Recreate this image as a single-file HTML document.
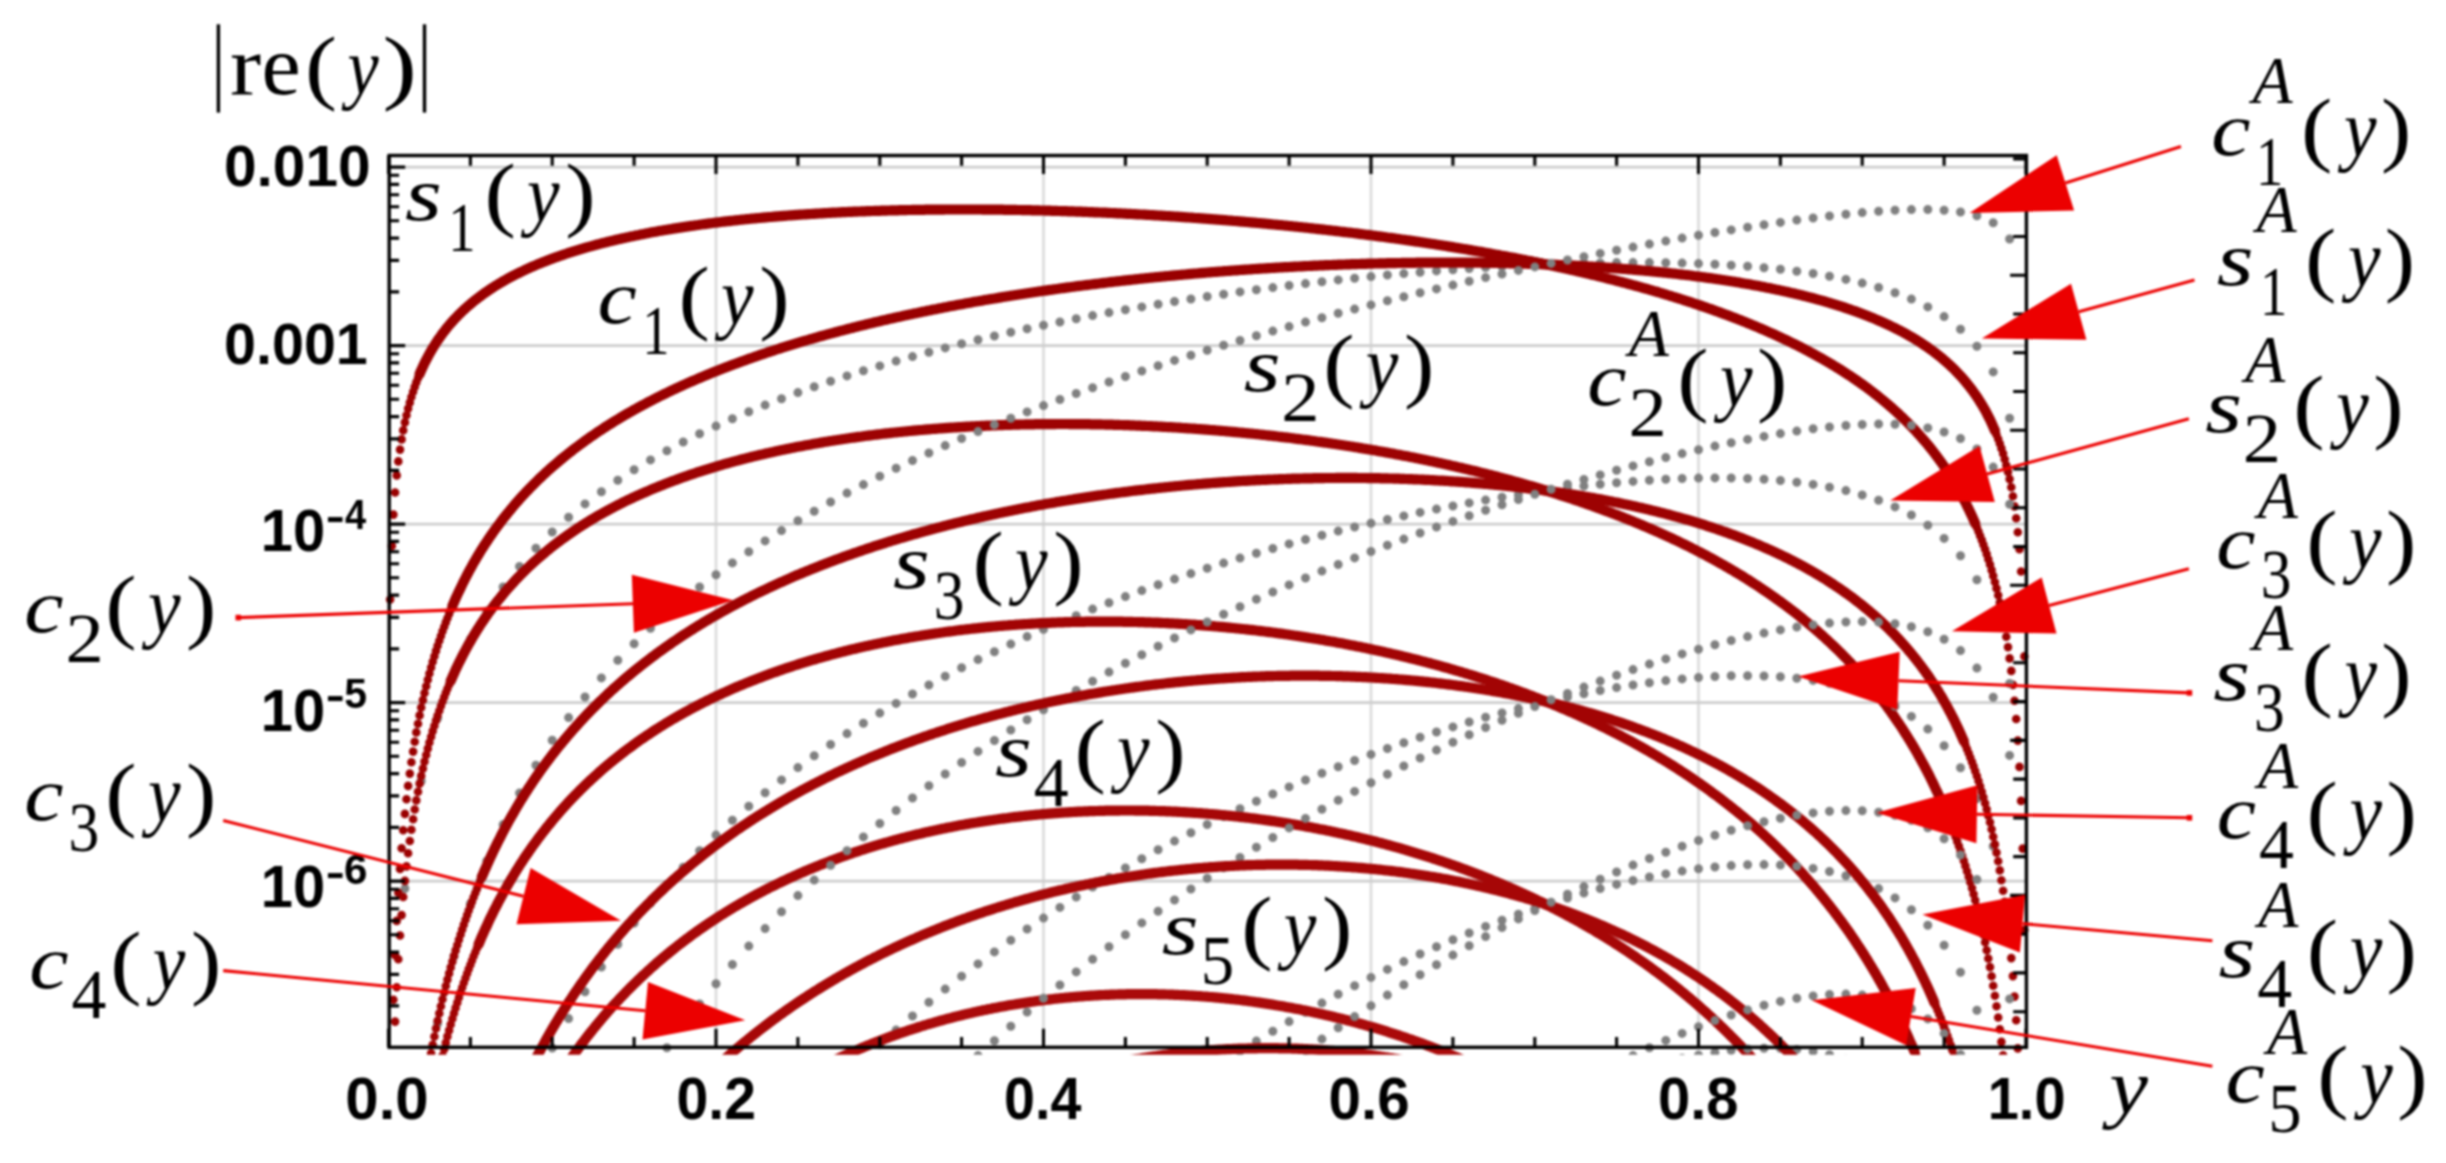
<!DOCTYPE html>
<html><head><meta charset="utf-8"><title>Relative error of arcsine and arccosine approximations</title>
<style>
html,body{margin:0;padding:0;background:#fff}
svg{display:block;filter:blur(1.0px)}
text{font-family:"Liberation Serif",serif;font-size:100px;fill:#000}
.t{font-family:"Liberation Sans",sans-serif;font-weight:bold}
.i{font-style:italic}
</style></head><body>
<svg width="2446" height="1163" viewBox="0 0 2446 1163">
<rect width="2446" height="1163" fill="#fff"/>
<defs><clipPath id="cp"><rect x="383.2" y="149.5" width="1649.2" height="905.3"/></clipPath></defs>
<path d="M716.0 155.5V1047.3M1043.5 155.5V1047.3M1371.0 155.5V1047.3M1698.5 155.5V1047.3" stroke="#dadada" stroke-width="2.6" fill="none"/>
<path d="M389.2 881.1H2026.4M389.2 702.6H2026.4M389.2 524.1H2026.4M389.2 345.6H2026.4M389.2 167.1H2026.4" stroke="#cdcdcd" stroke-width="2.6" fill="none"/>
<g clip-path="url(#cp)">
<path d="M390.1 599.5h0M391.8 545.9h0M393.4 514.6h0M395.1 492.5h0M396.7 475.4h0M398.3 461.4h0M400.0 449.6h0M401.6 439.4h0M403.2 430.4h0M404.9 422.4h0M406.5 415.2h0M408.1 408.6h0M409.8 402.6h0M411.4 397.0h0M413.1 391.8h0M414.7 386.9h0M416.3 382.4h0M418.0 378.1h0M1976.9 527.5h0M1978.5 531.5h0M1980.1 535.7h0M1981.8 540.1h0M1983.4 544.6h0M1985.1 549.3h0M1986.7 554.1h0M1988.3 559.2h0M1990.0 564.5h0M1991.6 570.1h0M1993.2 575.9h0M1994.9 582.0h0M1996.5 588.4h0M1998.2 595.3h0M1999.8 602.5h0M2001.4 610.2h0M2003.1 618.4h0M2004.7 627.2h0M2006.3 636.7h0M2008.0 647.1h0M2009.6 658.4h0M2011.3 670.9h0M2012.9 684.9h0M2014.5 700.7h0M2016.2 719.0h0M2017.8 740.6h0M2019.5 766.9h0M2021.1 800.9h0M2022.7 848.6h0M2024.4 930.0h0" stroke="#990000" stroke-width="8.6" stroke-linecap="round" fill="none"/><path d="M419.6 374.1L421.2 370.3L422.9 366.6L424.5 363.2L426.2 359.9L427.8 356.8L429.4 353.8L431.1 350.9L432.7 348.1L434.4 345.5L436.0 342.9L437.6 340.4L439.3 338.1L440.9 335.8L442.5 333.5L444.2 331.4L445.8 329.3L447.4 327.3L449.1 325.3L450.7 323.4L452.4 321.5L454.0 319.7L455.6 318.0L457.3 316.3L458.9 314.6L460.6 313.0L462.2 311.4L463.8 309.9L465.5 308.4L467.1 306.9L468.7 305.5L470.4 304.1L472.0 302.7L473.6 301.4L475.3 300.0L476.9 298.8L478.6 297.5L480.2 296.3L481.8 295.1L483.5 293.9L485.1 292.7L486.8 291.6L488.4 290.5L490.0 289.4L491.7 288.3L493.3 287.2L494.9 286.2L496.6 285.2L498.2 284.2L499.9 283.2L501.5 282.2L503.1 281.3L504.8 280.3L506.4 279.4L508.0 278.5L509.7 277.6L511.3 276.7L513.0 275.9L514.6 275.0L516.2 274.2L517.9 273.4L519.5 272.6L521.1 271.8L522.8 271.0L524.4 270.2L526.0 269.5L527.7 268.7L529.3 268.0L531.0 267.2L532.6 266.5L534.2 265.8L535.9 265.1L537.5 264.4L539.1 263.7L540.8 263.1L542.4 262.4L544.1 261.8L545.7 261.1L547.3 260.5L549.0 259.9L550.6 259.2L552.2 258.6L553.9 258.0L555.5 257.4L557.2 256.9L558.8 256.3L560.4 255.7L562.1 255.1L563.7 254.6L565.4 254.0L567.0 253.5L568.6 252.9L570.3 252.4L571.9 251.9L573.5 251.4L575.2 250.9L576.8 250.4L578.5 249.9L580.1 249.4L581.7 248.9L583.4 248.4L585.0 247.9L586.6 247.4L588.3 247.0L589.9 246.5L591.5 246.1L593.2 245.6L594.8 245.2L596.5 244.7L598.1 244.3L599.7 243.9L601.4 243.4L603.0 243.0L604.6 242.6L606.3 242.2L607.9 241.8L609.6 241.4L611.2 241.0L612.8 240.6L614.5 240.2L616.1 239.8L617.8 239.4L619.4 239.1L621.0 238.7L622.7 238.3L624.3 238.0L625.9 237.6L627.6 237.2L629.2 236.9L630.9 236.5L632.5 236.2L634.1 235.9L635.8 235.5L637.4 235.2L639.0 234.9L640.7 234.5L642.3 234.2L644.0 233.9L645.6 233.6L647.2 233.2L648.9 232.9L650.5 232.6L652.1 232.3L653.8 232.0L655.4 231.7L657.0 231.4L658.7 231.1L660.3 230.8L662.0 230.6L663.6 230.3L665.2 230.0L666.9 229.7L668.5 229.4L670.2 229.2L671.8 228.9L673.4 228.6L675.1 228.4L676.7 228.1L678.3 227.9L680.0 227.6L681.6 227.4L683.2 227.1L684.9 226.9L686.5 226.6L688.2 226.4L689.8 226.1L691.4 225.9L693.1 225.7L694.7 225.4L696.4 225.2L698.0 225.0L699.6 224.7L701.3 224.5L702.9 224.3L704.5 224.1L706.2 223.9L707.8 223.6L709.5 223.4L711.1 223.2L712.7 223.0L714.4 222.8L716.0 222.6L717.6 222.4L719.3 222.2L720.9 222.0L722.5 221.8L724.2 221.6L725.8 221.4L727.5 221.2L729.1 221.1L730.7 220.9L732.4 220.7L734.0 220.5L735.6 220.3L737.3 220.2L738.9 220.0L740.6 219.8L742.2 219.6L743.8 219.5L745.5 219.3L747.1 219.1L748.8 219.0L750.4 218.8L752.0 218.6L753.7 218.5L755.3 218.3L756.9 218.2L758.6 218.0L760.2 217.9L761.9 217.7L763.5 217.6L765.1 217.4L766.8 217.3L768.4 217.1L770.0 217.0L771.7 216.9L773.3 216.7L775.0 216.6L776.6 216.4L778.2 216.3L779.9 216.2L781.5 216.1L783.1 215.9L784.8 215.8L786.4 215.7L788.0 215.5L789.7 215.4L791.3 215.3L793.0 215.2L794.6 215.1L796.2 214.9L797.9 214.8L799.5 214.7L801.1 214.6L802.8 214.5L804.4 214.4L806.1 214.3L807.7 214.2L809.3 214.1L811.0 214.0L812.6 213.9L814.2 213.8L815.9 213.7L817.5 213.6L819.2 213.5L820.8 213.4L822.4 213.3L824.1 213.2L825.7 213.1L827.4 213.0L829.0 212.9L830.6 212.8L832.3 212.7L833.9 212.7L835.5 212.6L837.2 212.5L838.8 212.4L840.5 212.3L842.1 212.2L843.7 212.2L845.4 212.1L847.0 212.0L848.6 211.9L850.3 211.9L851.9 211.8L853.6 211.7L855.2 211.7L856.8 211.6L858.5 211.5L860.1 211.5L861.7 211.4L863.4 211.3L865.0 211.3L866.6 211.2L868.3 211.1L869.9 211.1L871.6 211.0L873.2 211.0L874.8 210.9L876.5 210.9L878.1 210.8L879.8 210.8L881.4 210.7L883.0 210.7L884.7 210.6L886.3 210.6L887.9 210.5L889.6 210.5L891.2 210.4L892.8 210.4L894.5 210.3L896.1 210.3L897.8 210.3L899.4 210.2L901.0 210.2L902.7 210.1L904.3 210.1L906.0 210.1L907.6 210.0L909.2 210.0L910.9 210.0L912.5 209.9L914.1 209.9L915.8 209.9L917.4 209.9L919.1 209.8L920.7 209.8L922.3 209.8L924.0 209.8L925.6 209.7L927.2 209.7L928.9 209.7L930.5 209.7L932.1 209.7L933.8 209.6L935.4 209.6L937.1 209.6L938.7 209.6L940.3 209.6L942.0 209.6L943.6 209.6L945.2 209.5L946.9 209.5L948.5 209.5L950.2 209.5L951.8 209.5L953.4 209.5L955.1 209.5L956.7 209.5L958.4 209.5L960.0 209.5L961.6 209.5L963.3 209.5L964.9 209.5L966.5 209.5L968.2 209.5L969.8 209.5L971.4 209.5L973.1 209.5L974.7 209.5L976.4 209.5L978.0 209.5L979.6 209.5L981.3 209.5L982.9 209.6L984.5 209.6L986.2 209.6L987.8 209.6L989.5 209.6L991.1 209.6L992.7 209.6L994.4 209.6L996.0 209.7L997.6 209.7L999.3 209.7L1000.9 209.7L1002.6 209.7L1004.2 209.8L1005.8 209.8L1007.5 209.8L1009.1 209.8L1010.8 209.9L1012.4 209.9L1014.0 209.9L1015.7 209.9L1017.3 210.0L1018.9 210.0L1020.6 210.0L1022.2 210.1L1023.9 210.1L1025.5 210.1L1027.1 210.2L1028.8 210.2L1030.4 210.2L1032.0 210.3L1033.7 210.3L1035.3 210.3L1037.0 210.4L1038.6 210.4L1040.2 210.5L1041.9 210.5L1043.5 210.5L1045.1 210.6L1046.8 210.6L1048.4 210.7L1050.1 210.7L1051.7 210.8L1053.3 210.8L1055.0 210.9L1056.6 210.9L1058.2 211.0L1059.9 211.0L1061.5 211.1L1063.2 211.1L1064.8 211.2L1066.4 211.2L1068.1 211.3L1069.7 211.3L1071.3 211.4L1073.0 211.4L1074.6 211.5L1076.2 211.6L1077.9 211.6L1079.5 211.7L1081.2 211.7L1082.8 211.8L1084.4 211.9L1086.1 211.9L1087.7 212.0L1089.3 212.1L1091.0 212.1L1092.6 212.2L1094.3 212.3L1095.9 212.3L1097.5 212.4L1099.2 212.5L1100.8 212.5L1102.5 212.6L1104.1 212.7L1105.7 212.7L1107.4 212.8L1109.0 212.9L1110.6 213.0L1112.3 213.0L1113.9 213.1L1115.5 213.2L1117.2 213.3L1118.8 213.4L1120.5 213.4L1122.1 213.5L1123.7 213.6L1125.4 213.7L1127.0 213.8L1128.7 213.8L1130.3 213.9L1131.9 214.0L1133.6 214.1L1135.2 214.2L1136.8 214.3L1138.5 214.4L1140.1 214.5L1141.8 214.5L1143.4 214.6L1145.0 214.7L1146.7 214.8L1148.3 214.9L1149.9 215.0L1151.6 215.1L1153.2 215.2L1154.8 215.3L1156.5 215.4L1158.1 215.5L1159.8 215.6L1161.4 215.7L1163.0 215.8L1164.7 215.9L1166.3 216.0L1168.0 216.1L1169.6 216.2L1171.2 216.3L1172.9 216.4L1174.5 216.5L1176.1 216.6L1177.8 216.7L1179.4 216.8L1181.0 216.9L1182.7 217.1L1184.3 217.2L1186.0 217.3L1187.6 217.4L1189.2 217.5L1190.9 217.6L1192.5 217.7L1194.2 217.9L1195.8 218.0L1197.4 218.1L1199.1 218.2L1200.7 218.3L1202.3 218.4L1204.0 218.6L1205.6 218.7L1207.2 218.8L1208.9 218.9L1210.5 219.1L1212.2 219.2L1213.8 219.3L1215.4 219.4L1217.1 219.6L1218.7 219.7L1220.3 219.8L1222.0 219.9L1223.6 220.1L1225.3 220.2L1226.9 220.3L1228.5 220.5L1230.2 220.6L1231.8 220.7L1233.5 220.9L1235.1 221.0L1236.7 221.1L1238.4 221.3L1240.0 221.4L1241.6 221.6L1243.3 221.7L1244.9 221.8L1246.6 222.0L1248.2 222.1L1249.8 222.3L1251.5 222.4L1253.1 222.6L1254.7 222.7L1256.4 222.8L1258.0 223.0L1259.7 223.1L1261.3 223.3L1262.9 223.4L1264.6 223.6L1266.2 223.7L1267.8 223.9L1269.5 224.1L1271.1 224.2L1272.8 224.4L1274.4 224.5L1276.0 224.7L1277.7 224.8L1279.3 225.0L1280.9 225.1L1282.6 225.3L1284.2 225.5L1285.8 225.6L1287.5 225.8L1289.1 226.0L1290.8 226.1L1292.4 226.3L1294.0 226.5L1295.7 226.6L1297.3 226.8L1299.0 227.0L1300.6 227.1L1302.2 227.3L1303.9 227.5L1305.5 227.6L1307.1 227.8L1308.8 228.0L1310.4 228.2L1312.1 228.3L1313.7 228.5L1315.3 228.7L1317.0 228.9L1318.6 229.1L1320.2 229.2L1321.9 229.4L1323.5 229.6L1325.2 229.8L1326.8 230.0L1328.4 230.2L1330.1 230.3L1331.7 230.5L1333.3 230.7L1335.0 230.9L1336.6 231.1L1338.2 231.3L1339.9 231.5L1341.5 231.7L1343.2 231.9L1344.8 232.1L1346.4 232.3L1348.1 232.5L1349.7 232.6L1351.3 232.8L1353.0 233.0L1354.6 233.2L1356.3 233.4L1357.9 233.6L1359.5 233.9L1361.2 234.1L1362.8 234.3L1364.4 234.5L1366.1 234.7L1367.7 234.9L1369.4 235.1L1371.0 235.3L1372.6 235.5L1374.3 235.7L1375.9 235.9L1377.5 236.2L1379.2 236.4L1380.8 236.6L1382.5 236.8L1384.1 237.0L1385.7 237.2L1387.4 237.5L1389.0 237.7L1390.7 237.9L1392.3 238.1L1393.9 238.3L1395.6 238.6L1397.2 238.8L1398.8 239.0L1400.5 239.3L1402.1 239.5L1403.8 239.7L1405.4 239.9L1407.0 240.2L1408.7 240.4L1410.3 240.6L1411.9 240.9L1413.6 241.1L1415.2 241.4L1416.8 241.6L1418.5 241.8L1420.1 242.1L1421.8 242.3L1423.4 242.6L1425.0 242.8L1426.7 243.1L1428.3 243.3L1430.0 243.6L1431.6 243.8L1433.2 244.0L1434.9 244.3L1436.5 244.6L1438.1 244.8L1439.8 245.1L1441.4 245.3L1443.0 245.6L1444.7 245.8L1446.3 246.1L1448.0 246.4L1449.6 246.6L1451.2 246.9L1452.9 247.1L1454.5 247.4L1456.2 247.7L1457.8 247.9L1459.4 248.2L1461.1 248.5L1462.7 248.8L1464.3 249.0L1466.0 249.3L1467.6 249.6L1469.2 249.9L1470.9 250.1L1472.5 250.4L1474.2 250.7L1475.8 251.0L1477.4 251.3L1479.1 251.5L1480.7 251.8L1482.4 252.1L1484.0 252.4L1485.6 252.7L1487.3 253.0L1488.9 253.3L1490.5 253.6L1492.2 253.9L1493.8 254.2L1495.5 254.5L1497.1 254.7L1498.7 255.0L1500.4 255.4L1502.0 255.7L1503.6 256.0L1505.3 256.3L1506.9 256.6L1508.6 256.9L1510.2 257.2L1511.8 257.5L1513.5 257.8L1515.1 258.1L1516.7 258.4L1518.4 258.8L1520.0 259.1L1521.7 259.4L1523.3 259.7L1524.9 260.0L1526.6 260.4L1528.2 260.7L1529.8 261.0L1531.5 261.3L1533.1 261.7L1534.8 262.0L1536.4 262.3L1538.0 262.7L1539.7 263.0L1541.3 263.3L1542.9 263.7L1544.6 264.0L1546.2 264.4L1547.8 264.7L1549.5 265.1L1551.1 265.4L1552.8 265.8L1554.4 266.1L1556.0 266.5L1557.7 266.8L1559.3 267.2L1561.0 267.5L1562.6 267.9L1564.2 268.2L1565.9 268.6L1567.5 269.0L1569.1 269.3L1570.8 269.7L1572.4 270.1L1574.0 270.4L1575.7 270.8L1577.3 271.2L1579.0 271.6L1580.6 272.0L1582.2 272.3L1583.9 272.7L1585.5 273.1L1587.1 273.5L1588.8 273.9L1590.4 274.3L1592.1 274.7L1593.7 275.0L1595.3 275.4L1597.0 275.8L1598.6 276.2L1600.2 276.6L1601.9 277.0L1603.5 277.4L1605.2 277.9L1606.8 278.3L1608.4 278.7L1610.1 279.1L1611.7 279.5L1613.3 279.9L1615.0 280.3L1616.6 280.8L1618.3 281.2L1619.9 281.6L1621.5 282.0L1623.2 282.5L1624.8 282.9L1626.5 283.3L1628.1 283.8L1629.7 284.2L1631.4 284.6L1633.0 285.1L1634.6 285.5L1636.3 286.0L1637.9 286.4L1639.5 286.9L1641.2 287.3L1642.8 287.8L1644.5 288.3L1646.1 288.7L1647.7 289.2L1649.4 289.7L1651.0 290.1L1652.7 290.6L1654.3 291.1L1655.9 291.5L1657.6 292.0L1659.2 292.5L1660.8 293.0L1662.5 293.5L1664.1 294.0L1665.8 294.5L1667.4 295.0L1669.0 295.5L1670.7 296.0L1672.3 296.5L1673.9 297.0L1675.6 297.5L1677.2 298.0L1678.9 298.5L1680.5 299.0L1682.1 299.5L1683.8 300.1L1685.4 300.6L1687.0 301.1L1688.7 301.6L1690.3 302.2L1692.0 302.7L1693.6 303.3L1695.2 303.8L1696.9 304.4L1698.5 304.9L1700.1 305.5L1701.8 306.0L1703.4 306.6L1705.1 307.1L1706.7 307.7L1708.3 308.3L1710.0 308.8L1711.6 309.4L1713.2 310.0L1714.9 310.6L1716.5 311.2L1718.2 311.8L1719.8 312.4L1721.4 313.0L1723.1 313.6L1724.7 314.2L1726.3 314.8L1728.0 315.4L1729.6 316.0L1731.2 316.6L1732.9 317.3L1734.5 317.9L1736.2 318.5L1737.8 319.2L1739.4 319.8L1741.1 320.4L1742.7 321.1L1744.4 321.7L1746.0 322.4L1747.6 323.1L1749.3 323.7L1750.9 324.4L1752.5 325.1L1754.2 325.8L1755.8 326.4L1757.5 327.1L1759.1 327.8L1760.7 328.5L1762.4 329.2L1764.0 329.9L1765.6 330.6L1767.3 331.4L1768.9 332.1L1770.5 332.8L1772.2 333.5L1773.8 334.3L1775.5 335.0L1777.1 335.8L1778.7 336.5L1780.4 337.3L1782.0 338.1L1783.6 338.8L1785.3 339.6L1786.9 340.4L1788.6 341.2L1790.2 342.0L1791.8 342.8L1793.5 343.6L1795.1 344.4L1796.8 345.2L1798.4 346.0L1800.0 346.9L1801.7 347.7L1803.3 348.5L1804.9 349.4L1806.6 350.3L1808.2 351.1L1809.8 352.0L1811.5 352.9L1813.1 353.8L1814.8 354.7L1816.4 355.6L1818.0 356.5L1819.7 357.4L1821.3 358.3L1823.0 359.2L1824.6 360.2L1826.2 361.1L1827.9 362.1L1829.5 363.0L1831.1 364.0L1832.8 365.0L1834.4 366.0L1836.0 367.0L1837.7 368.0L1839.3 369.0L1841.0 370.0L1842.6 371.1L1844.2 372.1L1845.9 373.2L1847.5 374.3L1849.2 375.3L1850.8 376.4L1852.4 377.5L1854.1 378.6L1855.7 379.7L1857.3 380.9L1859.0 382.0L1860.6 383.2L1862.2 384.3L1863.9 385.5L1865.5 386.7L1867.2 387.9L1868.8 389.1L1870.4 390.4L1872.1 391.6L1873.7 392.9L1875.4 394.2L1877.0 395.4L1878.6 396.7L1880.3 398.1L1881.9 399.4L1883.5 400.7L1885.2 402.1L1886.8 403.5L1888.5 404.9L1890.1 406.3L1891.7 407.7L1893.4 409.2L1895.0 410.6L1896.6 412.1L1898.3 413.6L1899.9 415.2L1901.6 416.7L1903.2 418.3L1904.8 419.9L1906.5 421.5L1908.1 423.1L1909.7 424.8L1911.4 426.5L1913.0 428.2L1914.7 429.9L1916.3 431.7L1917.9 433.5L1919.6 435.3L1921.2 437.1L1922.8 439.0L1924.5 440.9L1926.1 442.8L1927.8 444.8L1929.4 446.8L1931.0 448.8L1932.7 450.9L1934.3 453.0L1935.9 455.1L1937.6 457.3L1939.2 459.6L1940.9 461.8L1942.5 464.1L1944.1 466.5L1945.8 468.9L1947.4 471.4L1949.0 473.9L1950.7 476.4L1952.3 479.1L1954.0 481.8L1955.6 484.5L1957.2 487.3L1958.9 490.2L1960.5 493.1L1962.1 496.2L1963.8 499.3L1965.4 502.4L1967.0 505.7L1968.7 509.1L1970.3 512.5L1972.0 516.1L1973.6 519.8L1975.2 523.6" stroke="#990000" stroke-width="10.2" stroke-linejoin="round" stroke-linecap="round" fill="none"/>
<path d="M404.9 888.5h0M421.2 781.0h0M437.6 718.2h0M454.0 673.6h0M470.4 639.1h0M486.8 610.9h0M503.1 587.0h0M519.5 566.4h0M535.9 548.2h0M552.2 532.0h0M568.6 517.3h0M585.0 503.9h0M601.4 491.7h0M617.8 480.3h0M634.1 469.8h0M650.5 459.9h0M666.9 450.7h0M683.2 442.0h0M699.6 433.8h0M716.0 426.1h0M732.4 418.7h0M748.8 411.7h0M765.1 405.1h0M781.5 398.7h0M797.9 392.6h0M814.2 386.8h0M830.6 381.3h0M847.0 375.9h0M863.4 370.8h0M879.8 365.9h0M896.1 361.1h0M912.5 356.6h0M928.9 352.2h0M945.2 347.9h0M961.6 343.8h0M978.0 339.8h0M994.4 336.0h0M1010.8 332.3h0M1027.1 328.8h0M1043.5 325.3h0M1059.9 322.0h0M1076.2 318.8h0M1092.6 315.6h0M1109.0 312.6h0M1125.4 309.7h0M1141.8 306.9h0M1158.1 304.2h0M1174.5 301.5h0M1190.9 299.0h0M1207.2 296.5h0M1223.6 294.2h0M1240.0 291.9h0M1256.4 289.7h0M1272.8 287.6h0M1289.1 285.5h0M1305.5 283.6h0M1321.9 281.7h0M1338.2 279.9h0M1354.6 278.2h0M1371.0 276.6h0M1387.4 275.0h0M1403.8 273.6h0M1420.1 272.2h0M1436.5 270.9h0M1452.9 269.7h0M1469.2 268.5h0M1485.6 267.5h0M1502.0 266.5h0M1518.4 265.7h0M1534.8 264.9h0M1551.1 264.2h0M1567.5 263.7h0M1583.9 263.2h0M1600.2 262.9h0M1616.6 262.6h0M1633.0 262.6h0M1649.4 262.6h0M1665.8 262.8h0M1682.1 263.1h0M1698.5 263.6h0M1714.9 264.3h0M1731.2 265.2h0M1747.6 266.3h0M1764.0 267.7h0M1780.4 269.3h0M1796.8 271.2h0M1813.1 273.5h0M1829.5 276.2h0M1845.9 279.4h0M1862.2 283.1h0M1878.6 287.5h0M1895.0 292.8h0M1911.4 299.1h0M1927.8 306.9h0M1944.1 316.6h0M1960.5 329.2h0M1976.9 346.3h0M1993.2 371.9h0M2009.6 418.3h0" stroke="#808080" stroke-width="9.0" stroke-linecap="round" fill="none"/>
<path d="M395.1 1021.6h0M396.7 987.2h0M398.3 959.2h0M400.0 935.5h0M401.6 915.1h0M403.2 897.0h0M404.9 880.9h0M406.5 866.4h0M408.1 853.2h0M409.8 841.0h0M411.4 829.8h0M413.1 819.3h0M414.7 809.5h0M416.3 800.4h0M418.0 791.8h0M419.6 783.6h0M421.2 775.9h0M422.9 768.6h0M424.5 761.6h0M426.2 755.0h0M427.8 748.6h0M429.4 742.5h0M431.1 736.7h0M432.7 731.1h0M434.4 725.7h0M436.0 720.5h0M437.6 715.5h0M439.3 710.7h0M440.9 706.0h0M442.5 701.5h0M444.2 697.1h0M445.8 692.8h0M447.4 688.7h0M449.1 684.7h0M1945.8 811.6h0M1947.4 815.5h0M1949.0 819.6h0M1950.7 823.8h0M1952.3 828.0h0M1954.0 832.4h0M1955.6 836.8h0M1957.2 841.4h0M1958.9 846.0h0M1960.5 850.8h0M1962.1 855.7h0M1963.8 860.7h0M1965.4 865.9h0M1967.0 871.2h0M1968.7 876.7h0M1970.3 882.3h0M1972.0 888.1h0M1973.6 894.1h0M1975.2 900.3h0M1976.9 906.7h0M1978.5 913.3h0M1980.1 920.1h0M1981.8 927.2h0M1983.4 934.6h0M1985.1 942.2h0M1986.7 950.2h0M1988.3 958.5h0M1990.0 967.1h0M1991.6 976.2h0M1993.2 985.7h0M1994.9 995.8h0M1996.5 1006.3h0M1998.2 1017.5h0M1999.8 1029.3h0M2001.4 1041.9h0M2003.1 1055.4h0" stroke="#9d0202" stroke-width="8.6" stroke-linecap="round" fill="none"/><path d="M450.7 680.8L452.4 677.1L454.0 673.4L455.6 669.8L457.3 666.3L458.9 662.9L460.6 659.6L462.2 656.4L463.8 653.2L465.5 650.1L467.1 647.1L468.7 644.2L470.4 641.3L472.0 638.5L473.6 635.7L475.3 633.0L476.9 630.4L478.6 627.8L480.2 625.2L481.8 622.7L483.5 620.3L485.1 617.9L486.8 615.5L488.4 613.2L490.0 611.0L491.7 608.7L493.3 606.5L494.9 604.4L496.6 602.3L498.2 600.2L499.9 598.2L501.5 596.2L503.1 594.2L504.8 592.2L506.4 590.3L508.0 588.4L509.7 586.6L511.3 584.8L513.0 583.0L514.6 581.2L516.2 579.4L517.9 577.7L519.5 576.0L521.1 574.4L522.8 572.7L524.4 571.1L526.0 569.5L527.7 567.9L529.3 566.4L531.0 564.8L532.6 563.3L534.2 561.8L535.9 560.4L537.5 558.9L539.1 557.5L540.8 556.1L542.4 554.7L544.1 553.3L545.7 551.9L547.3 550.6L549.0 549.2L550.6 547.9L552.2 546.6L553.9 545.3L555.5 544.1L557.2 542.8L558.8 541.6L560.4 540.4L562.1 539.2L563.7 538.0L565.4 536.8L567.0 535.6L568.6 534.5L570.3 533.3L571.9 532.2L573.5 531.1L575.2 530.0L576.8 528.9L578.5 527.8L580.1 526.8L581.7 525.7L583.4 524.7L585.0 523.6L586.6 522.6L588.3 521.6L589.9 520.6L591.5 519.6L593.2 518.6L594.8 517.7L596.5 516.7L598.1 515.8L599.7 514.8L601.4 513.9L603.0 513.0L604.6 512.1L606.3 511.2L607.9 510.3L609.6 509.4L611.2 508.5L612.8 507.7L614.5 506.8L616.1 506.0L617.8 505.1L619.4 504.3L621.0 503.5L622.7 502.6L624.3 501.8L625.9 501.0L627.6 500.2L629.2 499.5L630.9 498.7L632.5 497.9L634.1 497.1L635.8 496.4L637.4 495.6L639.0 494.9L640.7 494.2L642.3 493.4L644.0 492.7L645.6 492.0L647.2 491.3L648.9 490.6L650.5 489.9L652.1 489.2L653.8 488.5L655.4 487.8L657.0 487.2L658.7 486.5L660.3 485.9L662.0 485.2L663.6 484.6L665.2 483.9L666.9 483.3L668.5 482.6L670.2 482.0L671.8 481.4L673.4 480.8L675.1 480.2L676.7 479.6L678.3 479.0L680.0 478.4L681.6 477.8L683.2 477.2L684.9 476.6L686.5 476.1L688.2 475.5L689.8 474.9L691.4 474.4L693.1 473.8L694.7 473.3L696.4 472.7L698.0 472.2L699.6 471.7L701.3 471.1L702.9 470.6L704.5 470.1L706.2 469.6L707.8 469.1L709.5 468.6L711.1 468.1L712.7 467.6L714.4 467.1L716.0 466.6L717.6 466.1L719.3 465.6L720.9 465.1L722.5 464.7L724.2 464.2L725.8 463.7L727.5 463.3L729.1 462.8L730.7 462.4L732.4 461.9L734.0 461.5L735.6 461.0L737.3 460.6L738.9 460.2L740.6 459.7L742.2 459.3L743.8 458.9L745.5 458.5L747.1 458.0L748.8 457.6L750.4 457.2L752.0 456.8L753.7 456.4L755.3 456.0L756.9 455.6L758.6 455.2L760.2 454.8L761.9 454.5L763.5 454.1L765.1 453.7L766.8 453.3L768.4 453.0L770.0 452.6L771.7 452.2L773.3 451.9L775.0 451.5L776.6 451.1L778.2 450.8L779.9 450.4L781.5 450.1L783.1 449.8L784.8 449.4L786.4 449.1L788.0 448.7L789.7 448.4L791.3 448.1L793.0 447.8L794.6 447.4L796.2 447.1L797.9 446.8L799.5 446.5L801.1 446.2L802.8 445.9L804.4 445.6L806.1 445.3L807.7 445.0L809.3 444.7L811.0 444.4L812.6 444.1L814.2 443.8L815.9 443.5L817.5 443.2L819.2 442.9L820.8 442.6L822.4 442.4L824.1 442.1L825.7 441.8L827.4 441.6L829.0 441.3L830.6 441.0L832.3 440.8L833.9 440.5L835.5 440.2L837.2 440.0L838.8 439.7L840.5 439.5L842.1 439.2L843.7 439.0L845.4 438.8L847.0 438.5L848.6 438.3L850.3 438.0L851.9 437.8L853.6 437.6L855.2 437.4L856.8 437.1L858.5 436.9L860.1 436.7L861.7 436.5L863.4 436.2L865.0 436.0L866.6 435.8L868.3 435.6L869.9 435.4L871.6 435.2L873.2 435.0L874.8 434.8L876.5 434.6L878.1 434.4L879.8 434.2L881.4 434.0L883.0 433.8L884.7 433.6L886.3 433.4L887.9 433.3L889.6 433.1L891.2 432.9L892.8 432.7L894.5 432.5L896.1 432.4L897.8 432.2L899.4 432.0L901.0 431.9L902.7 431.7L904.3 431.5L906.0 431.4L907.6 431.2L909.2 431.0L910.9 430.9L912.5 430.7L914.1 430.6L915.8 430.4L917.4 430.3L919.1 430.1L920.7 430.0L922.3 429.9L924.0 429.7L925.6 429.6L927.2 429.4L928.9 429.3L930.5 429.2L932.1 429.0L933.8 428.9L935.4 428.8L937.1 428.7L938.7 428.5L940.3 428.4L942.0 428.3L943.6 428.2L945.2 428.1L946.9 427.9L948.5 427.8L950.2 427.7L951.8 427.6L953.4 427.5L955.1 427.4L956.7 427.3L958.4 427.2L960.0 427.1L961.6 427.0L963.3 426.9L964.9 426.8L966.5 426.7L968.2 426.6L969.8 426.5L971.4 426.4L973.1 426.3L974.7 426.3L976.4 426.2L978.0 426.1L979.6 426.0L981.3 425.9L982.9 425.9L984.5 425.8L986.2 425.7L987.8 425.6L989.5 425.6L991.1 425.5L992.7 425.4L994.4 425.4L996.0 425.3L997.6 425.2L999.3 425.2L1000.9 425.1L1002.6 425.1L1004.2 425.0L1005.8 424.9L1007.5 424.9L1009.1 424.8L1010.8 424.8L1012.4 424.7L1014.0 424.7L1015.7 424.7L1017.3 424.6L1018.9 424.6L1020.6 424.5L1022.2 424.5L1023.9 424.5L1025.5 424.4L1027.1 424.4L1028.8 424.4L1030.4 424.3L1032.0 424.3L1033.7 424.3L1035.3 424.2L1037.0 424.2L1038.6 424.2L1040.2 424.2L1041.9 424.2L1043.5 424.1L1045.1 424.1L1046.8 424.1L1048.4 424.1L1050.1 424.1L1051.7 424.1L1053.3 424.1L1055.0 424.1L1056.6 424.0L1058.2 424.0L1059.9 424.0L1061.5 424.0L1063.2 424.0L1064.8 424.0L1066.4 424.0L1068.1 424.0L1069.7 424.1L1071.3 424.1L1073.0 424.1L1074.6 424.1L1076.2 424.1L1077.9 424.1L1079.5 424.1L1081.2 424.1L1082.8 424.2L1084.4 424.2L1086.1 424.2L1087.7 424.2L1089.3 424.2L1091.0 424.3L1092.6 424.3L1094.3 424.3L1095.9 424.3L1097.5 424.4L1099.2 424.4L1100.8 424.4L1102.5 424.5L1104.1 424.5L1105.7 424.6L1107.4 424.6L1109.0 424.6L1110.6 424.7L1112.3 424.7L1113.9 424.8L1115.5 424.8L1117.2 424.9L1118.8 424.9L1120.5 425.0L1122.1 425.0L1123.7 425.1L1125.4 425.1L1127.0 425.2L1128.7 425.2L1130.3 425.3L1131.9 425.4L1133.6 425.4L1135.2 425.5L1136.8 425.6L1138.5 425.6L1140.1 425.7L1141.8 425.8L1143.4 425.8L1145.0 425.9L1146.7 426.0L1148.3 426.0L1149.9 426.1L1151.6 426.2L1153.2 426.3L1154.8 426.4L1156.5 426.4L1158.1 426.5L1159.8 426.6L1161.4 426.7L1163.0 426.8L1164.7 426.9L1166.3 427.0L1168.0 427.1L1169.6 427.2L1171.2 427.2L1172.9 427.3L1174.5 427.4L1176.1 427.5L1177.8 427.6L1179.4 427.7L1181.0 427.8L1182.7 428.0L1184.3 428.1L1186.0 428.2L1187.6 428.3L1189.2 428.4L1190.9 428.5L1192.5 428.6L1194.2 428.7L1195.8 428.8L1197.4 429.0L1199.1 429.1L1200.7 429.2L1202.3 429.3L1204.0 429.4L1205.6 429.6L1207.2 429.7L1208.9 429.8L1210.5 430.0L1212.2 430.1L1213.8 430.2L1215.4 430.3L1217.1 430.5L1218.7 430.6L1220.3 430.8L1222.0 430.9L1223.6 431.0L1225.3 431.2L1226.9 431.3L1228.5 431.5L1230.2 431.6L1231.8 431.8L1233.5 431.9L1235.1 432.1L1236.7 432.2L1238.4 432.4L1240.0 432.5L1241.6 432.7L1243.3 432.8L1244.9 433.0L1246.6 433.2L1248.2 433.3L1249.8 433.5L1251.5 433.6L1253.1 433.8L1254.7 434.0L1256.4 434.1L1258.0 434.3L1259.7 434.5L1261.3 434.7L1262.9 434.8L1264.6 435.0L1266.2 435.2L1267.8 435.4L1269.5 435.6L1271.1 435.7L1272.8 435.9L1274.4 436.1L1276.0 436.3L1277.7 436.5L1279.3 436.7L1280.9 436.9L1282.6 437.1L1284.2 437.3L1285.8 437.4L1287.5 437.6L1289.1 437.8L1290.8 438.0L1292.4 438.2L1294.0 438.4L1295.7 438.7L1297.3 438.9L1299.0 439.1L1300.6 439.3L1302.2 439.5L1303.9 439.7L1305.5 439.9L1307.1 440.1L1308.8 440.3L1310.4 440.6L1312.1 440.8L1313.7 441.0L1315.3 441.2L1317.0 441.5L1318.6 441.7L1320.2 441.9L1321.9 442.1L1323.5 442.4L1325.2 442.6L1326.8 442.8L1328.4 443.1L1330.1 443.3L1331.7 443.6L1333.3 443.8L1335.0 444.0L1336.6 444.3L1338.2 444.5L1339.9 444.8L1341.5 445.0L1343.2 445.3L1344.8 445.5L1346.4 445.8L1348.1 446.0L1349.7 446.3L1351.3 446.5L1353.0 446.8L1354.6 447.1L1356.3 447.3L1357.9 447.6L1359.5 447.9L1361.2 448.1L1362.8 448.4L1364.4 448.7L1366.1 448.9L1367.7 449.2L1369.4 449.5L1371.0 449.8L1372.6 450.1L1374.3 450.3L1375.9 450.6L1377.5 450.9L1379.2 451.2L1380.8 451.5L1382.5 451.8L1384.1 452.1L1385.7 452.4L1387.4 452.6L1389.0 452.9L1390.7 453.2L1392.3 453.5L1393.9 453.8L1395.6 454.2L1397.2 454.5L1398.8 454.8L1400.5 455.1L1402.1 455.4L1403.8 455.7L1405.4 456.0L1407.0 456.3L1408.7 456.6L1410.3 457.0L1411.9 457.3L1413.6 457.6L1415.2 457.9L1416.8 458.3L1418.5 458.6L1420.1 458.9L1421.8 459.3L1423.4 459.6L1425.0 459.9L1426.7 460.3L1428.3 460.6L1430.0 461.0L1431.6 461.3L1433.2 461.6L1434.9 462.0L1436.5 462.3L1438.1 462.7L1439.8 463.0L1441.4 463.4L1443.0 463.8L1444.7 464.1L1446.3 464.5L1448.0 464.8L1449.6 465.2L1451.2 465.6L1452.9 466.0L1454.5 466.3L1456.2 466.7L1457.8 467.1L1459.4 467.5L1461.1 467.8L1462.7 468.2L1464.3 468.6L1466.0 469.0L1467.6 469.4L1469.2 469.8L1470.9 470.2L1472.5 470.5L1474.2 470.9L1475.8 471.3L1477.4 471.7L1479.1 472.1L1480.7 472.6L1482.4 473.0L1484.0 473.4L1485.6 473.8L1487.3 474.2L1488.9 474.6L1490.5 475.0L1492.2 475.5L1493.8 475.9L1495.5 476.3L1497.1 476.7L1498.7 477.2L1500.4 477.6L1502.0 478.0L1503.6 478.5L1505.3 478.9L1506.9 479.3L1508.6 479.8L1510.2 480.2L1511.8 480.7L1513.5 481.1L1515.1 481.6L1516.7 482.0L1518.4 482.5L1520.0 482.9L1521.7 483.4L1523.3 483.9L1524.9 484.3L1526.6 484.8L1528.2 485.3L1529.8 485.8L1531.5 486.2L1533.1 486.7L1534.8 487.2L1536.4 487.7L1538.0 488.2L1539.7 488.7L1541.3 489.2L1542.9 489.7L1544.6 490.1L1546.2 490.7L1547.8 491.2L1549.5 491.7L1551.1 492.2L1552.8 492.7L1554.4 493.2L1556.0 493.7L1557.7 494.2L1559.3 494.8L1561.0 495.3L1562.6 495.8L1564.2 496.3L1565.9 496.9L1567.5 497.4L1569.1 497.9L1570.8 498.5L1572.4 499.0L1574.0 499.6L1575.7 500.1L1577.3 500.7L1579.0 501.2L1580.6 501.8L1582.2 502.4L1583.9 502.9L1585.5 503.5L1587.1 504.1L1588.8 504.6L1590.4 505.2L1592.1 505.8L1593.7 506.4L1595.3 507.0L1597.0 507.6L1598.6 508.2L1600.2 508.8L1601.9 509.4L1603.5 510.0L1605.2 510.6L1606.8 511.2L1608.4 511.8L1610.1 512.4L1611.7 513.0L1613.3 513.7L1615.0 514.3L1616.6 514.9L1618.3 515.5L1619.9 516.2L1621.5 516.8L1623.2 517.5L1624.8 518.1L1626.5 518.8L1628.1 519.4L1629.7 520.1L1631.4 520.7L1633.0 521.4L1634.6 522.1L1636.3 522.8L1637.9 523.4L1639.5 524.1L1641.2 524.8L1642.8 525.5L1644.5 526.2L1646.1 526.9L1647.7 527.6L1649.4 528.3L1651.0 529.0L1652.7 529.7L1654.3 530.4L1655.9 531.2L1657.6 531.9L1659.2 532.6L1660.8 533.3L1662.5 534.1L1664.1 534.8L1665.8 535.6L1667.4 536.3L1669.0 537.1L1670.7 537.8L1672.3 538.6L1673.9 539.4L1675.6 540.2L1677.2 540.9L1678.9 541.7L1680.5 542.5L1682.1 543.3L1683.8 544.1L1685.4 544.9L1687.0 545.7L1688.7 546.5L1690.3 547.3L1692.0 548.2L1693.6 549.0L1695.2 549.8L1696.9 550.7L1698.5 551.5L1700.1 552.4L1701.8 553.2L1703.4 554.1L1705.1 554.9L1706.7 555.8L1708.3 556.7L1710.0 557.6L1711.6 558.4L1713.2 559.3L1714.9 560.2L1716.5 561.1L1718.2 562.1L1719.8 563.0L1721.4 563.9L1723.1 564.8L1724.7 565.8L1726.3 566.7L1728.0 567.6L1729.6 568.6L1731.2 569.6L1732.9 570.5L1734.5 571.5L1736.2 572.5L1737.8 573.5L1739.4 574.4L1741.1 575.4L1742.7 576.4L1744.4 577.5L1746.0 578.5L1747.6 579.5L1749.3 580.5L1750.9 581.6L1752.5 582.6L1754.2 583.7L1755.8 584.7L1757.5 585.8L1759.1 586.9L1760.7 588.0L1762.4 589.1L1764.0 590.2L1765.6 591.3L1767.3 592.4L1768.9 593.5L1770.5 594.7L1772.2 595.8L1773.8 597.0L1775.5 598.1L1777.1 599.3L1778.7 600.5L1780.4 601.6L1782.0 602.8L1783.6 604.0L1785.3 605.3L1786.9 606.5L1788.6 607.7L1790.2 609.0L1791.8 610.2L1793.5 611.5L1795.1 612.7L1796.8 614.0L1798.4 615.3L1800.0 616.6L1801.7 617.9L1803.3 619.3L1804.9 620.6L1806.6 622.0L1808.2 623.3L1809.8 624.7L1811.5 626.1L1813.1 627.5L1814.8 628.9L1816.4 630.3L1818.0 631.7L1819.7 633.2L1821.3 634.6L1823.0 636.1L1824.6 637.6L1826.2 639.1L1827.9 640.6L1829.5 642.1L1831.1 643.6L1832.8 645.2L1834.4 646.7L1836.0 648.3L1837.7 649.9L1839.3 651.5L1841.0 653.2L1842.6 654.8L1844.2 656.5L1845.9 658.1L1847.5 659.8L1849.2 661.5L1850.8 663.3L1852.4 665.0L1854.1 666.8L1855.7 668.5L1857.3 670.3L1859.0 672.2L1860.6 674.0L1862.2 675.8L1863.9 677.7L1865.5 679.6L1867.2 681.5L1868.8 683.5L1870.4 685.4L1872.1 687.4L1873.7 689.4L1875.4 691.4L1877.0 693.5L1878.6 695.6L1880.3 697.7L1881.9 699.8L1883.5 702.0L1885.2 704.1L1886.8 706.3L1888.5 708.6L1890.1 710.8L1891.7 713.1L1893.4 715.4L1895.0 717.8L1896.6 720.2L1898.3 722.6L1899.9 725.0L1901.6 727.5L1903.2 730.0L1904.8 732.6L1906.5 735.2L1908.1 737.8L1909.7 740.4L1911.4 743.2L1913.0 745.9L1914.7 748.7L1916.3 751.5L1917.9 754.4L1919.6 757.3L1921.2 760.3L1922.8 763.3L1924.5 766.3L1926.1 769.4L1927.8 772.6L1929.4 775.8L1931.0 779.1L1932.7 782.5L1934.3 785.9L1935.9 789.3L1937.6 792.8L1939.2 796.4L1940.9 800.1L1942.5 803.9L1944.1 807.7" stroke="#9d0202" stroke-width="10.2" stroke-linejoin="round" stroke-linecap="round" fill="none"/>
<path d="M552.2 1048.0h0M568.6 1018.6h0M585.0 991.7h0M601.4 967.1h0M617.8 944.3h0M634.1 923.1h0M650.5 903.3h0M666.9 884.8h0M683.2 867.3h0M699.6 850.8h0M716.0 835.1h0M732.4 820.3h0M748.8 806.2h0M765.1 792.7h0M781.5 779.9h0M797.9 767.6h0M814.2 755.8h0M830.6 744.5h0M847.0 733.6h0M863.4 723.2h0M879.8 713.1h0M896.1 703.4h0M912.5 694.0h0M928.9 685.0h0M945.2 676.2h0M961.6 667.8h0M978.0 659.6h0M994.4 651.7h0M1010.8 644.1h0M1027.1 636.6h0M1043.5 629.4h0M1059.9 622.5h0M1076.2 615.7h0M1092.6 609.1h0M1109.0 602.8h0M1125.4 596.6h0M1141.8 590.6h0M1158.1 584.7h0M1174.5 579.1h0M1190.9 573.6h0M1207.2 568.3h0M1223.6 563.1h0M1240.0 558.1h0M1256.4 553.2h0M1272.8 548.5h0M1289.1 543.9h0M1305.5 539.5h0M1321.9 535.2h0M1338.2 531.1h0M1354.6 527.0h0M1371.0 523.2h0M1387.4 519.5h0M1403.8 515.9h0M1420.1 512.4h0M1436.5 509.1h0M1452.9 506.0h0M1469.2 502.9h0M1485.6 500.1h0M1502.0 497.3h0M1518.4 494.8h0M1534.8 492.3h0M1551.1 490.1h0M1567.5 488.0h0M1583.9 486.0h0M1600.2 484.3h0M1616.6 482.7h0M1633.0 481.4h0M1649.4 480.2h0M1665.8 479.3h0M1682.1 478.5h0M1698.5 478.1h0M1714.9 477.9h0M1731.2 478.0h0M1747.6 478.5h0M1764.0 479.3h0M1780.4 480.5h0M1796.8 482.2h0M1813.1 484.4h0M1829.5 487.2h0M1845.9 490.6h0M1862.2 495.0h0M1878.6 500.3h0M1895.0 506.9h0M1911.4 515.0h0M1927.8 525.3h0M1944.1 538.4h0M1960.5 555.7h0M1976.9 579.7h0M1993.2 616.1h0M2009.6 683.5h0" stroke="#808080" stroke-width="9.0" stroke-linecap="round" fill="none"/>
<path d="M440.9 1062.5h0M442.5 1055.7h0M444.2 1049.1h0M445.8 1042.7h0M447.4 1036.4h0M449.1 1030.4h0M450.7 1024.5h0M452.4 1018.8h0M454.0 1013.3h0M455.6 1007.9h0M457.3 1002.6h0M458.9 997.5h0M460.6 992.4h0M462.2 987.5h0M463.8 982.8h0M465.5 978.1h0M467.1 973.5h0M468.7 969.1h0M470.4 964.7h0M472.0 960.5h0M473.6 956.3h0M475.3 952.2h0M476.9 948.2h0M1916.3 1055.8h0M1917.9 1059.8h0" stroke="#a20404" stroke-width="8.6" stroke-linecap="round" fill="none"/><path d="M478.6 944.2L480.2 940.4L481.8 936.6L483.5 932.9L485.1 929.3L486.8 925.7L488.4 922.2L490.0 918.7L491.7 915.4L493.3 912.0L494.9 908.8L496.6 905.6L498.2 902.4L499.9 899.3L501.5 896.3L503.1 893.3L504.8 890.3L506.4 887.4L508.0 884.5L509.7 881.7L511.3 878.9L513.0 876.2L514.6 873.5L516.2 870.8L517.9 868.2L519.5 865.6L521.1 863.1L522.8 860.6L524.4 858.1L526.0 855.7L527.7 853.3L529.3 850.9L531.0 848.5L532.6 846.2L534.2 844.0L535.9 841.7L537.5 839.5L539.1 837.3L540.8 835.1L542.4 833.0L544.1 830.9L545.7 828.8L547.3 826.7L549.0 824.7L550.6 822.7L552.2 820.7L553.9 818.7L555.5 816.8L557.2 814.9L558.8 813.0L560.4 811.1L562.1 809.3L563.7 807.4L565.4 805.6L567.0 803.8L568.6 802.1L570.3 800.3L571.9 798.6L573.5 796.9L575.2 795.2L576.8 793.5L578.5 791.8L580.1 790.2L581.7 788.6L583.4 787.0L585.0 785.4L586.6 783.8L588.3 782.3L589.9 780.7L591.5 779.2L593.2 777.7L594.8 776.2L596.5 774.7L598.1 773.3L599.7 771.8L601.4 770.4L603.0 768.9L604.6 767.5L606.3 766.1L607.9 764.8L609.6 763.4L611.2 762.0L612.8 760.7L614.5 759.4L616.1 758.1L617.8 756.8L619.4 755.5L621.0 754.2L622.7 752.9L624.3 751.7L625.9 750.4L627.6 749.2L629.2 748.0L630.9 746.8L632.5 745.6L634.1 744.4L635.8 743.2L637.4 742.0L639.0 740.9L640.7 739.7L642.3 738.6L644.0 737.5L645.6 736.4L647.2 735.3L648.9 734.2L650.5 733.1L652.1 732.0L653.8 730.9L655.4 729.9L657.0 728.8L658.7 727.8L660.3 726.8L662.0 725.7L663.6 724.7L665.2 723.7L666.9 722.7L668.5 721.7L670.2 720.8L671.8 719.8L673.4 718.8L675.1 717.9L676.7 716.9L678.3 716.0L680.0 715.1L681.6 714.1L683.2 713.2L684.9 712.3L686.5 711.4L688.2 710.5L689.8 709.6L691.4 708.7L693.1 707.9L694.7 707.0L696.4 706.2L698.0 705.3L699.6 704.5L701.3 703.6L702.9 702.8L704.5 702.0L706.2 701.2L707.8 700.3L709.5 699.5L711.1 698.7L712.7 698.0L714.4 697.2L716.0 696.4L717.6 695.6L719.3 694.9L720.9 694.1L722.5 693.3L724.2 692.6L725.8 691.9L727.5 691.1L729.1 690.4L730.7 689.7L732.4 688.9L734.0 688.2L735.6 687.5L737.3 686.8L738.9 686.1L740.6 685.4L742.2 684.8L743.8 684.1L745.5 683.4L747.1 682.7L748.8 682.1L750.4 681.4L752.0 680.8L753.7 680.1L755.3 679.5L756.9 678.8L758.6 678.2L760.2 677.6L761.9 677.0L763.5 676.3L765.1 675.7L766.8 675.1L768.4 674.5L770.0 673.9L771.7 673.3L773.3 672.7L775.0 672.2L776.6 671.6L778.2 671.0L779.9 670.4L781.5 669.9L783.1 669.3L784.8 668.7L786.4 668.2L788.0 667.6L789.7 667.1L791.3 666.6L793.0 666.0L794.6 665.5L796.2 665.0L797.9 664.5L799.5 663.9L801.1 663.4L802.8 662.9L804.4 662.4L806.1 661.9L807.7 661.4L809.3 660.9L811.0 660.4L812.6 659.9L814.2 659.5L815.9 659.0L817.5 658.5L819.2 658.0L820.8 657.6L822.4 657.1L824.1 656.7L825.7 656.2L827.4 655.8L829.0 655.3L830.6 654.9L832.3 654.4L833.9 654.0L835.5 653.6L837.2 653.1L838.8 652.7L840.5 652.3L842.1 651.9L843.7 651.5L845.4 651.0L847.0 650.6L848.6 650.2L850.3 649.8L851.9 649.4L853.6 649.0L855.2 648.7L856.8 648.3L858.5 647.9L860.1 647.5L861.7 647.1L863.4 646.8L865.0 646.4L866.6 646.0L868.3 645.7L869.9 645.3L871.6 645.0L873.2 644.6L874.8 644.2L876.5 643.9L878.1 643.6L879.8 643.2L881.4 642.9L883.0 642.5L884.7 642.2L886.3 641.9L887.9 641.6L889.6 641.2L891.2 640.9L892.8 640.6L894.5 640.3L896.1 640.0L897.8 639.7L899.4 639.4L901.0 639.1L902.7 638.8L904.3 638.5L906.0 638.2L907.6 637.9L909.2 637.6L910.9 637.3L912.5 637.1L914.1 636.8L915.8 636.5L917.4 636.2L919.1 636.0L920.7 635.7L922.3 635.4L924.0 635.2L925.6 634.9L927.2 634.7L928.9 634.4L930.5 634.2L932.1 633.9L933.8 633.7L935.4 633.4L937.1 633.2L938.7 633.0L940.3 632.7L942.0 632.5L943.6 632.3L945.2 632.0L946.9 631.8L948.5 631.6L950.2 631.4L951.8 631.2L953.4 631.0L955.1 630.7L956.7 630.5L958.4 630.3L960.0 630.1L961.6 629.9L963.3 629.7L964.9 629.5L966.5 629.3L968.2 629.2L969.8 629.0L971.4 628.8L973.1 628.6L974.7 628.4L976.4 628.3L978.0 628.1L979.6 627.9L981.3 627.7L982.9 627.6L984.5 627.4L986.2 627.2L987.8 627.1L989.5 626.9L991.1 626.8L992.7 626.6L994.4 626.5L996.0 626.3L997.6 626.2L999.3 626.0L1000.9 625.9L1002.6 625.8L1004.2 625.6L1005.8 625.5L1007.5 625.4L1009.1 625.2L1010.8 625.1L1012.4 625.0L1014.0 624.9L1015.7 624.7L1017.3 624.6L1018.9 624.5L1020.6 624.4L1022.2 624.3L1023.9 624.2L1025.5 624.1L1027.1 624.0L1028.8 623.9L1030.4 623.8L1032.0 623.7L1033.7 623.6L1035.3 623.5L1037.0 623.4L1038.6 623.3L1040.2 623.2L1041.9 623.1L1043.5 623.1L1045.1 623.0L1046.8 622.9L1048.4 622.8L1050.1 622.8L1051.7 622.7L1053.3 622.6L1055.0 622.6L1056.6 622.5L1058.2 622.4L1059.9 622.4L1061.5 622.3L1063.2 622.3L1064.8 622.2L1066.4 622.2L1068.1 622.1L1069.7 622.1L1071.3 622.0L1073.0 622.0L1074.6 622.0L1076.2 621.9L1077.9 621.9L1079.5 621.9L1081.2 621.8L1082.8 621.8L1084.4 621.8L1086.1 621.7L1087.7 621.7L1089.3 621.7L1091.0 621.7L1092.6 621.7L1094.3 621.7L1095.9 621.6L1097.5 621.6L1099.2 621.6L1100.8 621.6L1102.5 621.6L1104.1 621.6L1105.7 621.6L1107.4 621.6L1109.0 621.6L1110.6 621.6L1112.3 621.6L1113.9 621.7L1115.5 621.7L1117.2 621.7L1118.8 621.7L1120.5 621.7L1122.1 621.7L1123.7 621.8L1125.4 621.8L1127.0 621.8L1128.7 621.9L1130.3 621.9L1131.9 621.9L1133.6 622.0L1135.2 622.0L1136.8 622.0L1138.5 622.1L1140.1 622.1L1141.8 622.2L1143.4 622.2L1145.0 622.3L1146.7 622.3L1148.3 622.4L1149.9 622.4L1151.6 622.5L1153.2 622.6L1154.8 622.6L1156.5 622.7L1158.1 622.7L1159.8 622.8L1161.4 622.9L1163.0 623.0L1164.7 623.0L1166.3 623.1L1168.0 623.2L1169.6 623.3L1171.2 623.4L1172.9 623.4L1174.5 623.5L1176.1 623.6L1177.8 623.7L1179.4 623.8L1181.0 623.9L1182.7 624.0L1184.3 624.1L1186.0 624.2L1187.6 624.3L1189.2 624.4L1190.9 624.5L1192.5 624.6L1194.2 624.7L1195.8 624.8L1197.4 625.0L1199.1 625.1L1200.7 625.2L1202.3 625.3L1204.0 625.4L1205.6 625.6L1207.2 625.7L1208.9 625.8L1210.5 626.0L1212.2 626.1L1213.8 626.2L1215.4 626.4L1217.1 626.5L1218.7 626.7L1220.3 626.8L1222.0 626.9L1223.6 627.1L1225.3 627.2L1226.9 627.4L1228.5 627.6L1230.2 627.7L1231.8 627.9L1233.5 628.0L1235.1 628.2L1236.7 628.4L1238.4 628.5L1240.0 628.7L1241.6 628.9L1243.3 629.0L1244.9 629.2L1246.6 629.4L1248.2 629.6L1249.8 629.8L1251.5 629.9L1253.1 630.1L1254.7 630.3L1256.4 630.5L1258.0 630.7L1259.7 630.9L1261.3 631.1L1262.9 631.3L1264.6 631.5L1266.2 631.7L1267.8 631.9L1269.5 632.1L1271.1 632.3L1272.8 632.5L1274.4 632.7L1276.0 632.9L1277.7 633.2L1279.3 633.4L1280.9 633.6L1282.6 633.8L1284.2 634.1L1285.8 634.3L1287.5 634.5L1289.1 634.7L1290.8 635.0L1292.4 635.2L1294.0 635.5L1295.7 635.7L1297.3 635.9L1299.0 636.2L1300.6 636.4L1302.2 636.7L1303.9 636.9L1305.5 637.2L1307.1 637.4L1308.8 637.7L1310.4 638.0L1312.1 638.2L1313.7 638.5L1315.3 638.8L1317.0 639.0L1318.6 639.3L1320.2 639.6L1321.9 639.8L1323.5 640.1L1325.2 640.4L1326.8 640.7L1328.4 641.0L1330.1 641.3L1331.7 641.5L1333.3 641.8L1335.0 642.1L1336.6 642.4L1338.2 642.7L1339.9 643.0L1341.5 643.3L1343.2 643.6L1344.8 643.9L1346.4 644.2L1348.1 644.6L1349.7 644.9L1351.3 645.2L1353.0 645.5L1354.6 645.8L1356.3 646.2L1357.9 646.5L1359.5 646.8L1361.2 647.1L1362.8 647.5L1364.4 647.8L1366.1 648.1L1367.7 648.5L1369.4 648.8L1371.0 649.2L1372.6 649.5L1374.3 649.9L1375.9 650.2L1377.5 650.6L1379.2 650.9L1380.8 651.3L1382.5 651.6L1384.1 652.0L1385.7 652.4L1387.4 652.7L1389.0 653.1L1390.7 653.5L1392.3 653.9L1393.9 654.2L1395.6 654.6L1397.2 655.0L1398.8 655.4L1400.5 655.8L1402.1 656.2L1403.8 656.6L1405.4 657.0L1407.0 657.4L1408.7 657.8L1410.3 658.2L1411.9 658.6L1413.6 659.0L1415.2 659.4L1416.8 659.8L1418.5 660.2L1420.1 660.6L1421.8 661.1L1423.4 661.5L1425.0 661.9L1426.7 662.4L1428.3 662.8L1430.0 663.2L1431.6 663.7L1433.2 664.1L1434.9 664.5L1436.5 665.0L1438.1 665.4L1439.8 665.9L1441.4 666.3L1443.0 666.8L1444.7 667.3L1446.3 667.7L1448.0 668.2L1449.6 668.7L1451.2 669.1L1452.9 669.6L1454.5 670.1L1456.2 670.6L1457.8 671.0L1459.4 671.5L1461.1 672.0L1462.7 672.5L1464.3 673.0L1466.0 673.5L1467.6 674.0L1469.2 674.5L1470.9 675.0L1472.5 675.5L1474.2 676.0L1475.8 676.5L1477.4 677.1L1479.1 677.6L1480.7 678.1L1482.4 678.6L1484.0 679.1L1485.6 679.7L1487.3 680.2L1488.9 680.8L1490.5 681.3L1492.2 681.8L1493.8 682.4L1495.5 682.9L1497.1 683.5L1498.7 684.1L1500.4 684.6L1502.0 685.2L1503.6 685.7L1505.3 686.3L1506.9 686.9L1508.6 687.5L1510.2 688.0L1511.8 688.6L1513.5 689.2L1515.1 689.8L1516.7 690.4L1518.4 691.0L1520.0 691.6L1521.7 692.2L1523.3 692.8L1524.9 693.4L1526.6 694.0L1528.2 694.7L1529.8 695.3L1531.5 695.9L1533.1 696.5L1534.8 697.2L1536.4 697.8L1538.0 698.4L1539.7 699.1L1541.3 699.7L1542.9 700.4L1544.6 701.0L1546.2 701.7L1547.8 702.3L1549.5 703.0L1551.1 703.7L1552.8 704.3L1554.4 705.0L1556.0 705.7L1557.7 706.4L1559.3 707.1L1561.0 707.8L1562.6 708.5L1564.2 709.2L1565.9 709.9L1567.5 710.6L1569.1 711.3L1570.8 712.0L1572.4 712.7L1574.0 713.4L1575.7 714.2L1577.3 714.9L1579.0 715.6L1580.6 716.4L1582.2 717.1L1583.9 717.9L1585.5 718.6L1587.1 719.4L1588.8 720.1L1590.4 720.9L1592.1 721.7L1593.7 722.4L1595.3 723.2L1597.0 724.0L1598.6 724.8L1600.2 725.6L1601.9 726.4L1603.5 727.2L1605.2 728.0L1606.8 728.8L1608.4 729.6L1610.1 730.4L1611.7 731.2L1613.3 732.1L1615.0 732.9L1616.6 733.7L1618.3 734.6L1619.9 735.4L1621.5 736.3L1623.2 737.2L1624.8 738.0L1626.5 738.9L1628.1 739.8L1629.7 740.6L1631.4 741.5L1633.0 742.4L1634.6 743.3L1636.3 744.2L1637.9 745.1L1639.5 746.0L1641.2 746.9L1642.8 747.9L1644.5 748.8L1646.1 749.7L1647.7 750.6L1649.4 751.6L1651.0 752.5L1652.7 753.5L1654.3 754.5L1655.9 755.4L1657.6 756.4L1659.2 757.4L1660.8 758.4L1662.5 759.3L1664.1 760.3L1665.8 761.3L1667.4 762.3L1669.0 763.4L1670.7 764.4L1672.3 765.4L1673.9 766.4L1675.6 767.5L1677.2 768.5L1678.9 769.6L1680.5 770.6L1682.1 771.7L1683.8 772.8L1685.4 773.9L1687.0 774.9L1688.7 776.0L1690.3 777.1L1692.0 778.2L1693.6 779.4L1695.2 780.5L1696.9 781.6L1698.5 782.7L1700.1 783.9L1701.8 785.0L1703.4 786.2L1705.1 787.3L1706.7 788.5L1708.3 789.7L1710.0 790.9L1711.6 792.1L1713.2 793.3L1714.9 794.5L1716.5 795.7L1718.2 796.9L1719.8 798.2L1721.4 799.4L1723.1 800.7L1724.7 801.9L1726.3 803.2L1728.0 804.5L1729.6 805.8L1731.2 807.1L1732.9 808.4L1734.5 809.7L1736.2 811.0L1737.8 812.3L1739.4 813.7L1741.1 815.0L1742.7 816.4L1744.4 817.8L1746.0 819.1L1747.6 820.5L1749.3 821.9L1750.9 823.3L1752.5 824.8L1754.2 826.2L1755.8 827.6L1757.5 829.1L1759.1 830.5L1760.7 832.0L1762.4 833.5L1764.0 835.0L1765.6 836.5L1767.3 838.0L1768.9 839.5L1770.5 841.1L1772.2 842.6L1773.8 844.2L1775.5 845.8L1777.1 847.4L1778.7 849.0L1780.4 850.6L1782.0 852.2L1783.6 853.8L1785.3 855.5L1786.9 857.1L1788.6 858.8L1790.2 860.5L1791.8 862.2L1793.5 863.9L1795.1 865.7L1796.8 867.4L1798.4 869.2L1800.0 870.9L1801.7 872.7L1803.3 874.5L1804.9 876.4L1806.6 878.2L1808.2 880.1L1809.8 881.9L1811.5 883.8L1813.1 885.7L1814.8 887.6L1816.4 889.6L1818.0 891.5L1819.7 893.5L1821.3 895.5L1823.0 897.5L1824.6 899.5L1826.2 901.5L1827.9 903.6L1829.5 905.7L1831.1 907.8L1832.8 909.9L1834.4 912.0L1836.0 914.2L1837.7 916.4L1839.3 918.6L1841.0 920.8L1842.6 923.0L1844.2 925.3L1845.9 927.6L1847.5 929.9L1849.2 932.2L1850.8 934.6L1852.4 937.0L1854.1 939.4L1855.7 941.8L1857.3 944.3L1859.0 946.8L1860.6 949.3L1862.2 951.8L1863.9 954.4L1865.5 957.0L1867.2 959.6L1868.8 962.3L1870.4 965.0L1872.1 967.7L1873.7 970.5L1875.4 973.2L1877.0 976.1L1878.6 978.9L1880.3 981.8L1881.9 984.7L1883.5 987.7L1885.2 990.7L1886.8 993.7L1888.5 996.8L1890.1 999.9L1891.7 1003.0L1893.4 1006.2L1895.0 1009.4L1896.6 1012.7L1898.3 1016.0L1899.9 1019.4L1901.6 1022.8L1903.2 1026.3L1904.8 1029.8L1906.5 1033.3L1908.1 1036.9L1909.7 1040.6L1911.4 1044.3L1913.0 1048.1L1914.7 1051.9" stroke="#a20404" stroke-width="10.2" stroke-linejoin="round" stroke-linecap="round" fill="none"/>
<path d="M863.4 1060.0h0M879.8 1044.8h0M896.1 1030.1h0M912.5 1016.0h0M928.9 1002.3h0M945.2 989.1h0M961.6 976.3h0M978.0 963.9h0M994.4 951.9h0M1010.8 940.3h0M1027.1 929.0h0M1043.5 918.1h0M1059.9 907.4h0M1076.2 897.1h0M1092.6 887.1h0M1109.0 877.4h0M1125.4 867.9h0M1141.8 858.8h0M1158.1 849.8h0M1174.5 841.1h0M1190.9 832.7h0M1207.2 824.5h0M1223.6 816.5h0M1240.0 808.8h0M1256.4 801.3h0M1272.8 794.0h0M1289.1 786.9h0M1305.5 780.0h0M1321.9 773.3h0M1338.2 766.8h0M1354.6 760.5h0M1371.0 754.4h0M1387.4 748.5h0M1403.8 742.8h0M1420.1 737.3h0M1436.5 732.0h0M1452.9 726.9h0M1469.2 722.0h0M1485.6 717.3h0M1502.0 712.9h0M1518.4 708.6h0M1534.8 704.5h0M1551.1 700.7h0M1567.5 697.0h0M1583.9 693.7h0M1600.2 690.5h0M1616.6 687.6h0M1633.0 685.0h0M1649.4 682.7h0M1665.8 680.6h0M1682.1 678.9h0M1698.5 677.5h0M1714.9 676.5h0M1731.2 675.8h0M1747.6 675.7h0M1764.0 676.0h0M1780.4 676.8h0M1796.8 678.2h0M1813.1 680.4h0M1829.5 683.3h0M1845.9 687.2h0M1862.2 692.1h0M1878.6 698.4h0M1895.0 706.3h0M1911.4 716.4h0M1927.8 729.1h0M1944.1 745.7h0M1960.5 767.8h0M1976.9 798.8h0M1993.2 846.2h0M2009.6 934.6h0" stroke="#808080" stroke-width="9.0" stroke-linecap="round" fill="none"/>
<path d="M568.6 1062.0L570.3 1059.7L571.9 1057.3L573.5 1055.0L575.2 1052.7L576.8 1050.5L578.5 1048.2L580.1 1046.0L581.7 1043.8L583.4 1041.7L585.0 1039.5L586.6 1037.4L588.3 1035.3L589.9 1033.2L591.5 1031.2L593.2 1029.1L594.8 1027.1L596.5 1025.1L598.1 1023.1L599.7 1021.2L601.4 1019.2L603.0 1017.3L604.6 1015.4L606.3 1013.5L607.9 1011.6L609.6 1009.8L611.2 1007.9L612.8 1006.1L614.5 1004.3L616.1 1002.5L617.8 1000.8L619.4 999.0L621.0 997.3L622.7 995.6L624.3 993.9L625.9 992.2L627.6 990.5L629.2 988.9L630.9 987.2L632.5 985.6L634.1 984.0L635.8 982.4L637.4 980.8L639.0 979.2L640.7 977.7L642.3 976.1L644.0 974.6L645.6 973.1L647.2 971.6L648.9 970.1L650.5 968.6L652.1 967.1L653.8 965.7L655.4 964.3L657.0 962.8L658.7 961.4L660.3 960.0L662.0 958.6L663.6 957.2L665.2 955.9L666.9 954.5L668.5 953.2L670.2 951.8L671.8 950.5L673.4 949.2L675.1 947.9L676.7 946.6L678.3 945.3L680.0 944.0L681.6 942.8L683.2 941.5L684.9 940.3L686.5 939.0L688.2 937.8L689.8 936.6L691.4 935.4L693.1 934.2L694.7 933.0L696.4 931.9L698.0 930.7L699.6 929.5L701.3 928.4L702.9 927.3L704.5 926.1L706.2 925.0L707.8 923.9L709.5 922.8L711.1 921.7L712.7 920.6L714.4 919.6L716.0 918.5L717.6 917.4L719.3 916.4L720.9 915.3L722.5 914.3L724.2 913.3L725.8 912.3L727.5 911.2L729.1 910.2L730.7 909.2L732.4 908.3L734.0 907.3L735.6 906.3L737.3 905.3L738.9 904.4L740.6 903.4L742.2 902.5L743.8 901.6L745.5 900.6L747.1 899.7L748.8 898.8L750.4 897.9L752.0 897.0L753.7 896.1L755.3 895.2L756.9 894.3L758.6 893.4L760.2 892.6L761.9 891.7L763.5 890.9L765.1 890.0L766.8 889.2L768.4 888.3L770.0 887.5L771.7 886.7L773.3 885.9L775.0 885.1L776.6 884.3L778.2 883.5L779.9 882.7L781.5 881.9L783.1 881.1L784.8 880.3L786.4 879.6L788.0 878.8L789.7 878.0L791.3 877.3L793.0 876.6L794.6 875.8L796.2 875.1L797.9 874.4L799.5 873.6L801.1 872.9L802.8 872.2L804.4 871.5L806.1 870.8L807.7 870.1L809.3 869.4L811.0 868.7L812.6 868.1L814.2 867.4L815.9 866.7L817.5 866.1L819.2 865.4L820.8 864.7L822.4 864.1L824.1 863.5L825.7 862.8L827.4 862.2L829.0 861.6L830.6 860.9L832.3 860.3L833.9 859.7L835.5 859.1L837.2 858.5L838.8 857.9L840.5 857.3L842.1 856.7L843.7 856.1L845.4 855.6L847.0 855.0L848.6 854.4L850.3 853.8L851.9 853.3L853.6 852.7L855.2 852.2L856.8 851.6L858.5 851.1L860.1 850.5L861.7 850.0L863.4 849.5L865.0 849.0L866.6 848.4L868.3 847.9L869.9 847.4L871.6 846.9L873.2 846.4L874.8 845.9L876.5 845.4L878.1 844.9L879.8 844.4L881.4 843.9L883.0 843.5L884.7 843.0L886.3 842.5L887.9 842.1L889.6 841.6L891.2 841.1L892.8 840.7L894.5 840.2L896.1 839.8L897.8 839.3L899.4 838.9L901.0 838.5L902.7 838.0L904.3 837.6L906.0 837.2L907.6 836.8L909.2 836.4L910.9 836.0L912.5 835.5L914.1 835.1L915.8 834.7L917.4 834.3L919.1 834.0L920.7 833.6L922.3 833.2L924.0 832.8L925.6 832.4L927.2 832.0L928.9 831.7L930.5 831.3L932.1 831.0L933.8 830.6L935.4 830.2L937.1 829.9L938.7 829.5L940.3 829.2L942.0 828.8L943.6 828.5L945.2 828.2L946.9 827.8L948.5 827.5L950.2 827.2L951.8 826.9L953.4 826.6L955.1 826.2L956.7 825.9L958.4 825.6L960.0 825.3L961.6 825.0L963.3 824.7L964.9 824.4L966.5 824.1L968.2 823.9L969.8 823.6L971.4 823.3L973.1 823.0L974.7 822.7L976.4 822.5L978.0 822.2L979.6 821.9L981.3 821.7L982.9 821.4L984.5 821.2L986.2 820.9L987.8 820.7L989.5 820.4L991.1 820.2L992.7 820.0L994.4 819.7L996.0 819.5L997.6 819.3L999.3 819.0L1000.9 818.8L1002.6 818.6L1004.2 818.4L1005.8 818.2L1007.5 818.0L1009.1 817.7L1010.8 817.5L1012.4 817.3L1014.0 817.1L1015.7 816.9L1017.3 816.8L1018.9 816.6L1020.6 816.4L1022.2 816.2L1023.9 816.0L1025.5 815.8L1027.1 815.7L1028.8 815.5L1030.4 815.3L1032.0 815.2L1033.7 815.0L1035.3 814.8L1037.0 814.7L1038.6 814.5L1040.2 814.4L1041.9 814.2L1043.5 814.1L1045.1 814.0L1046.8 813.8L1048.4 813.7L1050.1 813.6L1051.7 813.4L1053.3 813.3L1055.0 813.2L1056.6 813.1L1058.2 812.9L1059.9 812.8L1061.5 812.7L1063.2 812.6L1064.8 812.5L1066.4 812.4L1068.1 812.3L1069.7 812.2L1071.3 812.1L1073.0 812.0L1074.6 811.9L1076.2 811.8L1077.9 811.7L1079.5 811.7L1081.2 811.6L1082.8 811.5L1084.4 811.4L1086.1 811.4L1087.7 811.3L1089.3 811.2L1091.0 811.2L1092.6 811.1L1094.3 811.1L1095.9 811.0L1097.5 811.0L1099.2 810.9L1100.8 810.9L1102.5 810.8L1104.1 810.8L1105.7 810.7L1107.4 810.7L1109.0 810.7L1110.6 810.7L1112.3 810.6L1113.9 810.6L1115.5 810.6L1117.2 810.6L1118.8 810.6L1120.5 810.5L1122.1 810.5L1123.7 810.5L1125.4 810.5L1127.0 810.5L1128.7 810.5L1130.3 810.5L1131.9 810.5L1133.6 810.5L1135.2 810.6L1136.8 810.6L1138.5 810.6L1140.1 810.6L1141.8 810.6L1143.4 810.7L1145.0 810.7L1146.7 810.7L1148.3 810.7L1149.9 810.8L1151.6 810.8L1153.2 810.9L1154.8 810.9L1156.5 811.0L1158.1 811.0L1159.8 811.1L1161.4 811.1L1163.0 811.2L1164.7 811.2L1166.3 811.3L1168.0 811.4L1169.6 811.4L1171.2 811.5L1172.9 811.6L1174.5 811.6L1176.1 811.7L1177.8 811.8L1179.4 811.9L1181.0 812.0L1182.7 812.1L1184.3 812.2L1186.0 812.3L1187.6 812.4L1189.2 812.5L1190.9 812.6L1192.5 812.7L1194.2 812.8L1195.8 812.9L1197.4 813.0L1199.1 813.1L1200.7 813.2L1202.3 813.3L1204.0 813.5L1205.6 813.6L1207.2 813.7L1208.9 813.9L1210.5 814.0L1212.2 814.1L1213.8 814.3L1215.4 814.4L1217.1 814.6L1218.7 814.7L1220.3 814.9L1222.0 815.0L1223.6 815.2L1225.3 815.3L1226.9 815.5L1228.5 815.7L1230.2 815.8L1231.8 816.0L1233.5 816.2L1235.1 816.3L1236.7 816.5L1238.4 816.7L1240.0 816.9L1241.6 817.1L1243.3 817.2L1244.9 817.4L1246.6 817.6L1248.2 817.8L1249.8 818.0L1251.5 818.2L1253.1 818.4L1254.7 818.6L1256.4 818.8L1258.0 819.1L1259.7 819.3L1261.3 819.5L1262.9 819.7L1264.6 819.9L1266.2 820.2L1267.8 820.4L1269.5 820.6L1271.1 820.9L1272.8 821.1L1274.4 821.3L1276.0 821.6L1277.7 821.8L1279.3 822.1L1280.9 822.3L1282.6 822.6L1284.2 822.8L1285.8 823.1L1287.5 823.4L1289.1 823.6L1290.8 823.9L1292.4 824.2L1294.0 824.4L1295.7 824.7L1297.3 825.0L1299.0 825.3L1300.6 825.5L1302.2 825.8L1303.9 826.1L1305.5 826.4L1307.1 826.7L1308.8 827.0L1310.4 827.3L1312.1 827.6L1313.7 827.9L1315.3 828.2L1317.0 828.5L1318.6 828.9L1320.2 829.2L1321.9 829.5L1323.5 829.8L1325.2 830.1L1326.8 830.5L1328.4 830.8L1330.1 831.1L1331.7 831.5L1333.3 831.8L1335.0 832.2L1336.6 832.5L1338.2 832.9L1339.9 833.2L1341.5 833.6L1343.2 833.9L1344.8 834.3L1346.4 834.7L1348.1 835.0L1349.7 835.4L1351.3 835.8L1353.0 836.2L1354.6 836.5L1356.3 836.9L1357.9 837.3L1359.5 837.7L1361.2 838.1L1362.8 838.5L1364.4 838.9L1366.1 839.3L1367.7 839.7L1369.4 840.1L1371.0 840.5L1372.6 840.9L1374.3 841.3L1375.9 841.7L1377.5 842.2L1379.2 842.6L1380.8 843.0L1382.5 843.5L1384.1 843.9L1385.7 844.3L1387.4 844.8L1389.0 845.2L1390.7 845.7L1392.3 846.1L1393.9 846.6L1395.6 847.0L1397.2 847.5L1398.8 847.9L1400.5 848.4L1402.1 848.9L1403.8 849.4L1405.4 849.8L1407.0 850.3L1408.7 850.8L1410.3 851.3L1411.9 851.8L1413.6 852.3L1415.2 852.8L1416.8 853.3L1418.5 853.8L1420.1 854.3L1421.8 854.8L1423.4 855.3L1425.0 855.8L1426.7 856.3L1428.3 856.9L1430.0 857.4L1431.6 857.9L1433.2 858.5L1434.9 859.0L1436.5 859.5L1438.1 860.1L1439.8 860.6L1441.4 861.2L1443.0 861.7L1444.7 862.3L1446.3 862.9L1448.0 863.4L1449.6 864.0L1451.2 864.6L1452.9 865.1L1454.5 865.7L1456.2 866.3L1457.8 866.9L1459.4 867.5L1461.1 868.1L1462.7 868.7L1464.3 869.3L1466.0 869.9L1467.6 870.5L1469.2 871.1L1470.9 871.7L1472.5 872.4L1474.2 873.0L1475.8 873.6L1477.4 874.2L1479.1 874.9L1480.7 875.5L1482.4 876.2L1484.0 876.8L1485.6 877.5L1487.3 878.1L1488.9 878.8L1490.5 879.4L1492.2 880.1L1493.8 880.8L1495.5 881.5L1497.1 882.1L1498.7 882.8L1500.4 883.5L1502.0 884.2L1503.6 884.9L1505.3 885.6L1506.9 886.3L1508.6 887.0L1510.2 887.7L1511.8 888.5L1513.5 889.2L1515.1 889.9L1516.7 890.6L1518.4 891.4L1520.0 892.1L1521.7 892.9L1523.3 893.6L1524.9 894.4L1526.6 895.1L1528.2 895.9L1529.8 896.6L1531.5 897.4L1533.1 898.2L1534.8 899.0L1536.4 899.7L1538.0 900.5L1539.7 901.3L1541.3 902.1L1542.9 902.9L1544.6 903.7L1546.2 904.6L1547.8 905.4L1549.5 906.2L1551.1 907.0L1552.8 907.9L1554.4 908.7L1556.0 909.5L1557.7 910.4L1559.3 911.2L1561.0 912.1L1562.6 912.9L1564.2 913.8L1565.9 914.7L1567.5 915.6L1569.1 916.4L1570.8 917.3L1572.4 918.2L1574.0 919.1L1575.7 920.0L1577.3 920.9L1579.0 921.8L1580.6 922.8L1582.2 923.7L1583.9 924.6L1585.5 925.6L1587.1 926.5L1588.8 927.4L1590.4 928.4L1592.1 929.3L1593.7 930.3L1595.3 931.3L1597.0 932.3L1598.6 933.2L1600.2 934.2L1601.9 935.2L1603.5 936.2L1605.2 937.2L1606.8 938.2L1608.4 939.2L1610.1 940.3L1611.7 941.3L1613.3 942.3L1615.0 943.4L1616.6 944.4L1618.3 945.5L1619.9 946.5L1621.5 947.6L1623.2 948.6L1624.8 949.7L1626.5 950.8L1628.1 951.9L1629.7 953.0L1631.4 954.1L1633.0 955.2L1634.6 956.3L1636.3 957.5L1637.9 958.6L1639.5 959.7L1641.2 960.9L1642.8 962.0L1644.5 963.2L1646.1 964.3L1647.7 965.5L1649.4 966.7L1651.0 967.9L1652.7 969.1L1654.3 970.3L1655.9 971.5L1657.6 972.7L1659.2 973.9L1660.8 975.2L1662.5 976.4L1664.1 977.6L1665.8 978.9L1667.4 980.2L1669.0 981.4L1670.7 982.7L1672.3 984.0L1673.9 985.3L1675.6 986.6L1677.2 987.9L1678.9 989.2L1680.5 990.6L1682.1 991.9L1683.8 993.2L1685.4 994.6L1687.0 996.0L1688.7 997.3L1690.3 998.7L1692.0 1000.1L1693.6 1001.5L1695.2 1002.9L1696.9 1004.3L1698.5 1005.7L1700.1 1007.2L1701.8 1008.6L1703.4 1010.1L1705.1 1011.5L1706.7 1013.0L1708.3 1014.5L1710.0 1016.0L1711.6 1017.5L1713.2 1019.0L1714.9 1020.5L1716.5 1022.1L1718.2 1023.6L1719.8 1025.2L1721.4 1026.7L1723.1 1028.3L1724.7 1029.9L1726.3 1031.5L1728.0 1033.1L1729.6 1034.7L1731.2 1036.4L1732.9 1038.0L1734.5 1039.6L1736.2 1041.3L1737.8 1043.0L1739.4 1044.7L1741.1 1046.4L1742.7 1048.1L1744.4 1049.8L1746.0 1051.6L1747.6 1053.3L1749.3 1055.1L1750.9 1056.9L1752.5 1058.6L1754.2 1060.5L1755.8 1062.3" stroke="#a60707" stroke-width="10.2" stroke-linejoin="round" stroke-linecap="round" fill="none"/>
<path d="M1223.6 1061.7h0M1240.0 1051.3h0M1256.4 1041.1h0M1272.8 1031.2h0M1289.1 1021.6h0M1305.5 1012.2h0M1321.9 1003.1h0M1338.2 994.3h0M1354.6 985.7h0M1371.0 977.4h0M1387.4 969.4h0M1403.8 961.6h0M1420.1 954.0h0M1436.5 946.8h0M1452.9 939.7h0M1469.2 933.0h0M1485.6 926.4h0M1502.0 920.2h0M1518.4 914.2h0M1534.8 908.5h0M1551.1 903.1h0M1567.5 898.0h0M1583.9 893.1h0M1600.2 888.6h0M1616.6 884.4h0M1633.0 880.5h0M1649.4 877.0h0M1665.8 873.9h0M1682.1 871.1h0M1698.5 868.8h0M1714.9 867.0h0M1731.2 865.6h0M1747.6 864.8h0M1764.0 864.6h0M1780.4 865.1h0M1796.8 866.3h0M1813.1 868.4h0M1829.5 871.5h0M1845.9 875.7h0M1862.2 881.3h0M1878.6 888.6h0M1895.0 897.9h0M1911.4 909.8h0M1927.8 925.2h0M1944.1 945.2h0M1960.5 972.2h0M1976.9 1010.2h0" stroke="#808080" stroke-width="9.0" stroke-linecap="round" fill="none"/>
<path d="M830.6 1062.1L832.3 1061.3L833.9 1060.5L835.5 1059.7L837.2 1059.0L838.8 1058.2L840.5 1057.4L842.1 1056.7L843.7 1055.9L845.4 1055.2L847.0 1054.4L848.6 1053.7L850.3 1052.9L851.9 1052.2L853.6 1051.5L855.2 1050.8L856.8 1050.1L858.5 1049.4L860.1 1048.7L861.7 1048.0L863.4 1047.3L865.0 1046.6L866.6 1045.9L868.3 1045.3L869.9 1044.6L871.6 1043.9L873.2 1043.3L874.8 1042.6L876.5 1042.0L878.1 1041.4L879.8 1040.7L881.4 1040.1L883.0 1039.5L884.7 1038.9L886.3 1038.2L887.9 1037.6L889.6 1037.0L891.2 1036.4L892.8 1035.8L894.5 1035.3L896.1 1034.7L897.8 1034.1L899.4 1033.5L901.0 1033.0L902.7 1032.4L904.3 1031.8L906.0 1031.3L907.6 1030.7L909.2 1030.2L910.9 1029.6L912.5 1029.1L914.1 1028.6L915.8 1028.1L917.4 1027.5L919.1 1027.0L920.7 1026.5L922.3 1026.0L924.0 1025.5L925.6 1025.0L927.2 1024.5L928.9 1024.0L930.5 1023.5L932.1 1023.1L933.8 1022.6L935.4 1022.1L937.1 1021.6L938.7 1021.2L940.3 1020.7L942.0 1020.3L943.6 1019.8L945.2 1019.4L946.9 1018.9L948.5 1018.5L950.2 1018.1L951.8 1017.7L953.4 1017.2L955.1 1016.8L956.7 1016.4L958.4 1016.0L960.0 1015.6L961.6 1015.2L963.3 1014.8L964.9 1014.4L966.5 1014.0L968.2 1013.6L969.8 1013.2L971.4 1012.9L973.1 1012.5L974.7 1012.1L976.4 1011.8L978.0 1011.4L979.6 1011.0L981.3 1010.7L982.9 1010.3L984.5 1010.0L986.2 1009.7L987.8 1009.3L989.5 1009.0L991.1 1008.7L992.7 1008.3L994.4 1008.0L996.0 1007.7L997.6 1007.4L999.3 1007.1L1000.9 1006.8L1002.6 1006.5L1004.2 1006.2L1005.8 1005.9L1007.5 1005.6L1009.1 1005.3L1010.8 1005.0L1012.4 1004.7L1014.0 1004.5L1015.7 1004.2L1017.3 1003.9L1018.9 1003.7L1020.6 1003.4L1022.2 1003.2L1023.9 1002.9L1025.5 1002.7L1027.1 1002.4L1028.8 1002.2L1030.4 1001.9L1032.0 1001.7L1033.7 1001.5L1035.3 1001.2L1037.0 1001.0L1038.6 1000.8L1040.2 1000.6L1041.9 1000.4L1043.5 1000.2L1045.1 1000.0L1046.8 999.8L1048.4 999.6L1050.1 999.4L1051.7 999.2L1053.3 999.0L1055.0 998.8L1056.6 998.6L1058.2 998.5L1059.9 998.3L1061.5 998.1L1063.2 998.0L1064.8 997.8L1066.4 997.6L1068.1 997.5L1069.7 997.3L1071.3 997.2L1073.0 997.0L1074.6 996.9L1076.2 996.8L1077.9 996.6L1079.5 996.5L1081.2 996.4L1082.8 996.3L1084.4 996.1L1086.1 996.0L1087.7 995.9L1089.3 995.8L1091.0 995.7L1092.6 995.6L1094.3 995.5L1095.9 995.4L1097.5 995.3L1099.2 995.2L1100.8 995.1L1102.5 995.0L1104.1 995.0L1105.7 994.9L1107.4 994.8L1109.0 994.8L1110.6 994.7L1112.3 994.6L1113.9 994.6L1115.5 994.5L1117.2 994.5L1118.8 994.4L1120.5 994.4L1122.1 994.3L1123.7 994.3L1125.4 994.3L1127.0 994.2L1128.7 994.2L1130.3 994.2L1131.9 994.2L1133.6 994.1L1135.2 994.1L1136.8 994.1L1138.5 994.1L1140.1 994.1L1141.8 994.1L1143.4 994.1L1145.0 994.1L1146.7 994.1L1148.3 994.1L1149.9 994.1L1151.6 994.2L1153.2 994.2L1154.8 994.2L1156.5 994.2L1158.1 994.3L1159.8 994.3L1161.4 994.3L1163.0 994.4L1164.7 994.4L1166.3 994.5L1168.0 994.5L1169.6 994.6L1171.2 994.6L1172.9 994.7L1174.5 994.8L1176.1 994.8L1177.8 994.9L1179.4 995.0L1181.0 995.1L1182.7 995.1L1184.3 995.2L1186.0 995.3L1187.6 995.4L1189.2 995.5L1190.9 995.6L1192.5 995.7L1194.2 995.8L1195.8 995.9L1197.4 996.0L1199.1 996.1L1200.7 996.2L1202.3 996.4L1204.0 996.5L1205.6 996.6L1207.2 996.7L1208.9 996.9L1210.5 997.0L1212.2 997.1L1213.8 997.3L1215.4 997.4L1217.1 997.6L1218.7 997.7L1220.3 997.9L1222.0 998.1L1223.6 998.2L1225.3 998.4L1226.9 998.6L1228.5 998.7L1230.2 998.9L1231.8 999.1L1233.5 999.3L1235.1 999.5L1236.7 999.6L1238.4 999.8L1240.0 1000.0L1241.6 1000.2L1243.3 1000.4L1244.9 1000.6L1246.6 1000.8L1248.2 1001.1L1249.8 1001.3L1251.5 1001.5L1253.1 1001.7L1254.7 1001.9L1256.4 1002.2L1258.0 1002.4L1259.7 1002.6L1261.3 1002.9L1262.9 1003.1L1264.6 1003.4L1266.2 1003.6L1267.8 1003.9L1269.5 1004.1L1271.1 1004.4L1272.8 1004.6L1274.4 1004.9L1276.0 1005.2L1277.7 1005.5L1279.3 1005.7L1280.9 1006.0L1282.6 1006.3L1284.2 1006.6L1285.8 1006.9L1287.5 1007.2L1289.1 1007.5L1290.8 1007.8L1292.4 1008.1L1294.0 1008.4L1295.7 1008.7L1297.3 1009.0L1299.0 1009.3L1300.6 1009.6L1302.2 1010.0L1303.9 1010.3L1305.5 1010.6L1307.1 1010.9L1308.8 1011.3L1310.4 1011.6L1312.1 1012.0L1313.7 1012.3L1315.3 1012.7L1317.0 1013.0L1318.6 1013.4L1320.2 1013.7L1321.9 1014.1L1323.5 1014.5L1325.2 1014.9L1326.8 1015.2L1328.4 1015.6L1330.1 1016.0L1331.7 1016.4L1333.3 1016.8L1335.0 1017.2L1336.6 1017.6L1338.2 1018.0L1339.9 1018.4L1341.5 1018.8L1343.2 1019.2L1344.8 1019.6L1346.4 1020.0L1348.1 1020.5L1349.7 1020.9L1351.3 1021.3L1353.0 1021.7L1354.6 1022.2L1356.3 1022.6L1357.9 1023.1L1359.5 1023.5L1361.2 1024.0L1362.8 1024.4L1364.4 1024.9L1366.1 1025.4L1367.7 1025.8L1369.4 1026.3L1371.0 1026.8L1372.6 1027.2L1374.3 1027.7L1375.9 1028.2L1377.5 1028.7L1379.2 1029.2L1380.8 1029.7L1382.5 1030.2L1384.1 1030.7L1385.7 1031.2L1387.4 1031.7L1389.0 1032.3L1390.7 1032.8L1392.3 1033.3L1393.9 1033.8L1395.6 1034.4L1397.2 1034.9L1398.8 1035.4L1400.5 1036.0L1402.1 1036.5L1403.8 1037.1L1405.4 1037.6L1407.0 1038.2L1408.7 1038.8L1410.3 1039.3L1411.9 1039.9L1413.6 1040.5L1415.2 1041.1L1416.8 1041.7L1418.5 1042.2L1420.1 1042.8L1421.8 1043.4L1423.4 1044.0L1425.0 1044.6L1426.7 1045.3L1428.3 1045.9L1430.0 1046.5L1431.6 1047.1L1433.2 1047.7L1434.9 1048.4L1436.5 1049.0L1438.1 1049.6L1439.8 1050.3L1441.4 1050.9L1443.0 1051.6L1444.7 1052.3L1446.3 1052.9L1448.0 1053.6L1449.6 1054.2L1451.2 1054.9L1452.9 1055.6L1454.5 1056.3L1456.2 1057.0L1457.8 1057.7L1459.4 1058.4L1461.1 1059.1L1462.7 1059.8L1464.3 1060.5L1466.0 1061.2L1467.6 1061.9L1469.2 1062.6" stroke="#aa0a0a" stroke-width="10.2" stroke-linejoin="round" stroke-linecap="round" fill="none"/>
<path d="M1665.8 1062.1h0M1682.1 1058.3h0M1698.5 1055.1h0M1714.9 1052.4h0M1731.2 1050.3h0M1747.6 1048.9h0M1764.0 1048.2h0M1780.4 1048.3h0M1796.8 1049.4h0M1813.1 1051.4h0M1829.5 1054.7h0M1845.9 1059.3h0" stroke="#808080" stroke-width="9.0" stroke-linecap="round" fill="none"/>
<path d="M391.8 1062.6h0M393.4 999.8h0M395.1 955.3h0M396.7 920.9h0M398.3 892.7h0M400.0 868.9h0M401.6 848.3h0M403.2 830.2h0M404.9 813.9h0M406.5 799.3h0M408.1 785.9h0M409.8 773.6h0M411.4 762.2h0M413.1 751.6h0M414.7 741.7h0M416.3 732.4h0M418.0 723.7h0M419.6 715.4h0M421.2 707.5h0M422.9 700.1h0M424.5 693.0h0M426.2 686.2h0M427.8 679.7h0M429.4 673.5h0M431.1 667.5h0M432.7 661.8h0M434.4 656.3h0M436.0 650.9h0M437.6 645.8h0M439.3 640.8h0M440.9 636.0h0M442.5 631.3h0M444.2 626.8h0M445.8 622.4h0M447.4 618.2h0M449.1 614.0h0M450.7 610.0h0M1996.5 434.7h0M1998.2 439.0h0M1999.8 443.5h0M2001.4 448.4h0M2003.1 453.6h0M2004.7 459.2h0M2006.3 465.3h0M2008.0 471.9h0M2009.6 479.1h0M2011.3 487.2h0M2012.9 496.2h0M2014.5 506.4h0M2016.2 518.2h0M2017.8 532.2h0M2019.5 549.3h0M2021.1 571.5h0M2022.7 602.8h0M2024.4 656.4h0" stroke="#990000" stroke-width="8.6" stroke-linecap="round" fill="none"/><path d="M452.4 606.1L454.0 602.3L455.6 598.5L457.3 594.9L458.9 591.4L460.6 587.9L462.2 584.6L463.8 581.3L465.5 578.0L467.1 574.9L468.7 571.8L470.4 568.8L472.0 565.8L473.6 562.9L475.3 560.1L476.9 557.3L478.6 554.5L480.2 551.9L481.8 549.2L483.5 546.6L485.1 544.1L486.8 541.6L488.4 539.2L490.0 536.7L491.7 534.4L493.3 532.0L494.9 529.8L496.6 527.5L498.2 525.3L499.9 523.1L501.5 520.9L503.1 518.8L504.8 516.7L506.4 514.7L508.0 512.7L509.7 510.7L511.3 508.7L513.0 506.7L514.6 504.8L516.2 502.9L517.9 501.1L519.5 499.2L521.1 497.4L522.8 495.6L524.4 493.9L526.0 492.1L527.7 490.4L529.3 488.7L531.0 487.0L532.6 485.4L534.2 483.7L535.9 482.1L537.5 480.5L539.1 478.9L540.8 477.4L542.4 475.8L544.1 474.3L545.7 472.8L547.3 471.3L549.0 469.8L550.6 468.3L552.2 466.9L553.9 465.5L555.5 464.1L557.2 462.7L558.8 461.3L560.4 459.9L562.1 458.6L563.7 457.2L565.4 455.9L567.0 454.6L568.6 453.3L570.3 452.0L571.9 450.7L573.5 449.4L575.2 448.2L576.8 447.0L578.5 445.7L580.1 444.5L581.7 443.3L583.4 442.1L585.0 440.9L586.6 439.8L588.3 438.6L589.9 437.4L591.5 436.3L593.2 435.2L594.8 434.1L596.5 432.9L598.1 431.8L599.7 430.8L601.4 429.7L603.0 428.6L604.6 427.5L606.3 426.5L607.9 425.4L609.6 424.4L611.2 423.4L612.8 422.4L614.5 421.3L616.1 420.3L617.8 419.3L619.4 418.4L621.0 417.4L622.7 416.4L624.3 415.4L625.9 414.5L627.6 413.5L629.2 412.6L630.9 411.7L632.5 410.7L634.1 409.8L635.8 408.9L637.4 408.0L639.0 407.1L640.7 406.2L642.3 405.3L644.0 404.5L645.6 403.6L647.2 402.7L648.9 401.9L650.5 401.0L652.1 400.2L653.8 399.3L655.4 398.5L657.0 397.6L658.7 396.8L660.3 396.0L662.0 395.2L663.6 394.4L665.2 393.6L666.9 392.8L668.5 392.0L670.2 391.2L671.8 390.4L673.4 389.7L675.1 388.9L676.7 388.1L678.3 387.4L680.0 386.6L681.6 385.9L683.2 385.1L684.9 384.4L686.5 383.7L688.2 382.9L689.8 382.2L691.4 381.5L693.1 380.8L694.7 380.1L696.4 379.4L698.0 378.7L699.6 378.0L701.3 377.3L702.9 376.6L704.5 375.9L706.2 375.2L707.8 374.5L709.5 373.9L711.1 373.2L712.7 372.5L714.4 371.9L716.0 371.2L717.6 370.6L719.3 369.9L720.9 369.3L722.5 368.6L724.2 368.0L725.8 367.4L727.5 366.8L729.1 366.1L730.7 365.5L732.4 364.9L734.0 364.3L735.6 363.7L737.3 363.1L738.9 362.5L740.6 361.9L742.2 361.3L743.8 360.7L745.5 360.1L747.1 359.5L748.8 358.9L750.4 358.3L752.0 357.8L753.7 357.2L755.3 356.6L756.9 356.1L758.6 355.5L760.2 354.9L761.9 354.4L763.5 353.8L765.1 353.3L766.8 352.7L768.4 352.2L770.0 351.6L771.7 351.1L773.3 350.6L775.0 350.0L776.6 349.5L778.2 349.0L779.9 348.5L781.5 347.9L783.1 347.4L784.8 346.9L786.4 346.4L788.0 345.9L789.7 345.4L791.3 344.9L793.0 344.4L794.6 343.9L796.2 343.4L797.9 342.9L799.5 342.4L801.1 341.9L802.8 341.4L804.4 340.9L806.1 340.5L807.7 340.0L809.3 339.5L811.0 339.0L812.6 338.6L814.2 338.1L815.9 337.6L817.5 337.2L819.2 336.7L820.8 336.2L822.4 335.8L824.1 335.3L825.7 334.9L827.4 334.4L829.0 334.0L830.6 333.5L832.3 333.1L833.9 332.7L835.5 332.2L837.2 331.8L838.8 331.3L840.5 330.9L842.1 330.5L843.7 330.1L845.4 329.6L847.0 329.2L848.6 328.8L850.3 328.4L851.9 328.0L853.6 327.5L855.2 327.1L856.8 326.7L858.5 326.3L860.1 325.9L861.7 325.5L863.4 325.1L865.0 324.7L866.6 324.3L868.3 323.9L869.9 323.5L871.6 323.1L873.2 322.7L874.8 322.3L876.5 321.9L878.1 321.6L879.8 321.2L881.4 320.8L883.0 320.4L884.7 320.0L886.3 319.7L887.9 319.3L889.6 318.9L891.2 318.5L892.8 318.2L894.5 317.8L896.1 317.4L897.8 317.1L899.4 316.7L901.0 316.4L902.7 316.0L904.3 315.6L906.0 315.3L907.6 314.9L909.2 314.6L910.9 314.2L912.5 313.9L914.1 313.5L915.8 313.2L917.4 312.9L919.1 312.5L920.7 312.2L922.3 311.8L924.0 311.5L925.6 311.2L927.2 310.8L928.9 310.5L930.5 310.2L932.1 309.8L933.8 309.5L935.4 309.2L937.1 308.9L938.7 308.5L940.3 308.2L942.0 307.9L943.6 307.6L945.2 307.3L946.9 307.0L948.5 306.6L950.2 306.3L951.8 306.0L953.4 305.7L955.1 305.4L956.7 305.1L958.4 304.8L960.0 304.5L961.6 304.2L963.3 303.9L964.9 303.6L966.5 303.3L968.2 303.0L969.8 302.7L971.4 302.4L973.1 302.1L974.7 301.8L976.4 301.5L978.0 301.3L979.6 301.0L981.3 300.7L982.9 300.4L984.5 300.1L986.2 299.8L987.8 299.6L989.5 299.3L991.1 299.0L992.7 298.7L994.4 298.5L996.0 298.2L997.6 297.9L999.3 297.6L1000.9 297.4L1002.6 297.1L1004.2 296.8L1005.8 296.6L1007.5 296.3L1009.1 296.1L1010.8 295.8L1012.4 295.5L1014.0 295.3L1015.7 295.0L1017.3 294.8L1018.9 294.5L1020.6 294.3L1022.2 294.0L1023.9 293.8L1025.5 293.5L1027.1 293.3L1028.8 293.0L1030.4 292.8L1032.0 292.5L1033.7 292.3L1035.3 292.0L1037.0 291.8L1038.6 291.5L1040.2 291.3L1041.9 291.1L1043.5 290.8L1045.1 290.6L1046.8 290.4L1048.4 290.1L1050.1 289.9L1051.7 289.7L1053.3 289.4L1055.0 289.2L1056.6 289.0L1058.2 288.8L1059.9 288.5L1061.5 288.3L1063.2 288.1L1064.8 287.9L1066.4 287.6L1068.1 287.4L1069.7 287.2L1071.3 287.0L1073.0 286.8L1074.6 286.6L1076.2 286.3L1077.9 286.1L1079.5 285.9L1081.2 285.7L1082.8 285.5L1084.4 285.3L1086.1 285.1L1087.7 284.9L1089.3 284.7L1091.0 284.5L1092.6 284.3L1094.3 284.1L1095.9 283.9L1097.5 283.7L1099.2 283.5L1100.8 283.3L1102.5 283.1L1104.1 282.9L1105.7 282.7L1107.4 282.5L1109.0 282.3L1110.6 282.1L1112.3 281.9L1113.9 281.7L1115.5 281.5L1117.2 281.3L1118.8 281.2L1120.5 281.0L1122.1 280.8L1123.7 280.6L1125.4 280.4L1127.0 280.2L1128.7 280.1L1130.3 279.9L1131.9 279.7L1133.6 279.5L1135.2 279.3L1136.8 279.2L1138.5 279.0L1140.1 278.8L1141.8 278.6L1143.4 278.5L1145.0 278.3L1146.7 278.1L1148.3 278.0L1149.9 277.8L1151.6 277.6L1153.2 277.5L1154.8 277.3L1156.5 277.1L1158.1 277.0L1159.8 276.8L1161.4 276.7L1163.0 276.5L1164.7 276.3L1166.3 276.2L1168.0 276.0L1169.6 275.9L1171.2 275.7L1172.9 275.6L1174.5 275.4L1176.1 275.3L1177.8 275.1L1179.4 275.0L1181.0 274.8L1182.7 274.7L1184.3 274.5L1186.0 274.4L1187.6 274.2L1189.2 274.1L1190.9 273.9L1192.5 273.8L1194.2 273.6L1195.8 273.5L1197.4 273.4L1199.1 273.2L1200.7 273.1L1202.3 272.9L1204.0 272.8L1205.6 272.7L1207.2 272.5L1208.9 272.4L1210.5 272.3L1212.2 272.1L1213.8 272.0L1215.4 271.9L1217.1 271.8L1218.7 271.6L1220.3 271.5L1222.0 271.4L1223.6 271.2L1225.3 271.1L1226.9 271.0L1228.5 270.9L1230.2 270.8L1231.8 270.6L1233.5 270.5L1235.1 270.4L1236.7 270.3L1238.4 270.2L1240.0 270.0L1241.6 269.9L1243.3 269.8L1244.9 269.7L1246.6 269.6L1248.2 269.5L1249.8 269.4L1251.5 269.3L1253.1 269.1L1254.7 269.0L1256.4 268.9L1258.0 268.8L1259.7 268.7L1261.3 268.6L1262.9 268.5L1264.6 268.4L1266.2 268.3L1267.8 268.2L1269.5 268.1L1271.1 268.0L1272.8 267.9L1274.4 267.8L1276.0 267.7L1277.7 267.6L1279.3 267.5L1280.9 267.4L1282.6 267.3L1284.2 267.2L1285.8 267.2L1287.5 267.1L1289.1 267.0L1290.8 266.9L1292.4 266.8L1294.0 266.7L1295.7 266.6L1297.3 266.5L1299.0 266.5L1300.6 266.4L1302.2 266.3L1303.9 266.2L1305.5 266.1L1307.1 266.0L1308.8 266.0L1310.4 265.9L1312.1 265.8L1313.7 265.7L1315.3 265.7L1317.0 265.6L1318.6 265.5L1320.2 265.4L1321.9 265.4L1323.5 265.3L1325.2 265.2L1326.8 265.2L1328.4 265.1L1330.1 265.0L1331.7 265.0L1333.3 264.9L1335.0 264.8L1336.6 264.8L1338.2 264.7L1339.9 264.6L1341.5 264.6L1343.2 264.5L1344.8 264.5L1346.4 264.4L1348.1 264.3L1349.7 264.3L1351.3 264.2L1353.0 264.2L1354.6 264.1L1356.3 264.1L1357.9 264.0L1359.5 264.0L1361.2 263.9L1362.8 263.9L1364.4 263.8L1366.1 263.8L1367.7 263.7L1369.4 263.7L1371.0 263.6L1372.6 263.6L1374.3 263.5L1375.9 263.5L1377.5 263.5L1379.2 263.4L1380.8 263.4L1382.5 263.3L1384.1 263.3L1385.7 263.3L1387.4 263.2L1389.0 263.2L1390.7 263.2L1392.3 263.1L1393.9 263.1L1395.6 263.1L1397.2 263.0L1398.8 263.0L1400.5 263.0L1402.1 262.9L1403.8 262.9L1405.4 262.9L1407.0 262.9L1408.7 262.8L1410.3 262.8L1411.9 262.8L1413.6 262.8L1415.2 262.8L1416.8 262.7L1418.5 262.7L1420.1 262.7L1421.8 262.7L1423.4 262.7L1425.0 262.7L1426.7 262.6L1428.3 262.6L1430.0 262.6L1431.6 262.6L1433.2 262.6L1434.9 262.6L1436.5 262.6L1438.1 262.6L1439.8 262.6L1441.4 262.6L1443.0 262.6L1444.7 262.6L1446.3 262.6L1448.0 262.6L1449.6 262.6L1451.2 262.6L1452.9 262.6L1454.5 262.6L1456.2 262.6L1457.8 262.6L1459.4 262.6L1461.1 262.6L1462.7 262.6L1464.3 262.6L1466.0 262.6L1467.6 262.6L1469.2 262.6L1470.9 262.6L1472.5 262.7L1474.2 262.7L1475.8 262.7L1477.4 262.7L1479.1 262.7L1480.7 262.7L1482.4 262.8L1484.0 262.8L1485.6 262.8L1487.3 262.8L1488.9 262.9L1490.5 262.9L1492.2 262.9L1493.8 262.9L1495.5 263.0L1497.1 263.0L1498.7 263.0L1500.4 263.1L1502.0 263.1L1503.6 263.1L1505.3 263.2L1506.9 263.2L1508.6 263.2L1510.2 263.3L1511.8 263.3L1513.5 263.3L1515.1 263.4L1516.7 263.4L1518.4 263.5L1520.0 263.5L1521.7 263.6L1523.3 263.6L1524.9 263.7L1526.6 263.7L1528.2 263.8L1529.8 263.8L1531.5 263.9L1533.1 263.9L1534.8 264.0L1536.4 264.0L1538.0 264.1L1539.7 264.2L1541.3 264.2L1542.9 264.3L1544.6 264.3L1546.2 264.4L1547.8 264.5L1549.5 264.5L1551.1 264.6L1552.8 264.7L1554.4 264.7L1556.0 264.8L1557.7 264.9L1559.3 265.0L1561.0 265.0L1562.6 265.1L1564.2 265.2L1565.9 265.3L1567.5 265.3L1569.1 265.4L1570.8 265.5L1572.4 265.6L1574.0 265.7L1575.7 265.8L1577.3 265.8L1579.0 265.9L1580.6 266.0L1582.2 266.1L1583.9 266.2L1585.5 266.3L1587.1 266.4L1588.8 266.5L1590.4 266.6L1592.1 266.7L1593.7 266.8L1595.3 266.9L1597.0 267.0L1598.6 267.1L1600.2 267.2L1601.9 267.3L1603.5 267.4L1605.2 267.5L1606.8 267.7L1608.4 267.8L1610.1 267.9L1611.7 268.0L1613.3 268.1L1615.0 268.2L1616.6 268.4L1618.3 268.5L1619.9 268.6L1621.5 268.7L1623.2 268.9L1624.8 269.0L1626.5 269.1L1628.1 269.3L1629.7 269.4L1631.4 269.5L1633.0 269.7L1634.6 269.8L1636.3 269.9L1637.9 270.1L1639.5 270.2L1641.2 270.4L1642.8 270.5L1644.5 270.7L1646.1 270.8L1647.7 271.0L1649.4 271.1L1651.0 271.3L1652.7 271.4L1654.3 271.6L1655.9 271.8L1657.6 271.9L1659.2 272.1L1660.8 272.2L1662.5 272.4L1664.1 272.6L1665.8 272.7L1667.4 272.9L1669.0 273.1L1670.7 273.3L1672.3 273.5L1673.9 273.6L1675.6 273.8L1677.2 274.0L1678.9 274.2L1680.5 274.4L1682.1 274.6L1683.8 274.8L1685.4 275.0L1687.0 275.1L1688.7 275.3L1690.3 275.5L1692.0 275.7L1693.6 276.0L1695.2 276.2L1696.9 276.4L1698.5 276.6L1700.1 276.8L1701.8 277.0L1703.4 277.2L1705.1 277.4L1706.7 277.7L1708.3 277.9L1710.0 278.1L1711.6 278.3L1713.2 278.6L1714.9 278.8L1716.5 279.1L1718.2 279.3L1719.8 279.5L1721.4 279.8L1723.1 280.0L1724.7 280.3L1726.3 280.5L1728.0 280.8L1729.6 281.0L1731.2 281.3L1732.9 281.5L1734.5 281.8L1736.2 282.1L1737.8 282.3L1739.4 282.6L1741.1 282.9L1742.7 283.2L1744.4 283.5L1746.0 283.7L1747.6 284.0L1749.3 284.3L1750.9 284.6L1752.5 284.9L1754.2 285.2L1755.8 285.5L1757.5 285.8L1759.1 286.1L1760.7 286.4L1762.4 286.7L1764.0 287.0L1765.6 287.4L1767.3 287.7L1768.9 288.0L1770.5 288.3L1772.2 288.7L1773.8 289.0L1775.5 289.4L1777.1 289.7L1778.7 290.0L1780.4 290.4L1782.0 290.7L1783.6 291.1L1785.3 291.5L1786.9 291.8L1788.6 292.2L1790.2 292.6L1791.8 293.0L1793.5 293.3L1795.1 293.7L1796.8 294.1L1798.4 294.5L1800.0 294.9L1801.7 295.3L1803.3 295.7L1804.9 296.1L1806.6 296.5L1808.2 297.0L1809.8 297.4L1811.5 297.8L1813.1 298.2L1814.8 298.7L1816.4 299.1L1818.0 299.6L1819.7 300.0L1821.3 300.5L1823.0 300.9L1824.6 301.4L1826.2 301.9L1827.9 302.4L1829.5 302.8L1831.1 303.3L1832.8 303.8L1834.4 304.3L1836.0 304.8L1837.7 305.4L1839.3 305.9L1841.0 306.4L1842.6 306.9L1844.2 307.5L1845.9 308.0L1847.5 308.6L1849.2 309.1L1850.8 309.7L1852.4 310.3L1854.1 310.8L1855.7 311.4L1857.3 312.0L1859.0 312.6L1860.6 313.2L1862.2 313.9L1863.9 314.5L1865.5 315.1L1867.2 315.8L1868.8 316.4L1870.4 317.1L1872.1 317.7L1873.7 318.4L1875.4 319.1L1877.0 319.8L1878.6 320.5L1880.3 321.2L1881.9 321.9L1883.5 322.7L1885.2 323.4L1886.8 324.2L1888.5 324.9L1890.1 325.7L1891.7 326.5L1893.4 327.3L1895.0 328.1L1896.6 328.9L1898.3 329.8L1899.9 330.6L1901.6 331.5L1903.2 332.3L1904.8 333.2L1906.5 334.1L1908.1 335.1L1909.7 336.0L1911.4 336.9L1913.0 337.9L1914.7 338.9L1916.3 339.9L1917.9 340.9L1919.6 341.9L1921.2 343.0L1922.8 344.1L1924.5 345.2L1926.1 346.3L1927.8 347.4L1929.4 348.6L1931.0 349.7L1932.7 350.9L1934.3 352.2L1935.9 353.4L1937.6 354.7L1939.2 356.0L1940.9 357.3L1942.5 358.7L1944.1 360.1L1945.8 361.5L1947.4 363.0L1949.0 364.4L1950.7 366.0L1952.3 367.5L1954.0 369.1L1955.6 370.8L1957.2 372.4L1958.9 374.2L1960.5 375.9L1962.1 377.7L1963.8 379.6L1965.4 381.5L1967.0 383.5L1968.7 385.6L1970.3 387.7L1972.0 389.8L1973.6 392.1L1975.2 394.4L1976.9 396.8L1978.5 399.3L1980.1 401.9L1981.8 404.5L1983.4 407.3L1985.1 410.2L1986.7 413.2L1988.3 416.4L1990.0 419.7L1991.6 423.2L1993.2 426.8L1994.9 430.6" stroke="#990000" stroke-width="10.2" stroke-linejoin="round" stroke-linecap="round" fill="none"/>
<path d="M437.6 1023.5h0M454.0 956.2h0M470.4 903.8h0M486.8 860.9h0M503.1 824.6h0M519.5 793.1h0M535.9 765.2h0M552.2 740.3h0M568.6 717.6h0M585.0 697.0h0M601.4 677.9h0M617.8 660.2h0M634.1 643.7h0M650.5 628.3h0M666.9 613.7h0M683.2 600.0h0M699.6 587.0h0M716.0 574.7h0M732.4 562.9h0M748.8 551.7h0M765.1 540.9h0M781.5 530.6h0M797.9 520.7h0M814.2 511.2h0M830.6 502.0h0M847.0 493.1h0M863.4 484.6h0M879.8 476.3h0M896.1 468.3h0M912.5 460.5h0M928.9 453.0h0M945.2 445.6h0M961.6 438.5h0M978.0 431.6h0M994.4 424.8h0M1010.8 418.3h0M1027.1 411.9h0M1043.5 405.6h0M1059.9 399.5h0M1076.2 393.5h0M1092.6 387.7h0M1109.0 382.0h0M1125.4 376.5h0M1141.8 371.0h0M1158.1 365.7h0M1174.5 360.4h0M1190.9 355.3h0M1207.2 350.3h0M1223.6 345.3h0M1240.0 340.5h0M1256.4 335.8h0M1272.8 331.1h0M1289.1 326.6h0M1305.5 322.1h0M1321.9 317.7h0M1338.2 313.3h0M1354.6 309.1h0M1371.0 304.9h0M1387.4 300.8h0M1403.8 296.8h0M1420.1 292.8h0M1436.5 288.9h0M1452.9 285.1h0M1469.2 281.3h0M1485.6 277.6h0M1502.0 274.0h0M1518.4 270.4h0M1534.8 266.9h0M1551.1 263.4h0M1567.5 260.0h0M1583.9 256.7h0M1600.2 253.4h0M1616.6 250.3h0M1633.0 247.1h0M1649.4 244.1h0M1665.8 241.1h0M1682.1 238.1h0M1698.5 235.3h0M1714.9 232.5h0M1731.2 229.9h0M1747.6 227.3h0M1764.0 224.8h0M1780.4 222.4h0M1796.8 220.1h0M1813.1 218.0h0M1829.5 216.0h0M1845.9 214.2h0M1862.2 212.6h0M1878.6 211.3h0M1895.0 210.2h0M1911.4 209.6h0M1927.8 209.5h0M1944.1 210.2h0M1960.5 212.0h0M1976.9 215.7h0M1993.2 222.8h0M2009.6 239.0h0" stroke="#808080" stroke-width="9.0" stroke-linecap="round" fill="none"/>
<path d="M429.4 1062.3h0M431.1 1053.3h0M432.7 1044.8h0M434.4 1036.5h0M436.0 1028.5h0M437.6 1020.8h0M439.3 1013.4h0M440.9 1006.2h0M442.5 999.3h0M444.2 992.5h0M445.8 986.0h0M447.4 979.6h0M449.1 973.4h0M450.7 967.4h0M452.4 961.6h0M454.0 955.9h0M455.6 950.4h0M457.3 945.0h0M458.9 939.7h0M460.6 934.5h0M462.2 929.5h0M463.8 924.6h0M465.5 919.8h0M467.1 915.1h0M468.7 910.5h0M470.4 906.0h0M472.0 901.6h0M473.6 897.3h0M475.3 893.0h0M476.9 888.9h0M478.6 884.8h0M480.2 880.8h0M1965.4 745.0h0M1967.0 749.1h0M1968.7 753.2h0M1970.3 757.5h0M1972.0 761.9h0M1973.6 766.4h0M1975.2 771.1h0M1976.9 776.0h0M1978.5 781.0h0M1980.1 786.3h0M1981.8 791.7h0M1983.4 797.3h0M1985.1 803.2h0M1986.7 809.3h0M1988.3 815.7h0M1990.0 822.3h0M1991.6 829.3h0M1993.2 836.7h0M1994.9 844.4h0M1996.5 852.6h0M1998.2 861.2h0M1999.8 870.4h0M2001.4 880.2h0M2003.1 890.7h0M2004.7 901.9h0M2006.3 914.1h0M2008.0 927.4h0M2009.6 942.0h0M2011.3 958.1h0M2012.9 976.1h0M2014.5 996.6h0M2016.2 1020.3h0M2017.8 1048.4h0" stroke="#9d0202" stroke-width="8.6" stroke-linecap="round" fill="none"/><path d="M481.8 876.9L483.5 873.1L485.1 869.3L486.8 865.6L488.4 861.9L490.0 858.4L491.7 854.8L493.3 851.4L494.9 848.0L496.6 844.6L498.2 841.3L499.9 838.1L501.5 834.9L503.1 831.7L504.8 828.6L506.4 825.6L508.0 822.6L509.7 819.6L511.3 816.7L513.0 813.8L514.6 811.0L516.2 808.2L517.9 805.4L519.5 802.7L521.1 800.0L522.8 797.4L524.4 794.7L526.0 792.2L527.7 789.6L529.3 787.1L531.0 784.6L532.6 782.2L534.2 779.7L535.9 777.3L537.5 775.0L539.1 772.6L540.8 770.3L542.4 768.1L544.1 765.8L545.7 763.6L547.3 761.4L549.0 759.2L550.6 757.0L552.2 754.9L553.9 752.8L555.5 750.7L557.2 748.6L558.8 746.6L560.4 744.6L562.1 742.6L563.7 740.6L565.4 738.6L567.0 736.7L568.6 734.8L570.3 732.9L571.9 731.0L573.5 729.2L575.2 727.3L576.8 725.5L578.5 723.7L580.1 721.9L581.7 720.1L583.4 718.4L585.0 716.6L586.6 714.9L588.3 713.2L589.9 711.5L591.5 709.9L593.2 708.2L594.8 706.6L596.5 704.9L598.1 703.3L599.7 701.7L601.4 700.1L603.0 698.6L604.6 697.0L606.3 695.5L607.9 693.9L609.6 692.4L611.2 690.9L612.8 689.4L614.5 687.9L616.1 686.5L617.8 685.0L619.4 683.6L621.0 682.1L622.7 680.7L624.3 679.3L625.9 677.9L627.6 676.5L629.2 675.2L630.9 673.8L632.5 672.5L634.1 671.1L635.8 669.8L637.4 668.5L639.0 667.2L640.7 665.9L642.3 664.6L644.0 663.3L645.6 662.0L647.2 660.8L648.9 659.5L650.5 658.3L652.1 657.0L653.8 655.8L655.4 654.6L657.0 653.4L658.7 652.2L660.3 651.0L662.0 649.8L663.6 648.7L665.2 647.5L666.9 646.3L668.5 645.2L670.2 644.1L671.8 642.9L673.4 641.8L675.1 640.7L676.7 639.6L678.3 638.5L680.0 637.4L681.6 636.3L683.2 635.2L684.9 634.2L686.5 633.1L688.2 632.1L689.8 631.0L691.4 630.0L693.1 629.0L694.7 627.9L696.4 626.9L698.0 625.9L699.6 624.9L701.3 623.9L702.9 622.9L704.5 621.9L706.2 620.9L707.8 620.0L709.5 619.0L711.1 618.0L712.7 617.1L714.4 616.1L716.0 615.2L717.6 614.3L719.3 613.3L720.9 612.4L722.5 611.5L724.2 610.6L725.8 609.7L727.5 608.8L729.1 607.9L730.7 607.0L732.4 606.1L734.0 605.2L735.6 604.4L737.3 603.5L738.9 602.6L740.6 601.8L742.2 600.9L743.8 600.1L745.5 599.2L747.1 598.4L748.8 597.6L750.4 596.8L752.0 595.9L753.7 595.1L755.3 594.3L756.9 593.5L758.6 592.7L760.2 591.9L761.9 591.1L763.5 590.3L765.1 589.6L766.8 588.8L768.4 588.0L770.0 587.2L771.7 586.5L773.3 585.7L775.0 585.0L776.6 584.2L778.2 583.5L779.9 582.7L781.5 582.0L783.1 581.3L784.8 580.5L786.4 579.8L788.0 579.1L789.7 578.4L791.3 577.7L793.0 576.9L794.6 576.2L796.2 575.5L797.9 574.8L799.5 574.2L801.1 573.5L802.8 572.8L804.4 572.1L806.1 571.4L807.7 570.8L809.3 570.1L811.0 569.4L812.6 568.8L814.2 568.1L815.9 567.5L817.5 566.8L819.2 566.2L820.8 565.5L822.4 564.9L824.1 564.2L825.7 563.6L827.4 563.0L829.0 562.4L830.6 561.7L832.3 561.1L833.9 560.5L835.5 559.9L837.2 559.3L838.8 558.7L840.5 558.1L842.1 557.5L843.7 556.9L845.4 556.3L847.0 555.7L848.6 555.1L850.3 554.6L851.9 554.0L853.6 553.4L855.2 552.8L856.8 552.3L858.5 551.7L860.1 551.1L861.7 550.6L863.4 550.0L865.0 549.5L866.6 548.9L868.3 548.4L869.9 547.8L871.6 547.3L873.2 546.7L874.8 546.2L876.5 545.7L878.1 545.2L879.8 544.6L881.4 544.1L883.0 543.6L884.7 543.1L886.3 542.5L887.9 542.0L889.6 541.5L891.2 541.0L892.8 540.5L894.5 540.0L896.1 539.5L897.8 539.0L899.4 538.5L901.0 538.0L902.7 537.6L904.3 537.1L906.0 536.6L907.6 536.1L909.2 535.6L910.9 535.2L912.5 534.7L914.1 534.2L915.8 533.8L917.4 533.3L919.1 532.8L920.7 532.4L922.3 531.9L924.0 531.5L925.6 531.0L927.2 530.6L928.9 530.1L930.5 529.7L932.1 529.2L933.8 528.8L935.4 528.4L937.1 527.9L938.7 527.5L940.3 527.1L942.0 526.6L943.6 526.2L945.2 525.8L946.9 525.4L948.5 524.9L950.2 524.5L951.8 524.1L953.4 523.7L955.1 523.3L956.7 522.9L958.4 522.5L960.0 522.1L961.6 521.7L963.3 521.3L964.9 520.9L966.5 520.5L968.2 520.1L969.8 519.7L971.4 519.3L973.1 519.0L974.7 518.6L976.4 518.2L978.0 517.8L979.6 517.4L981.3 517.1L982.9 516.7L984.5 516.3L986.2 516.0L987.8 515.6L989.5 515.2L991.1 514.9L992.7 514.5L994.4 514.2L996.0 513.8L997.6 513.5L999.3 513.1L1000.9 512.8L1002.6 512.4L1004.2 512.1L1005.8 511.7L1007.5 511.4L1009.1 511.1L1010.8 510.7L1012.4 510.4L1014.0 510.1L1015.7 509.7L1017.3 509.4L1018.9 509.1L1020.6 508.8L1022.2 508.4L1023.9 508.1L1025.5 507.8L1027.1 507.5L1028.8 507.2L1030.4 506.9L1032.0 506.5L1033.7 506.2L1035.3 505.9L1037.0 505.6L1038.6 505.3L1040.2 505.0L1041.9 504.7L1043.5 504.4L1045.1 504.1L1046.8 503.8L1048.4 503.5L1050.1 503.3L1051.7 503.0L1053.3 502.7L1055.0 502.4L1056.6 502.1L1058.2 501.8L1059.9 501.6L1061.5 501.3L1063.2 501.0L1064.8 500.7L1066.4 500.5L1068.1 500.2L1069.7 499.9L1071.3 499.7L1073.0 499.4L1074.6 499.1L1076.2 498.9L1077.9 498.6L1079.5 498.4L1081.2 498.1L1082.8 497.9L1084.4 497.6L1086.1 497.4L1087.7 497.1L1089.3 496.9L1091.0 496.6L1092.6 496.4L1094.3 496.1L1095.9 495.9L1097.5 495.6L1099.2 495.4L1100.8 495.2L1102.5 494.9L1104.1 494.7L1105.7 494.5L1107.4 494.3L1109.0 494.0L1110.6 493.8L1112.3 493.6L1113.9 493.4L1115.5 493.1L1117.2 492.9L1118.8 492.7L1120.5 492.5L1122.1 492.3L1123.7 492.1L1125.4 491.9L1127.0 491.7L1128.7 491.4L1130.3 491.2L1131.9 491.0L1133.6 490.8L1135.2 490.6L1136.8 490.4L1138.5 490.2L1140.1 490.1L1141.8 489.9L1143.4 489.7L1145.0 489.5L1146.7 489.3L1148.3 489.1L1149.9 488.9L1151.6 488.7L1153.2 488.6L1154.8 488.4L1156.5 488.2L1158.1 488.0L1159.8 487.8L1161.4 487.7L1163.0 487.5L1164.7 487.3L1166.3 487.2L1168.0 487.0L1169.6 486.8L1171.2 486.7L1172.9 486.5L1174.5 486.3L1176.1 486.2L1177.8 486.0L1179.4 485.9L1181.0 485.7L1182.7 485.5L1184.3 485.4L1186.0 485.2L1187.6 485.1L1189.2 484.9L1190.9 484.8L1192.5 484.7L1194.2 484.5L1195.8 484.4L1197.4 484.2L1199.1 484.1L1200.7 484.0L1202.3 483.8L1204.0 483.7L1205.6 483.6L1207.2 483.4L1208.9 483.3L1210.5 483.2L1212.2 483.0L1213.8 482.9L1215.4 482.8L1217.1 482.7L1218.7 482.6L1220.3 482.4L1222.0 482.3L1223.6 482.2L1225.3 482.1L1226.9 482.0L1228.5 481.9L1230.2 481.8L1231.8 481.7L1233.5 481.6L1235.1 481.4L1236.7 481.3L1238.4 481.2L1240.0 481.1L1241.6 481.0L1243.3 480.9L1244.9 480.9L1246.6 480.8L1248.2 480.7L1249.8 480.6L1251.5 480.5L1253.1 480.4L1254.7 480.3L1256.4 480.2L1258.0 480.1L1259.7 480.1L1261.3 480.0L1262.9 479.9L1264.6 479.8L1266.2 479.8L1267.8 479.7L1269.5 479.6L1271.1 479.5L1272.8 479.5L1274.4 479.4L1276.0 479.3L1277.7 479.3L1279.3 479.2L1280.9 479.1L1282.6 479.1L1284.2 479.0L1285.8 479.0L1287.5 478.9L1289.1 478.9L1290.8 478.8L1292.4 478.7L1294.0 478.7L1295.7 478.7L1297.3 478.6L1299.0 478.6L1300.6 478.5L1302.2 478.5L1303.9 478.4L1305.5 478.4L1307.1 478.4L1308.8 478.3L1310.4 478.3L1312.1 478.3L1313.7 478.2L1315.3 478.2L1317.0 478.2L1318.6 478.1L1320.2 478.1L1321.9 478.1L1323.5 478.1L1325.2 478.0L1326.8 478.0L1328.4 478.0L1330.1 478.0L1331.7 478.0L1333.3 478.0L1335.0 478.0L1336.6 477.9L1338.2 477.9L1339.9 477.9L1341.5 477.9L1343.2 477.9L1344.8 477.9L1346.4 477.9L1348.1 477.9L1349.7 477.9L1351.3 477.9L1353.0 477.9L1354.6 477.9L1356.3 477.9L1357.9 478.0L1359.5 478.0L1361.2 478.0L1362.8 478.0L1364.4 478.0L1366.1 478.0L1367.7 478.1L1369.4 478.1L1371.0 478.1L1372.6 478.1L1374.3 478.1L1375.9 478.2L1377.5 478.2L1379.2 478.2L1380.8 478.3L1382.5 478.3L1384.1 478.3L1385.7 478.4L1387.4 478.4L1389.0 478.5L1390.7 478.5L1392.3 478.5L1393.9 478.6L1395.6 478.6L1397.2 478.7L1398.8 478.7L1400.5 478.8L1402.1 478.8L1403.8 478.9L1405.4 479.0L1407.0 479.0L1408.7 479.1L1410.3 479.1L1411.9 479.2L1413.6 479.3L1415.2 479.3L1416.8 479.4L1418.5 479.5L1420.1 479.5L1421.8 479.6L1423.4 479.7L1425.0 479.8L1426.7 479.9L1428.3 479.9L1430.0 480.0L1431.6 480.1L1433.2 480.2L1434.9 480.3L1436.5 480.4L1438.1 480.5L1439.8 480.6L1441.4 480.6L1443.0 480.7L1444.7 480.8L1446.3 480.9L1448.0 481.0L1449.6 481.2L1451.2 481.3L1452.9 481.4L1454.5 481.5L1456.2 481.6L1457.8 481.7L1459.4 481.8L1461.1 481.9L1462.7 482.0L1464.3 482.2L1466.0 482.3L1467.6 482.4L1469.2 482.5L1470.9 482.7L1472.5 482.8L1474.2 482.9L1475.8 483.1L1477.4 483.2L1479.1 483.3L1480.7 483.5L1482.4 483.6L1484.0 483.8L1485.6 483.9L1487.3 484.0L1488.9 484.2L1490.5 484.3L1492.2 484.5L1493.8 484.7L1495.5 484.8L1497.1 485.0L1498.7 485.1L1500.4 485.3L1502.0 485.5L1503.6 485.6L1505.3 485.8L1506.9 486.0L1508.6 486.1L1510.2 486.3L1511.8 486.5L1513.5 486.7L1515.1 486.8L1516.7 487.0L1518.4 487.2L1520.0 487.4L1521.7 487.6L1523.3 487.8L1524.9 488.0L1526.6 488.2L1528.2 488.4L1529.8 488.6L1531.5 488.8L1533.1 489.0L1534.8 489.2L1536.4 489.4L1538.0 489.6L1539.7 489.8L1541.3 490.0L1542.9 490.2L1544.6 490.5L1546.2 490.7L1547.8 490.9L1549.5 491.1L1551.1 491.4L1552.8 491.6L1554.4 491.8L1556.0 492.1L1557.7 492.3L1559.3 492.5L1561.0 492.8L1562.6 493.0L1564.2 493.3L1565.9 493.5L1567.5 493.8L1569.1 494.0L1570.8 494.3L1572.4 494.5L1574.0 494.8L1575.7 495.1L1577.3 495.3L1579.0 495.6L1580.6 495.9L1582.2 496.1L1583.9 496.4L1585.5 496.7L1587.1 497.0L1588.8 497.3L1590.4 497.6L1592.1 497.8L1593.7 498.1L1595.3 498.4L1597.0 498.7L1598.6 499.0L1600.2 499.3L1601.9 499.6L1603.5 499.9L1605.2 500.3L1606.8 500.6L1608.4 500.9L1610.1 501.2L1611.7 501.5L1613.3 501.9L1615.0 502.2L1616.6 502.5L1618.3 502.8L1619.9 503.2L1621.5 503.5L1623.2 503.9L1624.8 504.2L1626.5 504.6L1628.1 504.9L1629.7 505.3L1631.4 505.6L1633.0 506.0L1634.6 506.3L1636.3 506.7L1637.9 507.1L1639.5 507.5L1641.2 507.8L1642.8 508.2L1644.5 508.6L1646.1 509.0L1647.7 509.4L1649.4 509.8L1651.0 510.2L1652.7 510.6L1654.3 511.0L1655.9 511.4L1657.6 511.8L1659.2 512.2L1660.8 512.6L1662.5 513.0L1664.1 513.4L1665.8 513.9L1667.4 514.3L1669.0 514.7L1670.7 515.2L1672.3 515.6L1673.9 516.1L1675.6 516.5L1677.2 517.0L1678.9 517.4L1680.5 517.9L1682.1 518.3L1683.8 518.8L1685.4 519.3L1687.0 519.7L1688.7 520.2L1690.3 520.7L1692.0 521.2L1693.6 521.7L1695.2 522.2L1696.9 522.7L1698.5 523.2L1700.1 523.7L1701.8 524.2L1703.4 524.7L1705.1 525.2L1706.7 525.8L1708.3 526.3L1710.0 526.8L1711.6 527.4L1713.2 527.9L1714.9 528.5L1716.5 529.0L1718.2 529.6L1719.8 530.1L1721.4 530.7L1723.1 531.3L1724.7 531.8L1726.3 532.4L1728.0 533.0L1729.6 533.6L1731.2 534.2L1732.9 534.8L1734.5 535.4L1736.2 536.0L1737.8 536.6L1739.4 537.3L1741.1 537.9L1742.7 538.5L1744.4 539.2L1746.0 539.8L1747.6 540.5L1749.3 541.1L1750.9 541.8L1752.5 542.4L1754.2 543.1L1755.8 543.8L1757.5 544.5L1759.1 545.2L1760.7 545.9L1762.4 546.6L1764.0 547.3L1765.6 548.0L1767.3 548.7L1768.9 549.5L1770.5 550.2L1772.2 550.9L1773.8 551.7L1775.5 552.4L1777.1 553.2L1778.7 554.0L1780.4 554.7L1782.0 555.5L1783.6 556.3L1785.3 557.1L1786.9 557.9L1788.6 558.7L1790.2 559.6L1791.8 560.4L1793.5 561.2L1795.1 562.1L1796.8 562.9L1798.4 563.8L1800.0 564.7L1801.7 565.5L1803.3 566.4L1804.9 567.3L1806.6 568.2L1808.2 569.1L1809.8 570.1L1811.5 571.0L1813.1 571.9L1814.8 572.9L1816.4 573.9L1818.0 574.8L1819.7 575.8L1821.3 576.8L1823.0 577.8L1824.6 578.8L1826.2 579.8L1827.9 580.9L1829.5 581.9L1831.1 583.0L1832.8 584.0L1834.4 585.1L1836.0 586.2L1837.7 587.3L1839.3 588.4L1841.0 589.5L1842.6 590.7L1844.2 591.8L1845.9 593.0L1847.5 594.1L1849.2 595.3L1850.8 596.5L1852.4 597.7L1854.1 599.0L1855.7 600.2L1857.3 601.5L1859.0 602.8L1860.6 604.0L1862.2 605.3L1863.9 606.7L1865.5 608.0L1867.2 609.4L1868.8 610.7L1870.4 612.1L1872.1 613.5L1873.7 614.9L1875.4 616.4L1877.0 617.8L1878.6 619.3L1880.3 620.8L1881.9 622.3L1883.5 623.9L1885.2 625.4L1886.8 627.0L1888.5 628.6L1890.1 630.2L1891.7 631.9L1893.4 633.5L1895.0 635.2L1896.6 637.0L1898.3 638.7L1899.9 640.5L1901.6 642.3L1903.2 644.1L1904.8 645.9L1906.5 647.8L1908.1 649.7L1909.7 651.7L1911.4 653.6L1913.0 655.6L1914.7 657.7L1916.3 659.7L1917.9 661.8L1919.6 664.0L1921.2 666.1L1922.8 668.4L1924.5 670.6L1926.1 672.9L1927.8 675.2L1929.4 677.6L1931.0 680.0L1932.7 682.5L1934.3 685.0L1935.9 687.6L1937.6 690.2L1939.2 692.9L1940.9 695.6L1942.5 698.4L1944.1 701.2L1945.8 704.2L1947.4 707.1L1949.0 710.2L1950.7 713.3L1952.3 716.5L1954.0 719.7L1955.6 723.1L1957.2 726.5L1958.9 730.0L1960.5 733.6L1962.1 737.3L1963.8 741.1" stroke="#9d0202" stroke-width="10.2" stroke-linejoin="round" stroke-linecap="round" fill="none"/>
<path d="M666.9 1047.8h0M683.2 1025.3h0M699.6 1004.0h0M716.0 983.8h0M732.4 964.5h0M748.8 946.1h0M765.1 928.6h0M781.5 911.8h0M797.9 895.6h0M814.2 880.1h0M830.6 865.2h0M847.0 850.8h0M863.4 836.9h0M879.8 823.5h0M896.1 810.5h0M912.5 798.0h0M928.9 785.8h0M945.2 774.0h0M961.6 762.5h0M978.0 751.4h0M994.4 740.5h0M1010.8 730.0h0M1027.1 719.7h0M1043.5 709.7h0M1059.9 700.0h0M1076.2 690.5h0M1092.6 681.2h0M1109.0 672.1h0M1125.4 663.3h0M1141.8 654.7h0M1158.1 646.2h0M1174.5 638.0h0M1190.9 629.9h0M1207.2 622.0h0M1223.6 614.3h0M1240.0 606.7h0M1256.4 599.3h0M1272.8 592.0h0M1289.1 584.9h0M1305.5 578.0h0M1321.9 571.1h0M1338.2 564.5h0M1354.6 557.9h0M1371.0 551.5h0M1387.4 545.2h0M1403.8 539.1h0M1420.1 533.0h0M1436.5 527.1h0M1452.9 521.4h0M1469.2 515.7h0M1485.6 510.2h0M1502.0 504.8h0M1518.4 499.5h0M1534.8 494.3h0M1551.1 489.3h0M1567.5 484.3h0M1583.9 479.5h0M1600.2 474.9h0M1616.6 470.3h0M1633.0 465.9h0M1649.4 461.7h0M1665.8 457.5h0M1682.1 453.6h0M1698.5 449.8h0M1714.9 446.1h0M1731.2 442.7h0M1747.6 439.4h0M1764.0 436.4h0M1780.4 433.6h0M1796.8 431.1h0M1813.1 428.8h0M1829.5 427.0h0M1845.9 425.5h0M1862.2 424.5h0M1878.6 424.0h0M1895.0 424.3h0M1911.4 425.5h0M1927.8 427.9h0M1944.1 432.0h0M1960.5 438.5h0M1976.9 449.0h0M1993.2 467.1h0M2009.6 504.2h0" stroke="#808080" stroke-width="9.0" stroke-linecap="round" fill="none"/>
<path d="M1935.9 1006.2h0M1937.6 1010.2h0M1939.2 1014.2h0M1940.9 1018.4h0M1942.5 1022.6h0M1944.1 1026.9h0M1945.8 1031.3h0M1947.4 1035.8h0M1949.0 1040.4h0M1950.7 1045.1h0M1952.3 1049.9h0M1954.0 1054.8h0M1955.6 1059.8h0" stroke="#a20404" stroke-width="8.6" stroke-linecap="round" fill="none"/><path d="M534.2 1061.9L535.9 1058.7L537.5 1055.6L539.1 1052.5L540.8 1049.4L542.4 1046.4L544.1 1043.4L545.7 1040.4L547.3 1037.5L549.0 1034.6L550.6 1031.8L552.2 1029.0L553.9 1026.2L555.5 1023.4L557.2 1020.7L558.8 1018.0L560.4 1015.3L562.1 1012.7L563.7 1010.1L565.4 1007.5L567.0 1004.9L568.6 1002.4L570.3 999.9L571.9 997.4L573.5 994.9L575.2 992.5L576.8 990.1L578.5 987.7L580.1 985.3L581.7 983.0L583.4 980.7L585.0 978.4L586.6 976.1L588.3 973.9L589.9 971.6L591.5 969.4L593.2 967.2L594.8 965.1L596.5 962.9L598.1 960.8L599.7 958.7L601.4 956.6L603.0 954.5L604.6 952.5L606.3 950.4L607.9 948.4L609.6 946.4L611.2 944.4L612.8 942.5L614.5 940.5L616.1 938.6L617.8 936.7L619.4 934.8L621.0 932.9L622.7 931.0L624.3 929.2L625.9 927.3L627.6 925.5L629.2 923.7L630.9 921.9L632.5 920.1L634.1 918.4L635.8 916.6L637.4 914.9L639.0 913.1L640.7 911.4L642.3 909.7L644.0 908.1L645.6 906.4L647.2 904.7L648.9 903.1L650.5 901.5L652.1 899.8L653.8 898.2L655.4 896.6L657.0 895.0L658.7 893.5L660.3 891.9L662.0 890.4L663.6 888.8L665.2 887.3L666.9 885.8L668.5 884.3L670.2 882.8L671.8 881.3L673.4 879.8L675.1 878.4L676.7 876.9L678.3 875.5L680.0 874.1L681.6 872.6L683.2 871.2L684.9 869.8L686.5 868.5L688.2 867.1L689.8 865.7L691.4 864.3L693.1 863.0L694.7 861.6L696.4 860.3L698.0 859.0L699.6 857.7L701.3 856.4L702.9 855.1L704.5 853.8L706.2 852.5L707.8 851.2L709.5 850.0L711.1 848.7L712.7 847.5L714.4 846.2L716.0 845.0L717.6 843.8L719.3 842.6L720.9 841.4L722.5 840.2L724.2 839.0L725.8 837.8L727.5 836.6L729.1 835.5L730.7 834.3L732.4 833.1L734.0 832.0L735.6 830.9L737.3 829.7L738.9 828.6L740.6 827.5L742.2 826.4L743.8 825.3L745.5 824.2L747.1 823.1L748.8 822.0L750.4 820.9L752.0 819.9L753.7 818.8L755.3 817.8L756.9 816.7L758.6 815.7L760.2 814.6L761.9 813.6L763.5 812.6L765.1 811.6L766.8 810.6L768.4 809.6L770.0 808.6L771.7 807.6L773.3 806.6L775.0 805.6L776.6 804.6L778.2 803.7L779.9 802.7L781.5 801.8L783.1 800.8L784.8 799.9L786.4 798.9L788.0 798.0L789.7 797.1L791.3 796.1L793.0 795.2L794.6 794.3L796.2 793.4L797.9 792.5L799.5 791.6L801.1 790.7L802.8 789.8L804.4 789.0L806.1 788.1L807.7 787.2L809.3 786.4L811.0 785.5L812.6 784.6L814.2 783.8L815.9 783.0L817.5 782.1L819.2 781.3L820.8 780.5L822.4 779.6L824.1 778.8L825.7 778.0L827.4 777.2L829.0 776.4L830.6 775.6L832.3 774.8L833.9 774.0L835.5 773.2L837.2 772.4L838.8 771.7L840.5 770.9L842.1 770.1L843.7 769.4L845.4 768.6L847.0 767.8L848.6 767.1L850.3 766.3L851.9 765.6L853.6 764.9L855.2 764.1L856.8 763.4L858.5 762.7L860.1 762.0L861.7 761.2L863.4 760.5L865.0 759.8L866.6 759.1L868.3 758.4L869.9 757.7L871.6 757.0L873.2 756.3L874.8 755.7L876.5 755.0L878.1 754.3L879.8 753.6L881.4 753.0L883.0 752.3L884.7 751.6L886.3 751.0L887.9 750.3L889.6 749.7L891.2 749.0L892.8 748.4L894.5 747.8L896.1 747.1L897.8 746.5L899.4 745.9L901.0 745.3L902.7 744.6L904.3 744.0L906.0 743.4L907.6 742.8L909.2 742.2L910.9 741.6L912.5 741.0L914.1 740.4L915.8 739.8L917.4 739.2L919.1 738.6L920.7 738.1L922.3 737.5L924.0 736.9L925.6 736.3L927.2 735.8L928.9 735.2L930.5 734.7L932.1 734.1L933.8 733.5L935.4 733.0L937.1 732.5L938.7 731.9L940.3 731.4L942.0 730.8L943.6 730.3L945.2 729.8L946.9 729.2L948.5 728.7L950.2 728.2L951.8 727.7L953.4 727.2L955.1 726.7L956.7 726.1L958.4 725.6L960.0 725.1L961.6 724.6L963.3 724.1L964.9 723.7L966.5 723.2L968.2 722.7L969.8 722.2L971.4 721.7L973.1 721.2L974.7 720.8L976.4 720.3L978.0 719.8L979.6 719.3L981.3 718.9L982.9 718.4L984.5 718.0L986.2 717.5L987.8 717.1L989.5 716.6L991.1 716.2L992.7 715.7L994.4 715.3L996.0 714.8L997.6 714.4L999.3 714.0L1000.9 713.6L1002.6 713.1L1004.2 712.7L1005.8 712.3L1007.5 711.9L1009.1 711.5L1010.8 711.0L1012.4 710.6L1014.0 710.2L1015.7 709.8L1017.3 709.4L1018.9 709.0L1020.6 708.6L1022.2 708.2L1023.9 707.8L1025.5 707.5L1027.1 707.1L1028.8 706.7L1030.4 706.3L1032.0 705.9L1033.7 705.6L1035.3 705.2L1037.0 704.8L1038.6 704.4L1040.2 704.1L1041.9 703.7L1043.5 703.4L1045.1 703.0L1046.8 702.6L1048.4 702.3L1050.1 701.9L1051.7 701.6L1053.3 701.3L1055.0 700.9L1056.6 700.6L1058.2 700.2L1059.9 699.9L1061.5 699.6L1063.2 699.2L1064.8 698.9L1066.4 698.6L1068.1 698.3L1069.7 698.0L1071.3 697.6L1073.0 697.3L1074.6 697.0L1076.2 696.7L1077.9 696.4L1079.5 696.1L1081.2 695.8L1082.8 695.5L1084.4 695.2L1086.1 694.9L1087.7 694.6L1089.3 694.3L1091.0 694.0L1092.6 693.7L1094.3 693.5L1095.9 693.2L1097.5 692.9L1099.2 692.6L1100.8 692.4L1102.5 692.1L1104.1 691.8L1105.7 691.5L1107.4 691.3L1109.0 691.0L1110.6 690.8L1112.3 690.5L1113.9 690.2L1115.5 690.0L1117.2 689.7L1118.8 689.5L1120.5 689.3L1122.1 689.0L1123.7 688.8L1125.4 688.5L1127.0 688.3L1128.7 688.1L1130.3 687.8L1131.9 687.6L1133.6 687.4L1135.2 687.1L1136.8 686.9L1138.5 686.7L1140.1 686.5L1141.8 686.3L1143.4 686.1L1145.0 685.8L1146.7 685.6L1148.3 685.4L1149.9 685.2L1151.6 685.0L1153.2 684.8L1154.8 684.6L1156.5 684.4L1158.1 684.2L1159.8 684.0L1161.4 683.9L1163.0 683.7L1164.7 683.5L1166.3 683.3L1168.0 683.1L1169.6 682.9L1171.2 682.8L1172.9 682.6L1174.5 682.4L1176.1 682.2L1177.8 682.1L1179.4 681.9L1181.0 681.8L1182.7 681.6L1184.3 681.4L1186.0 681.3L1187.6 681.1L1189.2 681.0L1190.9 680.8L1192.5 680.7L1194.2 680.5L1195.8 680.4L1197.4 680.2L1199.1 680.1L1200.7 680.0L1202.3 679.8L1204.0 679.7L1205.6 679.6L1207.2 679.4L1208.9 679.3L1210.5 679.2L1212.2 679.1L1213.8 678.9L1215.4 678.8L1217.1 678.7L1218.7 678.6L1220.3 678.5L1222.0 678.4L1223.6 678.3L1225.3 678.2L1226.9 678.1L1228.5 678.0L1230.2 677.9L1231.8 677.8L1233.5 677.7L1235.1 677.6L1236.7 677.5L1238.4 677.4L1240.0 677.3L1241.6 677.2L1243.3 677.2L1244.9 677.1L1246.6 677.0L1248.2 676.9L1249.8 676.9L1251.5 676.8L1253.1 676.7L1254.7 676.6L1256.4 676.6L1258.0 676.5L1259.7 676.5L1261.3 676.4L1262.9 676.4L1264.6 676.3L1266.2 676.2L1267.8 676.2L1269.5 676.1L1271.1 676.1L1272.8 676.1L1274.4 676.0L1276.0 676.0L1277.7 675.9L1279.3 675.9L1280.9 675.9L1282.6 675.9L1284.2 675.8L1285.8 675.8L1287.5 675.8L1289.1 675.8L1290.8 675.7L1292.4 675.7L1294.0 675.7L1295.7 675.7L1297.3 675.7L1299.0 675.7L1300.6 675.7L1302.2 675.7L1303.9 675.7L1305.5 675.7L1307.1 675.7L1308.8 675.7L1310.4 675.7L1312.1 675.7L1313.7 675.7L1315.3 675.7L1317.0 675.7L1318.6 675.7L1320.2 675.8L1321.9 675.8L1323.5 675.8L1325.2 675.8L1326.8 675.9L1328.4 675.9L1330.1 675.9L1331.7 676.0L1333.3 676.0L1335.0 676.0L1336.6 676.1L1338.2 676.1L1339.9 676.2L1341.5 676.2L1343.2 676.3L1344.8 676.3L1346.4 676.4L1348.1 676.4L1349.7 676.5L1351.3 676.6L1353.0 676.6L1354.6 676.7L1356.3 676.8L1357.9 676.8L1359.5 676.9L1361.2 677.0L1362.8 677.1L1364.4 677.1L1366.1 677.2L1367.7 677.3L1369.4 677.4L1371.0 677.5L1372.6 677.6L1374.3 677.7L1375.9 677.8L1377.5 677.9L1379.2 678.0L1380.8 678.1L1382.5 678.2L1384.1 678.3L1385.7 678.4L1387.4 678.5L1389.0 678.6L1390.7 678.7L1392.3 678.9L1393.9 679.0L1395.6 679.1L1397.2 679.2L1398.8 679.4L1400.5 679.5L1402.1 679.6L1403.8 679.8L1405.4 679.9L1407.0 680.1L1408.7 680.2L1410.3 680.3L1411.9 680.5L1413.6 680.6L1415.2 680.8L1416.8 680.9L1418.5 681.1L1420.1 681.3L1421.8 681.4L1423.4 681.6L1425.0 681.8L1426.7 681.9L1428.3 682.1L1430.0 682.3L1431.6 682.5L1433.2 682.6L1434.9 682.8L1436.5 683.0L1438.1 683.2L1439.8 683.4L1441.4 683.6L1443.0 683.8L1444.7 684.0L1446.3 684.2L1448.0 684.4L1449.6 684.6L1451.2 684.8L1452.9 685.0L1454.5 685.2L1456.2 685.4L1457.8 685.7L1459.4 685.9L1461.1 686.1L1462.7 686.3L1464.3 686.6L1466.0 686.8L1467.6 687.0L1469.2 687.3L1470.9 687.5L1472.5 687.8L1474.2 688.0L1475.8 688.3L1477.4 688.5L1479.1 688.8L1480.7 689.0L1482.4 689.3L1484.0 689.5L1485.6 689.8L1487.3 690.1L1488.9 690.3L1490.5 690.6L1492.2 690.9L1493.8 691.2L1495.5 691.5L1497.1 691.7L1498.7 692.0L1500.4 692.3L1502.0 692.6L1503.6 692.9L1505.3 693.2L1506.9 693.5L1508.6 693.8L1510.2 694.1L1511.8 694.4L1513.5 694.8L1515.1 695.1L1516.7 695.4L1518.4 695.7L1520.0 696.0L1521.7 696.4L1523.3 696.7L1524.9 697.0L1526.6 697.4L1528.2 697.7L1529.8 698.1L1531.5 698.4L1533.1 698.8L1534.8 699.1L1536.4 699.5L1538.0 699.8L1539.7 700.2L1541.3 700.6L1542.9 701.0L1544.6 701.3L1546.2 701.7L1547.8 702.1L1549.5 702.5L1551.1 702.9L1552.8 703.3L1554.4 703.6L1556.0 704.0L1557.7 704.4L1559.3 704.9L1561.0 705.3L1562.6 705.7L1564.2 706.1L1565.9 706.5L1567.5 706.9L1569.1 707.4L1570.8 707.8L1572.4 708.2L1574.0 708.7L1575.7 709.1L1577.3 709.5L1579.0 710.0L1580.6 710.4L1582.2 710.9L1583.9 711.4L1585.5 711.8L1587.1 712.3L1588.8 712.8L1590.4 713.2L1592.1 713.7L1593.7 714.2L1595.3 714.7L1597.0 715.2L1598.6 715.7L1600.2 716.2L1601.9 716.7L1603.5 717.2L1605.2 717.7L1606.8 718.2L1608.4 718.7L1610.1 719.2L1611.7 719.7L1613.3 720.3L1615.0 720.8L1616.6 721.4L1618.3 721.9L1619.9 722.4L1621.5 723.0L1623.2 723.5L1624.8 724.1L1626.5 724.7L1628.1 725.2L1629.7 725.8L1631.4 726.4L1633.0 727.0L1634.6 727.6L1636.3 728.2L1637.9 728.8L1639.5 729.4L1641.2 730.0L1642.8 730.6L1644.5 731.2L1646.1 731.8L1647.7 732.4L1649.4 733.1L1651.0 733.7L1652.7 734.3L1654.3 735.0L1655.9 735.6L1657.6 736.3L1659.2 736.9L1660.8 737.6L1662.5 738.3L1664.1 738.9L1665.8 739.6L1667.4 740.3L1669.0 741.0L1670.7 741.7L1672.3 742.4L1673.9 743.1L1675.6 743.8L1677.2 744.5L1678.9 745.3L1680.5 746.0L1682.1 746.7L1683.8 747.5L1685.4 748.2L1687.0 749.0L1688.7 749.7L1690.3 750.5L1692.0 751.3L1693.6 752.0L1695.2 752.8L1696.9 753.6L1698.5 754.4L1700.1 755.2L1701.8 756.0L1703.4 756.8L1705.1 757.7L1706.7 758.5L1708.3 759.3L1710.0 760.2L1711.6 761.0L1713.2 761.9L1714.9 762.7L1716.5 763.6L1718.2 764.5L1719.8 765.3L1721.4 766.2L1723.1 767.1L1724.7 768.0L1726.3 768.9L1728.0 769.9L1729.6 770.8L1731.2 771.7L1732.9 772.7L1734.5 773.6L1736.2 774.6L1737.8 775.5L1739.4 776.5L1741.1 777.5L1742.7 778.5L1744.4 779.5L1746.0 780.5L1747.6 781.5L1749.3 782.5L1750.9 783.5L1752.5 784.6L1754.2 785.6L1755.8 786.7L1757.5 787.7L1759.1 788.8L1760.7 789.9L1762.4 791.0L1764.0 792.1L1765.6 793.2L1767.3 794.3L1768.9 795.5L1770.5 796.6L1772.2 797.8L1773.8 798.9L1775.5 800.1L1777.1 801.3L1778.7 802.5L1780.4 803.7L1782.0 804.9L1783.6 806.1L1785.3 807.3L1786.9 808.6L1788.6 809.8L1790.2 811.1L1791.8 812.4L1793.5 813.7L1795.1 815.0L1796.8 816.3L1798.4 817.6L1800.0 819.0L1801.7 820.3L1803.3 821.7L1804.9 823.1L1806.6 824.5L1808.2 825.9L1809.8 827.3L1811.5 828.7L1813.1 830.2L1814.8 831.6L1816.4 833.1L1818.0 834.6L1819.7 836.1L1821.3 837.6L1823.0 839.2L1824.6 840.7L1826.2 842.3L1827.9 843.9L1829.5 845.5L1831.1 847.1L1832.8 848.7L1834.4 850.4L1836.0 852.0L1837.7 853.7L1839.3 855.4L1841.0 857.2L1842.6 858.9L1844.2 860.7L1845.9 862.4L1847.5 864.2L1849.2 866.0L1850.8 867.9L1852.4 869.7L1854.1 871.6L1855.7 873.5L1857.3 875.5L1859.0 877.4L1860.6 879.4L1862.2 881.4L1863.9 883.4L1865.5 885.4L1867.2 887.5L1868.8 889.6L1870.4 891.7L1872.1 893.8L1873.7 896.0L1875.4 898.2L1877.0 900.4L1878.6 902.7L1880.3 904.9L1881.9 907.2L1883.5 909.6L1885.2 912.0L1886.8 914.4L1888.5 916.8L1890.1 919.3L1891.7 921.8L1893.4 924.3L1895.0 926.9L1896.6 929.5L1898.3 932.1L1899.9 934.8L1901.6 937.5L1903.2 940.3L1904.8 943.1L1906.5 946.0L1908.1 948.9L1909.7 951.8L1911.4 954.8L1913.0 957.8L1914.7 960.9L1916.3 964.0L1917.9 967.2L1919.6 970.5L1921.2 973.8L1922.8 977.1L1924.5 980.5L1926.1 984.0L1927.8 987.5L1929.4 991.1L1931.0 994.8L1932.7 998.6L1934.3 1002.4" stroke="#a20404" stroke-width="10.2" stroke-linejoin="round" stroke-linecap="round" fill="none"/>
<path d="M978.0 1055.6h0M994.4 1040.7h0M1010.8 1026.2h0M1027.1 1012.1h0M1043.5 998.3h0M1059.9 985.0h0M1076.2 971.9h0M1092.6 959.2h0M1109.0 946.8h0M1125.4 934.7h0M1141.8 922.9h0M1158.1 911.3h0M1174.5 900.0h0M1190.9 889.0h0M1207.2 878.2h0M1223.6 867.7h0M1240.0 857.4h0M1256.4 847.3h0M1272.8 837.5h0M1289.1 827.9h0M1305.5 818.4h0M1321.9 809.2h0M1338.2 800.2h0M1354.6 791.4h0M1371.0 782.7h0M1387.4 774.3h0M1403.8 766.0h0M1420.1 758.0h0M1436.5 750.1h0M1452.9 742.3h0M1469.2 734.8h0M1485.6 727.5h0M1502.0 720.3h0M1518.4 713.3h0M1534.8 706.5h0M1551.1 699.8h0M1567.5 693.4h0M1583.9 687.1h0M1600.2 681.1h0M1616.6 675.2h0M1633.0 669.6h0M1649.4 664.1h0M1665.8 658.9h0M1682.1 653.9h0M1698.5 649.2h0M1714.9 644.7h0M1731.2 640.5h0M1747.6 636.6h0M1764.0 633.1h0M1780.4 629.9h0M1796.8 627.1h0M1813.1 624.9h0M1829.5 623.1h0M1845.9 622.0h0M1862.2 621.6h0M1878.6 622.1h0M1895.0 623.8h0M1911.4 626.8h0M1927.8 631.8h0M1944.1 639.3h0M1960.5 650.6h0M1976.9 668.1h0M1993.2 697.2h0M2009.6 755.4h0" stroke="#808080" stroke-width="9.0" stroke-linecap="round" fill="none"/>
<path d="M720.9 1062.6L722.5 1061.1L724.2 1059.7L725.8 1058.2L727.5 1056.7L729.1 1055.3L730.7 1053.9L732.4 1052.5L734.0 1051.0L735.6 1049.6L737.3 1048.2L738.9 1046.9L740.6 1045.5L742.2 1044.1L743.8 1042.8L745.5 1041.4L747.1 1040.1L748.8 1038.7L750.4 1037.4L752.0 1036.1L753.7 1034.8L755.3 1033.5L756.9 1032.2L758.6 1030.9L760.2 1029.6L761.9 1028.4L763.5 1027.1L765.1 1025.9L766.8 1024.6L768.4 1023.4L770.0 1022.2L771.7 1020.9L773.3 1019.7L775.0 1018.5L776.6 1017.3L778.2 1016.1L779.9 1014.9L781.5 1013.8L783.1 1012.6L784.8 1011.4L786.4 1010.3L788.0 1009.1L789.7 1008.0L791.3 1006.9L793.0 1005.7L794.6 1004.6L796.2 1003.5L797.9 1002.4L799.5 1001.3L801.1 1000.2L802.8 999.1L804.4 998.1L806.1 997.0L807.7 995.9L809.3 994.9L811.0 993.8L812.6 992.8L814.2 991.7L815.9 990.7L817.5 989.7L819.2 988.6L820.8 987.6L822.4 986.6L824.1 985.6L825.7 984.6L827.4 983.6L829.0 982.6L830.6 981.7L832.3 980.7L833.9 979.7L835.5 978.8L837.2 977.8L838.8 976.8L840.5 975.9L842.1 975.0L843.7 974.0L845.4 973.1L847.0 972.2L848.6 971.3L850.3 970.3L851.9 969.4L853.6 968.5L855.2 967.6L856.8 966.8L858.5 965.9L860.1 965.0L861.7 964.1L863.4 963.3L865.0 962.4L866.6 961.5L868.3 960.7L869.9 959.8L871.6 959.0L873.2 958.2L874.8 957.3L876.5 956.5L878.1 955.7L879.8 954.8L881.4 954.0L883.0 953.2L884.7 952.4L886.3 951.6L887.9 950.8L889.6 950.0L891.2 949.3L892.8 948.5L894.5 947.7L896.1 946.9L897.8 946.2L899.4 945.4L901.0 944.7L902.7 943.9L904.3 943.2L906.0 942.4L907.6 941.7L909.2 940.9L910.9 940.2L912.5 939.5L914.1 938.8L915.8 938.1L917.4 937.3L919.1 936.6L920.7 935.9L922.3 935.2L924.0 934.5L925.6 933.9L927.2 933.2L928.9 932.5L930.5 931.8L932.1 931.1L933.8 930.5L935.4 929.8L937.1 929.1L938.7 928.5L940.3 927.8L942.0 927.2L943.6 926.5L945.2 925.9L946.9 925.3L948.5 924.6L950.2 924.0L951.8 923.4L953.4 922.8L955.1 922.2L956.7 921.5L958.4 920.9L960.0 920.3L961.6 919.7L963.3 919.1L964.9 918.5L966.5 918.0L968.2 917.4L969.8 916.8L971.4 916.2L973.1 915.6L974.7 915.1L976.4 914.5L978.0 913.9L979.6 913.4L981.3 912.8L982.9 912.3L984.5 911.7L986.2 911.2L987.8 910.7L989.5 910.1L991.1 909.6L992.7 909.1L994.4 908.5L996.0 908.0L997.6 907.5L999.3 907.0L1000.9 906.5L1002.6 906.0L1004.2 905.5L1005.8 905.0L1007.5 904.5L1009.1 904.0L1010.8 903.5L1012.4 903.0L1014.0 902.5L1015.7 902.0L1017.3 901.5L1018.9 901.1L1020.6 900.6L1022.2 900.1L1023.9 899.7L1025.5 899.2L1027.1 898.8L1028.8 898.3L1030.4 897.9L1032.0 897.4L1033.7 897.0L1035.3 896.5L1037.0 896.1L1038.6 895.7L1040.2 895.2L1041.9 894.8L1043.5 894.4L1045.1 894.0L1046.8 893.6L1048.4 893.1L1050.1 892.7L1051.7 892.3L1053.3 891.9L1055.0 891.5L1056.6 891.1L1058.2 890.7L1059.9 890.3L1061.5 890.0L1063.2 889.6L1064.8 889.2L1066.4 888.8L1068.1 888.4L1069.7 888.1L1071.3 887.7L1073.0 887.3L1074.6 887.0L1076.2 886.6L1077.9 886.3L1079.5 885.9L1081.2 885.6L1082.8 885.2L1084.4 884.9L1086.1 884.5L1087.7 884.2L1089.3 883.9L1091.0 883.5L1092.6 883.2L1094.3 882.9L1095.9 882.5L1097.5 882.2L1099.2 881.9L1100.8 881.6L1102.5 881.3L1104.1 881.0L1105.7 880.7L1107.4 880.4L1109.0 880.1L1110.6 879.8L1112.3 879.5L1113.9 879.2L1115.5 878.9L1117.2 878.6L1118.8 878.3L1120.5 878.1L1122.1 877.8L1123.7 877.5L1125.4 877.3L1127.0 877.0L1128.7 876.7L1130.3 876.5L1131.9 876.2L1133.6 876.0L1135.2 875.7L1136.8 875.5L1138.5 875.2L1140.1 875.0L1141.8 874.7L1143.4 874.5L1145.0 874.3L1146.7 874.0L1148.3 873.8L1149.9 873.6L1151.6 873.4L1153.2 873.1L1154.8 872.9L1156.5 872.7L1158.1 872.5L1159.8 872.3L1161.4 872.1L1163.0 871.9L1164.7 871.7L1166.3 871.5L1168.0 871.3L1169.6 871.1L1171.2 870.9L1172.9 870.7L1174.5 870.5L1176.1 870.4L1177.8 870.2L1179.4 870.0L1181.0 869.8L1182.7 869.7L1184.3 869.5L1186.0 869.3L1187.6 869.2L1189.2 869.0L1190.9 868.9L1192.5 868.7L1194.2 868.6L1195.8 868.4L1197.4 868.3L1199.1 868.1L1200.7 868.0L1202.3 867.9L1204.0 867.7L1205.6 867.6L1207.2 867.5L1208.9 867.3L1210.5 867.2L1212.2 867.1L1213.8 867.0L1215.4 866.9L1217.1 866.8L1218.7 866.6L1220.3 866.5L1222.0 866.4L1223.6 866.3L1225.3 866.2L1226.9 866.2L1228.5 866.1L1230.2 866.0L1231.8 865.9L1233.5 865.8L1235.1 865.7L1236.7 865.6L1238.4 865.6L1240.0 865.5L1241.6 865.4L1243.3 865.4L1244.9 865.3L1246.6 865.2L1248.2 865.2L1249.8 865.1L1251.5 865.1L1253.1 865.0L1254.7 865.0L1256.4 864.9L1258.0 864.9L1259.7 864.9L1261.3 864.8L1262.9 864.8L1264.6 864.8L1266.2 864.7L1267.8 864.7L1269.5 864.7L1271.1 864.7L1272.8 864.6L1274.4 864.6L1276.0 864.6L1277.7 864.6L1279.3 864.6L1280.9 864.6L1282.6 864.6L1284.2 864.6L1285.8 864.6L1287.5 864.6L1289.1 864.6L1290.8 864.6L1292.4 864.7L1294.0 864.7L1295.7 864.7L1297.3 864.7L1299.0 864.8L1300.6 864.8L1302.2 864.8L1303.9 864.9L1305.5 864.9L1307.1 864.9L1308.8 865.0L1310.4 865.0L1312.1 865.1L1313.7 865.1L1315.3 865.2L1317.0 865.2L1318.6 865.3L1320.2 865.4L1321.9 865.4L1323.5 865.5L1325.2 865.6L1326.8 865.7L1328.4 865.7L1330.1 865.8L1331.7 865.9L1333.3 866.0L1335.0 866.1L1336.6 866.2L1338.2 866.3L1339.9 866.4L1341.5 866.5L1343.2 866.6L1344.8 866.7L1346.4 866.8L1348.1 866.9L1349.7 867.0L1351.3 867.2L1353.0 867.3L1354.6 867.4L1356.3 867.5L1357.9 867.7L1359.5 867.8L1361.2 867.9L1362.8 868.1L1364.4 868.2L1366.1 868.4L1367.7 868.5L1369.4 868.7L1371.0 868.8L1372.6 869.0L1374.3 869.1L1375.9 869.3L1377.5 869.5L1379.2 869.6L1380.8 869.8L1382.5 870.0L1384.1 870.2L1385.7 870.4L1387.4 870.5L1389.0 870.7L1390.7 870.9L1392.3 871.1L1393.9 871.3L1395.6 871.5L1397.2 871.7L1398.8 871.9L1400.5 872.1L1402.1 872.3L1403.8 872.6L1405.4 872.8L1407.0 873.0L1408.7 873.2L1410.3 873.5L1411.9 873.7L1413.6 873.9L1415.2 874.2L1416.8 874.4L1418.5 874.7L1420.1 874.9L1421.8 875.2L1423.4 875.4L1425.0 875.7L1426.7 875.9L1428.3 876.2L1430.0 876.5L1431.6 876.7L1433.2 877.0L1434.9 877.3L1436.5 877.6L1438.1 877.8L1439.8 878.1L1441.4 878.4L1443.0 878.7L1444.7 879.0L1446.3 879.3L1448.0 879.6L1449.6 879.9L1451.2 880.2L1452.9 880.6L1454.5 880.9L1456.2 881.2L1457.8 881.5L1459.4 881.8L1461.1 882.2L1462.7 882.5L1464.3 882.9L1466.0 883.2L1467.6 883.5L1469.2 883.9L1470.9 884.2L1472.5 884.6L1474.2 885.0L1475.8 885.3L1477.4 885.7L1479.1 886.1L1480.7 886.4L1482.4 886.8L1484.0 887.2L1485.6 887.6L1487.3 888.0L1488.9 888.4L1490.5 888.8L1492.2 889.2L1493.8 889.6L1495.5 890.0L1497.1 890.4L1498.7 890.8L1500.4 891.2L1502.0 891.6L1503.6 892.1L1505.3 892.5L1506.9 892.9L1508.6 893.4L1510.2 893.8L1511.8 894.3L1513.5 894.7L1515.1 895.2L1516.7 895.6L1518.4 896.1L1520.0 896.6L1521.7 897.0L1523.3 897.5L1524.9 898.0L1526.6 898.5L1528.2 898.9L1529.8 899.4L1531.5 899.9L1533.1 900.4L1534.8 900.9L1536.4 901.4L1538.0 902.0L1539.7 902.5L1541.3 903.0L1542.9 903.5L1544.6 904.0L1546.2 904.6L1547.8 905.1L1549.5 905.7L1551.1 906.2L1552.8 906.8L1554.4 907.3L1556.0 907.9L1557.7 908.4L1559.3 909.0L1561.0 909.6L1562.6 910.2L1564.2 910.7L1565.9 911.3L1567.5 911.9L1569.1 912.5L1570.8 913.1L1572.4 913.7L1574.0 914.3L1575.7 915.0L1577.3 915.6L1579.0 916.2L1580.6 916.8L1582.2 917.5L1583.9 918.1L1585.5 918.8L1587.1 919.4L1588.8 920.1L1590.4 920.7L1592.1 921.4L1593.7 922.1L1595.3 922.7L1597.0 923.4L1598.6 924.1L1600.2 924.8L1601.9 925.5L1603.5 926.2L1605.2 926.9L1606.8 927.6L1608.4 928.3L1610.1 929.1L1611.7 929.8L1613.3 930.5L1615.0 931.3L1616.6 932.0L1618.3 932.8L1619.9 933.5L1621.5 934.3L1623.2 935.0L1624.8 935.8L1626.5 936.6L1628.1 937.4L1629.7 938.2L1631.4 939.0L1633.0 939.8L1634.6 940.6L1636.3 941.4L1637.9 942.2L1639.5 943.1L1641.2 943.9L1642.8 944.7L1644.5 945.6L1646.1 946.4L1647.7 947.3L1649.4 948.2L1651.0 949.0L1652.7 949.9L1654.3 950.8L1655.9 951.7L1657.6 952.6L1659.2 953.5L1660.8 954.4L1662.5 955.3L1664.1 956.3L1665.8 957.2L1667.4 958.1L1669.0 959.1L1670.7 960.0L1672.3 961.0L1673.9 962.0L1675.6 962.9L1677.2 963.9L1678.9 964.9L1680.5 965.9L1682.1 966.9L1683.8 967.9L1685.4 969.0L1687.0 970.0L1688.7 971.0L1690.3 972.1L1692.0 973.1L1693.6 974.2L1695.2 975.3L1696.9 976.3L1698.5 977.4L1700.1 978.5L1701.8 979.6L1703.4 980.7L1705.1 981.8L1706.7 983.0L1708.3 984.1L1710.0 985.3L1711.6 986.4L1713.2 987.6L1714.9 988.8L1716.5 989.9L1718.2 991.1L1719.8 992.3L1721.4 993.5L1723.1 994.8L1724.7 996.0L1726.3 997.2L1728.0 998.5L1729.6 999.7L1731.2 1001.0L1732.9 1002.3L1734.5 1003.6L1736.2 1004.9L1737.8 1006.2L1739.4 1007.5L1741.1 1008.8L1742.7 1010.2L1744.4 1011.5L1746.0 1012.9L1747.6 1014.3L1749.3 1015.7L1750.9 1017.1L1752.5 1018.5L1754.2 1019.9L1755.8 1021.3L1757.5 1022.8L1759.1 1024.2L1760.7 1025.7L1762.4 1027.2L1764.0 1028.7L1765.6 1030.2L1767.3 1031.7L1768.9 1033.2L1770.5 1034.8L1772.2 1036.3L1773.8 1037.9L1775.5 1039.5L1777.1 1041.1L1778.7 1042.7L1780.4 1044.3L1782.0 1046.0L1783.6 1047.6L1785.3 1049.3L1786.9 1051.0L1788.6 1052.7L1790.2 1054.4L1791.8 1056.1L1793.5 1057.9L1795.1 1059.6L1796.8 1061.4" stroke="#a60707" stroke-width="10.2" stroke-linejoin="round" stroke-linecap="round" fill="none"/>
<path d="M1289.1 1062.6h0M1305.5 1050.7h0M1321.9 1039.1h0M1338.2 1027.7h0M1354.6 1016.6h0M1371.0 1005.7h0M1387.4 995.1h0M1403.8 984.8h0M1420.1 974.7h0M1436.5 964.8h0M1452.9 955.1h0M1469.2 945.7h0M1485.6 936.6h0M1502.0 927.6h0M1518.4 918.9h0M1534.8 910.5h0M1551.1 902.3h0M1567.5 894.3h0M1583.9 886.6h0M1600.2 879.2h0M1616.6 872.0h0M1633.0 865.1h0M1649.4 858.5h0M1665.8 852.2h0M1682.1 846.2h0M1698.5 840.5h0M1714.9 835.2h0M1731.2 830.3h0M1747.6 825.8h0M1764.0 821.7h0M1780.4 818.2h0M1796.8 815.2h0M1813.1 812.9h0M1829.5 811.3h0M1845.9 810.6h0M1862.2 810.8h0M1878.6 812.3h0M1895.0 815.3h0M1911.4 820.3h0M1927.8 827.8h0M1944.1 838.8h0M1960.5 855.0h0M1976.9 879.5h0M1993.2 919.6h0M2009.6 998.9h0" stroke="#808080" stroke-width="9.0" stroke-linecap="round" fill="none"/>
<path d="M1117.2 1062.5L1118.8 1062.2L1120.5 1061.9L1122.1 1061.6L1123.7 1061.3L1125.4 1061.0L1127.0 1060.7L1128.7 1060.4L1130.3 1060.1L1131.9 1059.8L1133.6 1059.6L1135.2 1059.3L1136.8 1059.0L1138.5 1058.7L1140.1 1058.5L1141.8 1058.2L1143.4 1057.9L1145.0 1057.7L1146.7 1057.4L1148.3 1057.2L1149.9 1056.9L1151.6 1056.7L1153.2 1056.4L1154.8 1056.2L1156.5 1056.0L1158.1 1055.7L1159.8 1055.5L1161.4 1055.3L1163.0 1055.1L1164.7 1054.9L1166.3 1054.7L1168.0 1054.4L1169.6 1054.2L1171.2 1054.0L1172.9 1053.8L1174.5 1053.6L1176.1 1053.5L1177.8 1053.3L1179.4 1053.1L1181.0 1052.9L1182.7 1052.7L1184.3 1052.6L1186.0 1052.4L1187.6 1052.2L1189.2 1052.0L1190.9 1051.9L1192.5 1051.7L1194.2 1051.6L1195.8 1051.4L1197.4 1051.3L1199.1 1051.1L1200.7 1051.0L1202.3 1050.9L1204.0 1050.7L1205.6 1050.6L1207.2 1050.5L1208.9 1050.3L1210.5 1050.2L1212.2 1050.1L1213.8 1050.0L1215.4 1049.9L1217.1 1049.8L1218.7 1049.7L1220.3 1049.6L1222.0 1049.5L1223.6 1049.4L1225.3 1049.3L1226.9 1049.2L1228.5 1049.1L1230.2 1049.1L1231.8 1049.0L1233.5 1048.9L1235.1 1048.8L1236.7 1048.8L1238.4 1048.7L1240.0 1048.7L1241.6 1048.6L1243.3 1048.5L1244.9 1048.5L1246.6 1048.5L1248.2 1048.4L1249.8 1048.4L1251.5 1048.3L1253.1 1048.3L1254.7 1048.3L1256.4 1048.3L1258.0 1048.2L1259.7 1048.2L1261.3 1048.2L1262.9 1048.2L1264.6 1048.2L1266.2 1048.2L1267.8 1048.2L1269.5 1048.2L1271.1 1048.2L1272.8 1048.2L1274.4 1048.2L1276.0 1048.2L1277.7 1048.2L1279.3 1048.3L1280.9 1048.3L1282.6 1048.3L1284.2 1048.3L1285.8 1048.4L1287.5 1048.4L1289.1 1048.5L1290.8 1048.5L1292.4 1048.6L1294.0 1048.6L1295.7 1048.7L1297.3 1048.7L1299.0 1048.8L1300.6 1048.9L1302.2 1048.9L1303.9 1049.0L1305.5 1049.1L1307.1 1049.2L1308.8 1049.3L1310.4 1049.3L1312.1 1049.4L1313.7 1049.5L1315.3 1049.6L1317.0 1049.7L1318.6 1049.8L1320.2 1049.9L1321.9 1050.1L1323.5 1050.2L1325.2 1050.3L1326.8 1050.4L1328.4 1050.5L1330.1 1050.7L1331.7 1050.8L1333.3 1050.9L1335.0 1051.1L1336.6 1051.2L1338.2 1051.4L1339.9 1051.5L1341.5 1051.7L1343.2 1051.8L1344.8 1052.0L1346.4 1052.2L1348.1 1052.3L1349.7 1052.5L1351.3 1052.7L1353.0 1052.9L1354.6 1053.1L1356.3 1053.2L1357.9 1053.4L1359.5 1053.6L1361.2 1053.8L1362.8 1054.0L1364.4 1054.2L1366.1 1054.4L1367.7 1054.7L1369.4 1054.9L1371.0 1055.1L1372.6 1055.3L1374.3 1055.5L1375.9 1055.8L1377.5 1056.0L1379.2 1056.2L1380.8 1056.5L1382.5 1056.7L1384.1 1057.0L1385.7 1057.2L1387.4 1057.5L1389.0 1057.8L1390.7 1058.0L1392.3 1058.3L1393.9 1058.6L1395.6 1058.8L1397.2 1059.1L1398.8 1059.4L1400.5 1059.7L1402.1 1060.0L1403.8 1060.3L1405.4 1060.6L1407.0 1060.9L1408.7 1061.2L1410.3 1061.5L1411.9 1061.8L1413.6 1062.1L1415.2 1062.5L1416.8 1062.8" stroke="#aa0a0a" stroke-width="10.2" stroke-linejoin="round" stroke-linecap="round" fill="none"/>
<path d="M1633.0 1055.6h0M1649.4 1047.8h0M1665.8 1040.4h0M1682.1 1033.4h0M1698.5 1026.8h0M1714.9 1020.6h0M1731.2 1015.0h0M1747.6 1009.9h0M1764.0 1005.3h0M1780.4 1001.4h0M1796.8 998.3h0M1813.1 995.9h0M1829.5 994.5h0M1845.9 994.1h0M1862.2 995.1h0M1878.6 997.5h0M1895.0 1002.0h0M1911.4 1008.8h0M1927.8 1018.9h0M1944.1 1033.4h0M1960.5 1054.4h0" stroke="#808080" stroke-width="9.0" stroke-linecap="round" fill="none"/>
</g>
<path d="M388.5 1047.3v-18.5M388.5 155.5v18.5M470.4 1047.3v-10.2M470.4 155.5v10.2M552.2 1047.3v-10.2M552.2 155.5v10.2M634.1 1047.3v-10.2M634.1 155.5v10.2M716.0 1047.3v-18.5M716.0 155.5v18.5M797.9 1047.3v-10.2M797.9 155.5v10.2M879.8 1047.3v-10.2M879.8 155.5v10.2M961.6 1047.3v-10.2M961.6 155.5v10.2M1043.5 1047.3v-18.5M1043.5 155.5v18.5M1125.4 1047.3v-10.2M1125.4 155.5v10.2M1207.2 1047.3v-10.2M1207.2 155.5v10.2M1289.1 1047.3v-10.2M1289.1 155.5v10.2M1371.0 1047.3v-18.5M1371.0 155.5v18.5M1452.9 1047.3v-10.2M1452.9 155.5v10.2M1534.8 1047.3v-10.2M1534.8 155.5v10.2M1616.6 1047.3v-10.2M1616.6 155.5v10.2M1698.5 1047.3v-18.5M1698.5 155.5v18.5M1780.4 1047.3v-10.2M1780.4 155.5v10.2M1862.2 1047.3v-10.2M1862.2 155.5v10.2M1944.1 1047.3v-10.2M1944.1 155.5v10.2M2026.0 1047.3v-18.5M2026.0 155.5v18.5M389.2 1005.9h9.9M389.2 974.4h9.9M389.2 952.1h9.9M389.2 934.8h9.9M389.2 920.7h9.9M389.2 908.7h9.9M389.2 898.4h9.9M389.2 889.3h9.9M389.2 881.1h16M389.2 827.4h9.9M389.2 795.9h9.9M389.2 773.6h9.9M389.2 756.3h9.9M389.2 742.2h9.9M389.2 730.2h9.9M389.2 719.9h9.9M389.2 710.8h9.9M389.2 702.6h16M389.2 648.9h9.9M389.2 617.4h9.9M389.2 595.1h9.9M389.2 577.8h9.9M389.2 563.7h9.9M389.2 551.7h9.9M389.2 541.4h9.9M389.2 532.3h9.9M389.2 524.1h16M389.2 470.4h9.9M389.2 438.9h9.9M389.2 416.6h9.9M389.2 399.3h9.9M389.2 385.2h9.9M389.2 373.2h9.9M389.2 362.9h9.9M389.2 353.8h9.9M389.2 345.6h16M389.2 291.9h9.9M389.2 260.4h9.9M389.2 238.1h9.9M389.2 220.8h9.9M389.2 206.7h9.9M389.2 194.7h9.9M389.2 184.4h9.9M389.2 175.3h9.9M389.2 167.1h16M2026.4 1011.7h-13.2M2026.4 972.9h-13.2M2026.4 934.2h-13.2M2026.4 895.4h-16.3M2026.4 856.6h-13.2M2026.4 817.9h-13.2M2026.4 779.1h-13.2M2026.4 740.4h-16.3M2026.4 701.6h-13.2M2026.4 662.8h-13.2M2026.4 624.1h-13.2M2026.4 585.3h-16.3M2026.4 546.6h-13.2M2026.4 507.8h-13.2M2026.4 469.0h-13.2M2026.4 430.3h-16.3M2026.4 391.5h-13.2M2026.4 352.8h-13.2M2026.4 314.0h-13.2M2026.4 275.2h-16.3M2026.4 236.5h-13.2M2026.4 197.7h-13.2M2026.4 158.9h-13.2" stroke="#000" stroke-width="3.1" fill="none"/>
<rect x="389.2" y="155.5" width="1637.2" height="891.8" fill="none" stroke="#000" stroke-width="3.4"/>
<g id="ticklabels">
<text class="t" transform="matrix(0.5997 0 0 0.5847 345.30 1119.42)">0.0</text>
<text class="t" transform="matrix(0.5718 0 0 0.5847 676.51 1119.42)">0.2</text>
<text class="t" transform="matrix(0.5561 0 0 0.5847 1004.08 1119.42)">0.4</text>
<text class="t" transform="matrix(0.5837 0 0 0.5847 1328.57 1119.42)">0.6</text>
<text class="t" transform="matrix(0.5792 0 0 0.5847 1657.98 1119.42)">0.8</text>
<text class="t" transform="matrix(0.5591 0 0 0.5847 1987.78 1119.42)">1.0</text>
<text class="t" transform="matrix(0.5861 0 0 0.5749 223.96 185.73)">0.010</text>
<text class="t" transform="matrix(0.5748 0 0 0.5819 224.00 364.42)">0.001</text>
<text class="t" transform="matrix(0.5784 0 0 0.5862 260.76 551.01)">10</text>
<text class="t" transform="matrix(0.2908 0 0 0.4587 326.81 534.55)">−</text>
<text class="t" transform="matrix(0.3806 0 0 0.4331 345.03 528.60)">4</text>
<text class="t" transform="matrix(0.5784 0 0 0.5862 260.76 730.71)">10</text>
<text class="t" transform="matrix(0.2908 0 0 0.4587 326.81 714.25)">−</text>
<text class="t" transform="matrix(0.4105 0 0 0.4269 344.33 707.87)">5</text>
<text class="t" transform="matrix(0.5784 0 0 0.5862 260.76 907.01)">10</text>
<text class="t" transform="matrix(0.2908 0 0 0.4587 326.81 890.55)">−</text>
<text class="t" transform="matrix(0.4224 0 0 0.4209 344.04 884.18)">6</text>
</g>
<g id="labels">
<text class="i" transform="matrix(0.9481 0 0 0.7692 405.06 220.23)">s</text><text transform="matrix(0.5455 0 0 0.6924 448.30 250.50)">1</text><text transform="matrix(0.9416 0 0 0.8181 484.56 220.97)">(</text><text class="i" transform="matrix(0.7324 0 0 0.8030 527.08 221.06)">y</text><text transform="matrix(0.9105 0 0 0.8181 565.29 220.97)">)</text>
<text class="i" transform="matrix(0.8856 0 0 0.7692 597.45 323.43)">c</text><text transform="matrix(0.5455 0 0 0.6924 642.30 353.70)">1</text><text transform="matrix(0.9416 0 0 0.8181 678.56 324.17)">(</text><text class="i" transform="matrix(0.7324 0 0 0.8030 721.08 324.26)">y</text><text transform="matrix(0.9105 0 0 0.8181 759.29 324.17)">)</text>
<text class="i" transform="matrix(0.9481 0 0 0.7692 1243.66 390.83)">s</text><text transform="matrix(0.7656 0 0 0.6903 1281.28 421.10)">2</text><text transform="matrix(0.9416 0 0 0.8181 1323.16 391.57)">(</text><text class="i" transform="matrix(0.7324 0 0 0.8030 1365.68 391.66)">y</text><text transform="matrix(0.9105 0 0 0.8181 1403.89 391.57)">)</text>
<text class="i" transform="matrix(0.8856 0 0 0.7692 1587.35 405.43)">c</text><text transform="matrix(0.7656 0 0 0.6903 1628.58 435.70)">2</text><text class="i" transform="matrix(0.6562 0 0 0.6727 1628.71 355.60)">A</text><text transform="matrix(0.9416 0 0 0.8181 1677.16 406.17)">(</text><text class="i" transform="matrix(0.7324 0 0 0.8030 1720.08 406.26)">y</text><text transform="matrix(0.9105 0 0 0.8181 1756.99 406.17)">)</text>
<text class="i" transform="matrix(0.9481 0 0 0.7692 892.96 588.23)">s</text><text transform="matrix(0.6150 0 0 0.6905 933.65 618.51)">3</text><text transform="matrix(0.9416 0 0 0.8181 972.46 588.97)">(</text><text class="i" transform="matrix(0.7324 0 0 0.8030 1014.98 589.06)">y</text><text transform="matrix(0.9105 0 0 0.8181 1053.19 588.97)">)</text>
<text class="i" transform="matrix(0.9481 0 0 0.7692 995.06 775.93)">s</text><text transform="matrix(0.6983 0 0 0.6945 1033.80 806.20)">4</text><text transform="matrix(0.9416 0 0 0.8181 1074.56 776.67)">(</text><text class="i" transform="matrix(0.7324 0 0 0.8030 1117.08 776.76)">y</text><text transform="matrix(0.9105 0 0 0.8181 1155.29 776.67)">)</text>
<text class="i" transform="matrix(0.9481 0 0 0.7692 1161.76 953.53)">s</text><text transform="matrix(0.6675 0 0 0.6977 1200.78 983.80)">5</text><text transform="matrix(0.9416 0 0 0.8181 1241.26 954.27)">(</text><text class="i" transform="matrix(0.7324 0 0 0.8030 1283.78 954.36)">y</text><text transform="matrix(0.9105 0 0 0.8181 1321.99 954.27)">)</text>
<text class="i" transform="matrix(0.8856 0 0 0.7692 24.25 632.13)">c</text><text transform="matrix(0.7656 0 0 0.6903 65.48 662.40)">2</text><text transform="matrix(0.9416 0 0 0.8181 105.36 632.87)">(</text><text class="i" transform="matrix(0.7324 0 0 0.8030 147.88 632.96)">y</text><text transform="matrix(0.9105 0 0 0.8181 186.09 632.87)">)</text>
<text class="i" transform="matrix(0.8856 0 0 0.7692 24.25 820.33)">c</text><text transform="matrix(0.6150 0 0 0.6905 68.55 850.61)">3</text><text transform="matrix(0.9416 0 0 0.8181 105.36 821.07)">(</text><text class="i" transform="matrix(0.7324 0 0 0.8030 147.88 821.16)">y</text><text transform="matrix(0.9105 0 0 0.8181 186.09 821.07)">)</text>
<text class="i" transform="matrix(0.8856 0 0 0.7692 29.15 988.13)">c</text><text transform="matrix(0.6983 0 0 0.6945 71.50 1018.40)">4</text><text transform="matrix(0.9416 0 0 0.8181 110.26 988.87)">(</text><text class="i" transform="matrix(0.7324 0 0 0.8030 152.78 988.96)">y</text><text transform="matrix(0.9105 0 0 0.8181 190.99 988.87)">)</text>
<text class="i" transform="matrix(0.8856 0 0 0.7692 2211.25 155.03)">c</text><text transform="matrix(0.5455 0 0 0.6924 2256.10 185.30)">1</text><text class="i" transform="matrix(0.6562 0 0 0.6727 2252.61 102.50)">A</text><text transform="matrix(0.9416 0 0 0.8181 2301.06 155.77)">(</text><text class="i" transform="matrix(0.7324 0 0 0.8030 2343.98 155.86)">y</text><text transform="matrix(0.9105 0 0 0.8181 2380.89 155.77)">)</text>
<text class="i" transform="matrix(0.9481 0 0 0.7692 2216.76 284.93)">s</text><text transform="matrix(0.5455 0 0 0.6924 2260.00 315.20)">1</text><text class="i" transform="matrix(0.6562 0 0 0.6727 2256.51 232.40)">A</text><text transform="matrix(0.9416 0 0 0.8181 2304.96 285.67)">(</text><text class="i" transform="matrix(0.7324 0 0 0.8030 2347.88 285.76)">y</text><text transform="matrix(0.9105 0 0 0.8181 2384.79 285.67)">)</text>
<text class="i" transform="matrix(0.9481 0 0 0.7692 2205.16 431.83)">s</text><text transform="matrix(0.7656 0 0 0.6903 2242.78 462.10)">2</text><text class="i" transform="matrix(0.6562 0 0 0.6727 2244.91 382.00)">A</text><text transform="matrix(0.9416 0 0 0.8181 2293.36 432.57)">(</text><text class="i" transform="matrix(0.7324 0 0 0.8030 2336.28 432.66)">y</text><text transform="matrix(0.9105 0 0 0.8181 2373.19 432.57)">)</text>
<text class="i" transform="matrix(0.8856 0 0 0.7692 2216.35 567.63)">c</text><text transform="matrix(0.6150 0 0 0.6905 2260.65 597.91)">3</text><text class="i" transform="matrix(0.6562 0 0 0.6727 2257.71 517.80)">A</text><text transform="matrix(0.9416 0 0 0.8181 2306.16 568.37)">(</text><text class="i" transform="matrix(0.7324 0 0 0.8030 2349.08 568.46)">y</text><text transform="matrix(0.9105 0 0 0.8181 2385.99 568.37)">)</text>
<text class="i" transform="matrix(0.9481 0 0 0.7692 2213.26 700.23)">s</text><text transform="matrix(0.6150 0 0 0.6905 2253.95 730.51)">3</text><text class="i" transform="matrix(0.6562 0 0 0.6727 2253.01 650.40)">A</text><text transform="matrix(0.9416 0 0 0.8181 2301.46 700.97)">(</text><text class="i" transform="matrix(0.7324 0 0 0.8030 2344.38 701.06)">y</text><text transform="matrix(0.9105 0 0 0.8181 2381.29 700.97)">)</text>
<text class="i" transform="matrix(0.8856 0 0 0.7692 2216.75 838.13)">c</text><text transform="matrix(0.6983 0 0 0.6945 2259.10 868.40)">4</text><text class="i" transform="matrix(0.6562 0 0 0.6727 2258.11 788.30)">A</text><text transform="matrix(0.9416 0 0 0.8181 2306.56 838.87)">(</text><text class="i" transform="matrix(0.7324 0 0 0.8030 2349.48 838.96)">y</text><text transform="matrix(0.9105 0 0 0.8181 2386.39 838.87)">)</text>
<text class="i" transform="matrix(0.9481 0 0 0.7692 2218.56 976.53)">s</text><text transform="matrix(0.6983 0 0 0.6945 2257.30 1006.80)">4</text><text class="i" transform="matrix(0.6562 0 0 0.6727 2258.31 926.70)">A</text><text transform="matrix(0.9416 0 0 0.8181 2306.76 977.27)">(</text><text class="i" transform="matrix(0.7324 0 0 0.8030 2349.68 977.36)">y</text><text transform="matrix(0.9105 0 0 0.8181 2386.59 977.27)">)</text>
<text class="i" transform="matrix(0.8856 0 0 0.7692 2225.55 1101.83)">c</text><text transform="matrix(0.6675 0 0 0.6977 2268.18 1132.10)">5</text><text class="i" transform="matrix(0.6562 0 0 0.6727 2266.91 1053.80)">A</text><text transform="matrix(0.9416 0 0 0.8181 2317.36 1102.57)">(</text><text class="i" transform="matrix(0.7324 0 0 0.8030 2360.28 1102.66)">y</text><text transform="matrix(0.9105 0 0 0.8181 2397.19 1102.57)">)</text>
<text class="i" transform="matrix(0.8653 0 0 0.7837 2109.48 1113.27)">y</text>
<rect x="216.7" y="24.3" width="3.4" height="88.3" fill="#000"/><rect x="422.8" y="24.3" width="3.4" height="88.3" fill="#000"/>
<text transform="matrix(0.9342 0 0 0.8386 230.03 94.00)">r</text>
<text transform="matrix(0.8838 0 0 0.8378 261.55 93.96)">e</text>
<text transform="matrix(0.9611 0 0 0.8269 304.97 94.19)">(</text>
<text class="i" transform="matrix(0.7021 0 0 0.8119 347.53 94.26)">y</text>
<text transform="matrix(1.0350 0 0 0.8269 382.49 94.19)">)</text>
</g>
<g id="arrows">
<path d="M2181.0 146.5L2065.4 182.9" stroke="#ec0000" stroke-width="3.1" fill="none"/>
<path d="M1969.5 213.0L2056.7 155.2L2074.1 210.5Z" fill="#ec0000"/>
<path d="M2194.5 280.0L2078.7 311.8" stroke="#ec0000" stroke-width="3.1" fill="none"/>
<path d="M1981.8 338.4L2071.0 283.8L2086.4 339.8Z" fill="#ec0000"/>
<path d="M2188.9 418.7L1987.1 474.0" stroke="#ec0000" stroke-width="3.1" fill="none"/>
<path d="M1890.2 500.5L1979.5 446.0L1994.8 501.9Z" fill="#ec0000"/>
<path d="M2188.9 568.7L2049.1 605.6" stroke="#ec0000" stroke-width="3.1" fill="none"/>
<path d="M1951.9 631.2L2041.7 577.5L2056.5 633.6Z" fill="#ec0000"/>
<path d="M2189.2 692.9L1898.5 680.8" stroke="#ec0000" stroke-width="3.1" fill="none"/>
<rect x="2186.7" y="690.1" width="5.5" height="5.6" fill="#ec0000"/>
<path d="M1798.1 676.6L1899.7 651.8L1897.3 709.8Z" fill="#ec0000"/>
<path d="M2189.2 817.8L1976.9 814.3" stroke="#ec0000" stroke-width="3.1" fill="none"/>
<rect x="2186.7" y="815.0" width="5.5" height="5.6" fill="#ec0000"/>
<path d="M1876.4 812.7L1977.4 785.3L1976.4 843.3Z" fill="#ec0000"/>
<path d="M2212.4 940.8L2022.5 923.6" stroke="#ec0000" stroke-width="3.1" fill="none"/>
<path d="M1922.4 914.6L2025.1 894.8L2019.9 952.5Z" fill="#ec0000"/>
<path d="M2212.4 1066.2L1911.0 1016.5" stroke="#ec0000" stroke-width="3.1" fill="none"/>
<path d="M1811.8 1000.2L1915.7 987.9L1906.2 1045.2Z" fill="#ec0000"/>
<path d="M238.0 617.6L632.9 603.7" stroke="#ec0000" stroke-width="3.1" fill="none"/>
<rect x="235.5" y="614.8" width="5.5" height="5.6" fill="#ec0000"/>
<path d="M733.3 600.2L633.9 632.7L631.8 574.7Z" fill="#ec0000"/>
<path d="M223.2 820.5L523.5 896.2" stroke="#ec0000" stroke-width="3.1" fill="none"/>
<path d="M621.0 920.8L516.5 924.3L530.6 868.1Z" fill="#ec0000"/>
<path d="M223.2 970.6L645.3 1010.8" stroke="#ec0000" stroke-width="3.1" fill="none"/>
<path d="M745.3 1020.3L642.5 1039.6L648.0 981.9Z" fill="#ec0000"/>
</g>
</svg></body></html>
